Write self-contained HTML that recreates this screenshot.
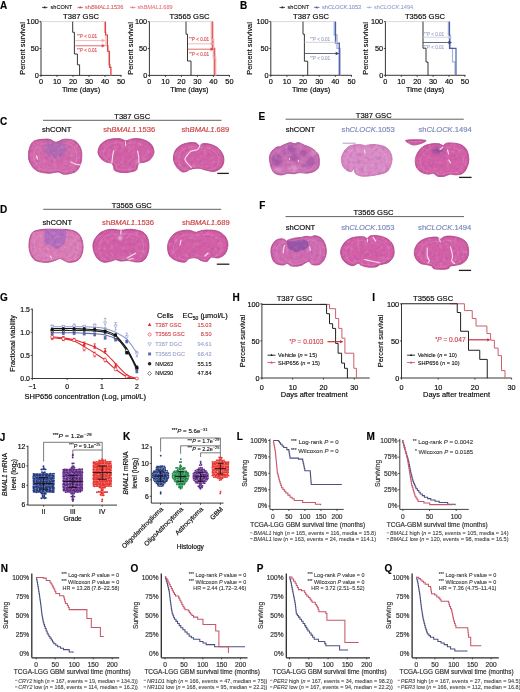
<!DOCTYPE html>
<html><head><meta charset="utf-8"><style>
html,body{margin:0;padding:0;background:#fff;}
svg{display:block;}
text{font-family:'Liberation Sans', Arial, sans-serif;}
</style></head><body>
<svg width="520" height="692" viewBox="0 0 520 692" font-family="'Liberation Sans', Arial, sans-serif"><text x="0.00" y="9.30" font-size="10" font-weight="bold" stroke="#231f20" stroke-width="0.18">A</text>
<line x1="42.00" y1="7.40" x2="47.50" y2="7.40" stroke="#231f20" stroke-width="0.8"/>
<path d="M44.75,6.10 L46.10,8.30 L43.40,8.30 Z" fill="#231f20"/>
<text x="50.50" y="9.30" font-size="5.6" stroke="#231f20" stroke-width="0.1">shCONT</text>
<line x1="77.50" y1="7.40" x2="83.00" y2="7.40" stroke="#dc4446" stroke-width="0.8"/>
<path d="M80.25,6.10 L81.60,8.30 L78.90,8.30 Z" fill="#dc4446"/>
<text x="85" y="9.3" font-size="5.6" fill="#d9605f" stroke="#d9605f" stroke-width="0.1">sh<tspan font-style="italic">BMAL1</tspan>.1536</text>
<line x1="130.00" y1="7.40" x2="135.50" y2="7.40" stroke="#e8787a" stroke-width="0.8"/>
<path d="M132.75,6.10 L134.10,8.30 L131.40,8.30 Z" fill="#e8787a"/>
<text x="137.5" y="9.3" font-size="5.6" fill="#e8787a" stroke="#e8787a" stroke-width="0.1">sh<tspan font-style="italic">BMAL1</tspan>.689</text>
<line x1="41.00" y1="21.10" x2="41.00" y2="75.80" stroke="#231f20" stroke-width="0.9"/>
<line x1="41.00" y1="75.40" x2="121.50" y2="75.40" stroke="#231f20" stroke-width="0.9"/>
<line x1="39.40" y1="21.60" x2="41.00" y2="21.60" stroke="#231f20" stroke-width="0.8"/>
<text x="38.80" y="24.20" font-size="7.3" text-anchor="end" stroke="#231f20" stroke-width="0.18">100</text>
<line x1="39.40" y1="48.50" x2="41.00" y2="48.50" stroke="#231f20" stroke-width="0.8"/>
<text x="38.80" y="51.10" font-size="7.3" text-anchor="end" stroke="#231f20" stroke-width="0.18">50</text>
<line x1="39.40" y1="75.40" x2="41.00" y2="75.40" stroke="#231f20" stroke-width="0.8"/>
<text x="38.80" y="78.00" font-size="7.3" text-anchor="end" stroke="#231f20" stroke-width="0.18">0</text>
<line x1="41.00" y1="75.40" x2="41.00" y2="77.00" stroke="#231f20" stroke-width="0.8"/>
<text x="41.00" y="84.30" font-size="7.3" text-anchor="middle" stroke="#231f20" stroke-width="0.18">0</text>
<line x1="57.00" y1="75.40" x2="57.00" y2="77.00" stroke="#231f20" stroke-width="0.8"/>
<text x="57.00" y="84.30" font-size="7.3" text-anchor="middle" stroke="#231f20" stroke-width="0.18">10</text>
<line x1="73.00" y1="75.40" x2="73.00" y2="77.00" stroke="#231f20" stroke-width="0.8"/>
<text x="73.00" y="84.30" font-size="7.3" text-anchor="middle" stroke="#231f20" stroke-width="0.18">20</text>
<line x1="89.00" y1="75.40" x2="89.00" y2="77.00" stroke="#231f20" stroke-width="0.8"/>
<text x="89.00" y="84.30" font-size="7.3" text-anchor="middle" stroke="#231f20" stroke-width="0.18">30</text>
<line x1="105.00" y1="75.40" x2="105.00" y2="77.00" stroke="#231f20" stroke-width="0.8"/>
<text x="105.00" y="84.30" font-size="7.3" text-anchor="middle" stroke="#231f20" stroke-width="0.18">40</text>
<line x1="121.00" y1="75.40" x2="121.00" y2="77.00" stroke="#231f20" stroke-width="0.8"/>
<text x="121.00" y="84.30" font-size="7.3" text-anchor="middle" stroke="#231f20" stroke-width="0.18">50</text>
<text x="81.00" y="18.90" font-size="7.6" text-anchor="middle" stroke="#231f20" stroke-width="0.18">T387 GSC</text>
<text x="24.50" y="48.50" font-size="7.4" text-anchor="middle" transform="rotate(-90 24.50 48.50)" stroke="#231f20" stroke-width="0.18">Percent survival</text>
<text x="81.00" y="92.00" font-size="7.3" text-anchor="middle" stroke="#231f20" stroke-width="0.18">Time (days)</text>
<path d="M104.50,21.60 L104.50,21.60 L104.50,32.36 L106.00,32.36 L106.00,32.36 L106.00,32.36 L106.00,45.81 L108.50,45.81 L108.50,45.81 L108.50,45.81 L108.50,64.64 L110.50,64.64 L110.50,64.64 L110.50,64.64 L110.50,75.40" stroke="#f0a8ab" stroke-width="1.1" fill="none"/>
<path d="M105.50,21.60 L105.50,21.60 L105.50,35.05 L107.50,35.05 L107.50,35.05 L107.50,35.05 L107.50,51.19 L109.50,51.19 L109.50,51.19 L109.50,51.19 L109.50,67.33 L111.00,67.33 L111.00,67.33 L111.00,67.33 L111.00,75.40" stroke="#dc4446" stroke-width="1.1" fill="none"/>
<line x1="41.00" y1="21.60" x2="104.50" y2="21.60" stroke="#d9d4d4" stroke-width="0.9"/>
<path d="M72.70,21.60 L72.70,32.30 L74.40,32.30 L74.40,54.00 L77.40,54.00 L77.40,64.80 L79.60,64.80 L79.60,75.40" stroke="#231f20" stroke-width="0.9" fill="none"/>
<line x1="75.50" y1="40.60" x2="103.10" y2="40.60" stroke="#f0a8ab" stroke-width="0.8"/>
<path d="M105.30,40.60 L101.78,38.84 L101.78,42.36 Z" fill="#f0a8ab"/>
<line x1="75.50" y1="45.80" x2="103.10" y2="45.80" stroke="#dc4446" stroke-width="0.8"/>
<path d="M105.30,45.80 L101.78,44.04 L101.78,47.56 Z" fill="#dc4446"/>
<text x="77.00" y="38.20" font-size="4.6" fill="#dc4446" stroke="#dc4446" stroke-width="0.1"><tspan font-size="3.6799999999999997" dy="-1">**</tspan><tspan dy="1" font-style="italic">P</tspan> &lt; 0.01</text>
<text x="77.00" y="52.20" font-size="4.6" fill="#dc4446" stroke="#dc4446" stroke-width="0.1"><tspan font-size="3.6799999999999997" dy="-1">**</tspan><tspan dy="1" font-style="italic">P</tspan> &lt; 0.01</text>
<line x1="149.40" y1="21.10" x2="149.40" y2="75.80" stroke="#231f20" stroke-width="0.9"/>
<line x1="149.40" y1="75.40" x2="229.90" y2="75.40" stroke="#231f20" stroke-width="0.9"/>
<line x1="147.80" y1="21.60" x2="149.40" y2="21.60" stroke="#231f20" stroke-width="0.8"/>
<text x="147.20" y="24.20" font-size="7.3" text-anchor="end" stroke="#231f20" stroke-width="0.18">100</text>
<line x1="147.80" y1="48.50" x2="149.40" y2="48.50" stroke="#231f20" stroke-width="0.8"/>
<text x="147.20" y="51.10" font-size="7.3" text-anchor="end" stroke="#231f20" stroke-width="0.18">50</text>
<line x1="147.80" y1="75.40" x2="149.40" y2="75.40" stroke="#231f20" stroke-width="0.8"/>
<text x="147.20" y="78.00" font-size="7.3" text-anchor="end" stroke="#231f20" stroke-width="0.18">0</text>
<line x1="149.40" y1="75.40" x2="149.40" y2="77.00" stroke="#231f20" stroke-width="0.8"/>
<text x="149.40" y="84.30" font-size="7.3" text-anchor="middle" stroke="#231f20" stroke-width="0.18">0</text>
<line x1="165.40" y1="75.40" x2="165.40" y2="77.00" stroke="#231f20" stroke-width="0.8"/>
<text x="165.40" y="84.30" font-size="7.3" text-anchor="middle" stroke="#231f20" stroke-width="0.18">10</text>
<line x1="181.40" y1="75.40" x2="181.40" y2="77.00" stroke="#231f20" stroke-width="0.8"/>
<text x="181.40" y="84.30" font-size="7.3" text-anchor="middle" stroke="#231f20" stroke-width="0.18">20</text>
<line x1="197.40" y1="75.40" x2="197.40" y2="77.00" stroke="#231f20" stroke-width="0.8"/>
<text x="197.40" y="84.30" font-size="7.3" text-anchor="middle" stroke="#231f20" stroke-width="0.18">30</text>
<line x1="213.40" y1="75.40" x2="213.40" y2="77.00" stroke="#231f20" stroke-width="0.8"/>
<text x="213.40" y="84.30" font-size="7.3" text-anchor="middle" stroke="#231f20" stroke-width="0.18">40</text>
<line x1="229.40" y1="75.40" x2="229.40" y2="77.00" stroke="#231f20" stroke-width="0.8"/>
<text x="229.40" y="84.30" font-size="7.3" text-anchor="middle" stroke="#231f20" stroke-width="0.18">50</text>
<text x="189.50" y="18.90" font-size="7.6" text-anchor="middle" stroke="#231f20" stroke-width="0.18">T3565 GSC</text>
<text x="133.00" y="48.50" font-size="7.4" text-anchor="middle" transform="rotate(-90 133.00 48.50)" stroke="#231f20" stroke-width="0.18">Percent survival</text>
<text x="189.40" y="92.00" font-size="7.3" text-anchor="middle" stroke="#231f20" stroke-width="0.18">Time (days)</text>
<line x1="149.40" y1="21.60" x2="212.00" y2="21.60" stroke="#d9d4d4" stroke-width="0.9"/>
<path d="M212.50,21.60 L212.50,48.50 L214.50,48.50 L214.50,75.40" stroke="#dc4446" stroke-width="1.6" fill="none"/>
<path d="M211.50,21.60 L211.50,39.89 L213.50,39.89 L213.50,57.65 L215.50,57.65 L215.50,75.40" stroke="#f0a8ab" stroke-width="1.6" fill="none"/>
<path d="M186.00,21.60 L186.00,34.20 L187.50,34.20 L187.50,61.00 L191.00,61.00 L191.00,75.40" stroke="#231f20" stroke-width="0.9" fill="none"/>
<line x1="188.00" y1="43.80" x2="211.80" y2="43.80" stroke="#f0a8ab" stroke-width="0.8"/>
<path d="M214.00,43.80 L210.48,42.04 L210.48,45.56 Z" fill="#f0a8ab"/>
<line x1="188.00" y1="49.20" x2="211.80" y2="49.20" stroke="#dc4446" stroke-width="0.8"/>
<path d="M214.00,49.20 L210.48,47.44 L210.48,50.96 Z" fill="#dc4446"/>
<text x="189.00" y="40.60" font-size="4.6" fill="#dc4446" stroke="#dc4446" stroke-width="0.1"><tspan font-size="3.6799999999999997" dy="-1">**</tspan><tspan dy="1" font-style="italic">P</tspan> &lt; 0.01</text>
<text x="189.00" y="55.80" font-size="4.6" fill="#dc4446" stroke="#dc4446" stroke-width="0.1"><tspan font-size="3.6799999999999997" dy="-1">**</tspan><tspan dy="1" font-style="italic">P</tspan> &lt; 0.01</text>
<text x="240.00" y="9.30" font-size="10" font-weight="bold" stroke="#231f20" stroke-width="0.18">B</text>
<line x1="279.50" y1="7.40" x2="285.00" y2="7.40" stroke="#231f20" stroke-width="0.8"/>
<path d="M282.25,6.10 L283.60,8.30 L280.90,8.30 Z" fill="#231f20"/>
<text x="287.50" y="9.30" font-size="5.6" stroke="#231f20" stroke-width="0.1">shCONT</text>
<line x1="314.00" y1="7.40" x2="319.50" y2="7.40" stroke="#4a5ea8" stroke-width="0.8"/>
<path d="M316.75,6.10 L318.10,8.30 L315.40,8.30 Z" fill="#4a5ea8"/>
<text x="322" y="9.3" font-size="5.6" fill="#8a95c8" stroke="#8a95c8" stroke-width="0.1">sh<tspan font-style="italic">CLOCK</tspan>.1053</text>
<line x1="366.50" y1="7.40" x2="372.00" y2="7.40" stroke="#a9b2da" stroke-width="0.8"/>
<path d="M369.25,6.10 L370.60,8.30 L367.90,8.30 Z" fill="#a9b2da"/>
<text x="374" y="9.3" font-size="5.6" fill="#9aa3d0" stroke="#9aa3d0" stroke-width="0.1">sh<tspan font-style="italic">CLOCK</tspan>.1494</text>
<line x1="270.80" y1="21.10" x2="270.80" y2="75.70" stroke="#231f20" stroke-width="0.9"/>
<line x1="270.80" y1="75.30" x2="351.95" y2="75.30" stroke="#231f20" stroke-width="0.9"/>
<line x1="269.20" y1="21.60" x2="270.80" y2="21.60" stroke="#231f20" stroke-width="0.8"/>
<text x="268.60" y="24.20" font-size="7.3" text-anchor="end" stroke="#231f20" stroke-width="0.18">100</text>
<line x1="269.20" y1="48.45" x2="270.80" y2="48.45" stroke="#231f20" stroke-width="0.8"/>
<text x="268.60" y="51.05" font-size="7.3" text-anchor="end" stroke="#231f20" stroke-width="0.18">50</text>
<line x1="269.20" y1="75.30" x2="270.80" y2="75.30" stroke="#231f20" stroke-width="0.8"/>
<text x="268.60" y="77.90" font-size="7.3" text-anchor="end" stroke="#231f20" stroke-width="0.18">0</text>
<line x1="270.80" y1="75.30" x2="270.80" y2="76.90" stroke="#231f20" stroke-width="0.8"/>
<text x="270.80" y="84.20" font-size="7.3" text-anchor="middle" stroke="#231f20" stroke-width="0.18">0</text>
<line x1="286.93" y1="75.30" x2="286.93" y2="76.90" stroke="#231f20" stroke-width="0.8"/>
<text x="286.93" y="84.20" font-size="7.3" text-anchor="middle" stroke="#231f20" stroke-width="0.18">10</text>
<line x1="303.06" y1="75.30" x2="303.06" y2="76.90" stroke="#231f20" stroke-width="0.8"/>
<text x="303.06" y="84.20" font-size="7.3" text-anchor="middle" stroke="#231f20" stroke-width="0.18">20</text>
<line x1="319.19" y1="75.30" x2="319.19" y2="76.90" stroke="#231f20" stroke-width="0.8"/>
<text x="319.19" y="84.20" font-size="7.3" text-anchor="middle" stroke="#231f20" stroke-width="0.18">30</text>
<line x1="335.32" y1="75.30" x2="335.32" y2="76.90" stroke="#231f20" stroke-width="0.8"/>
<text x="335.32" y="84.20" font-size="7.3" text-anchor="middle" stroke="#231f20" stroke-width="0.18">40</text>
<line x1="351.45" y1="75.30" x2="351.45" y2="76.90" stroke="#231f20" stroke-width="0.8"/>
<text x="351.45" y="84.20" font-size="7.3" text-anchor="middle" stroke="#231f20" stroke-width="0.18">50</text>
<text x="311.00" y="18.90" font-size="7.6" text-anchor="middle" stroke="#231f20" stroke-width="0.18">T387 GSC</text>
<text x="252.50" y="48.45" font-size="7.4" text-anchor="middle" transform="rotate(-90 252.50 48.45)" stroke="#231f20" stroke-width="0.18">Percent survival</text>
<text x="311.12" y="91.90" font-size="7.3" text-anchor="middle" stroke="#231f20" stroke-width="0.18">Time (days)</text>
<line x1="270.80" y1="21.60" x2="335.00" y2="21.60" stroke="#d4d5dc" stroke-width="0.9"/>
<path d="M334.20,21.60 L334.20,35.02 L337.00,35.02 L337.00,48.45 L340.20,48.45 L340.20,75.30" stroke="#a9b2da" stroke-width="1.3" fill="none"/>
<path d="M335.50,21.60 L335.50,43.08 L339.30,43.08 L339.30,75.30" stroke="#4a5ea8" stroke-width="1.3" fill="none"/>
<path d="M303.00,21.60 L303.00,34.20 L304.40,34.20 L304.40,61.20 L307.70,61.20 L307.70,75.30" stroke="#231f20" stroke-width="0.9" fill="none"/>
<line x1="304.40" y1="42.30" x2="337.00" y2="42.30" stroke="#c3c6d8" stroke-width="0.8"/>
<path d="M339.20,42.30 L335.68,40.54 L335.68,44.06 Z" fill="#c3c6d8"/>
<line x1="304.40" y1="53.50" x2="337.00" y2="53.50" stroke="#3b416e" stroke-width="0.8"/>
<path d="M339.20,53.50 L335.68,51.74 L335.68,55.26 Z" fill="#3b416e"/>
<text x="310.00" y="40.60" font-size="4.6" fill="#9aa0c4" stroke="#9aa0c4" stroke-width="0.1"><tspan font-size="3.6799999999999997" dy="-1">**</tspan><tspan dy="1" font-style="italic">P</tspan> &lt; 0.01</text>
<text x="310.00" y="60.40" font-size="4.6" fill="#9aa0c4" stroke="#9aa0c4" stroke-width="0.1"><tspan font-size="3.6799999999999997" dy="-1">**</tspan><tspan dy="1" font-style="italic">P</tspan> &lt; 0.01</text>
<line x1="385.40" y1="21.10" x2="385.40" y2="75.70" stroke="#231f20" stroke-width="0.9"/>
<line x1="385.40" y1="75.30" x2="465.40" y2="75.30" stroke="#231f20" stroke-width="0.9"/>
<line x1="383.80" y1="21.60" x2="385.40" y2="21.60" stroke="#231f20" stroke-width="0.8"/>
<text x="383.20" y="24.20" font-size="7.3" text-anchor="end" stroke="#231f20" stroke-width="0.18">100</text>
<line x1="383.80" y1="48.45" x2="385.40" y2="48.45" stroke="#231f20" stroke-width="0.8"/>
<text x="383.20" y="51.05" font-size="7.3" text-anchor="end" stroke="#231f20" stroke-width="0.18">50</text>
<line x1="383.80" y1="75.30" x2="385.40" y2="75.30" stroke="#231f20" stroke-width="0.8"/>
<text x="383.20" y="77.90" font-size="7.3" text-anchor="end" stroke="#231f20" stroke-width="0.18">0</text>
<line x1="385.40" y1="75.30" x2="385.40" y2="76.90" stroke="#231f20" stroke-width="0.8"/>
<text x="385.40" y="84.20" font-size="7.3" text-anchor="middle" stroke="#231f20" stroke-width="0.18">0</text>
<line x1="401.30" y1="75.30" x2="401.30" y2="76.90" stroke="#231f20" stroke-width="0.8"/>
<text x="401.30" y="84.20" font-size="7.3" text-anchor="middle" stroke="#231f20" stroke-width="0.18">10</text>
<line x1="417.20" y1="75.30" x2="417.20" y2="76.90" stroke="#231f20" stroke-width="0.8"/>
<text x="417.20" y="84.20" font-size="7.3" text-anchor="middle" stroke="#231f20" stroke-width="0.18">20</text>
<line x1="433.10" y1="75.30" x2="433.10" y2="76.90" stroke="#231f20" stroke-width="0.8"/>
<text x="433.10" y="84.20" font-size="7.3" text-anchor="middle" stroke="#231f20" stroke-width="0.18">30</text>
<line x1="449.00" y1="75.30" x2="449.00" y2="76.90" stroke="#231f20" stroke-width="0.8"/>
<text x="449.00" y="84.20" font-size="7.3" text-anchor="middle" stroke="#231f20" stroke-width="0.18">40</text>
<line x1="464.90" y1="75.30" x2="464.90" y2="76.90" stroke="#231f20" stroke-width="0.8"/>
<text x="464.90" y="84.20" font-size="7.3" text-anchor="middle" stroke="#231f20" stroke-width="0.18">50</text>
<text x="425.00" y="18.90" font-size="7.6" text-anchor="middle" stroke="#231f20" stroke-width="0.18">T3565 GSC</text>
<text x="367.80" y="48.45" font-size="7.4" text-anchor="middle" transform="rotate(-90 367.80 48.45)" stroke="#231f20" stroke-width="0.18">Percent survival</text>
<text x="425.15" y="91.90" font-size="7.3" text-anchor="middle" stroke="#231f20" stroke-width="0.18">Time (days)</text>
<line x1="385.40" y1="21.60" x2="449.00" y2="21.60" stroke="#d4d5dc" stroke-width="0.9"/>
<path d="M448.40,21.60 L448.40,35.02 L450.50,35.02 L450.50,48.45 L452.50,48.45 L452.50,61.88 L455.00,61.88 L455.00,75.30" stroke="#a9b2da" stroke-width="1.2" fill="none"/>
<path d="M449.50,21.60 L449.50,48.45 L456.00,48.45 L456.00,75.30" stroke="#4a5ea8" stroke-width="1.2" fill="none"/>
<path d="M423.00,21.60 L423.00,48.20 L426.00,48.20 L426.00,62.00 L428.00,62.00 L428.00,75.30" stroke="#231f20" stroke-width="0.9" fill="none"/>
<line x1="423.00" y1="37.20" x2="449.80" y2="37.20" stroke="#c3c6d8" stroke-width="0.8"/>
<path d="M452.00,37.20 L448.48,35.44 L448.48,38.96 Z" fill="#c3c6d8"/>
<line x1="423.00" y1="42.50" x2="449.80" y2="42.50" stroke="#3b416e" stroke-width="0.8"/>
<path d="M452.00,42.50 L448.48,40.74 L448.48,44.26 Z" fill="#3b416e"/>
<text x="424.00" y="35.60" font-size="4.6" fill="#9aa0c4" stroke="#9aa0c4" stroke-width="0.1"><tspan font-size="3.6799999999999997" dy="-1">**</tspan><tspan dy="1" font-style="italic">P</tspan> &lt; 0.01</text>
<text x="424.00" y="49.40" font-size="4.6" fill="#9aa0c4" stroke="#9aa0c4" stroke-width="0.1"><tspan font-size="3.6799999999999997" dy="-1">**</tspan><tspan dy="1" font-style="italic">P</tspan> &lt; 0.01</text>
<defs><filter id="tex" x="-5%" y="-5%" width="110%" height="110%" color-interpolation-filters="sRGB"><feTurbulence type="fractalNoise" baseFrequency="0.28" numOctaves="2" seed="4" result="n"/><feColorMatrix in="n" type="matrix" values="0 0 0 0 1  0 0 0 0 0.9  0 0 0 0 0.96  0.45 0 0 0 -0.22" result="lt"/><feComposite in="lt" in2="SourceAlpha" operator="in" result="lt2"/><feColorMatrix in="n" type="matrix" values="0 0 0 0 0.6  0 0 0 0 0.3  0 0 0 0 0.6  0 0.8 0 0 -0.38" result="dk"/><feComposite in="dk" in2="SourceAlpha" operator="in" result="dk2"/><feMerge><feMergeNode in="SourceGraphic"/><feMergeNode in="lt2"/><feMergeNode in="dk2"/></feMerge></filter><filter id="bl3" x="-30%" y="-30%" width="160%" height="160%"><feGaussianBlur stdDeviation="1.8"/></filter></defs>
<defs><filter id="bl1" x="-20%" y="-20%" width="140%" height="140%"><feGaussianBlur stdDeviation="0.9"/></filter><filter id="bl2" x="-20%" y="-20%" width="140%" height="140%"><feGaussianBlur stdDeviation="0.5"/></filter></defs>
<text x="0.00" y="124.60" font-size="10" font-weight="bold" stroke="#231f20" stroke-width="0.18">C</text>
<line x1="43.00" y1="120.30" x2="221.50" y2="120.30" stroke="#3a3a3a" stroke-width="0.8"/>
<text x="132.20" y="118.60" font-size="7.6" text-anchor="middle" stroke="#231f20" stroke-width="0.18">T387 GSC</text>
<text x="56.70" y="132.20" font-size="7.6" text-anchor="middle" stroke="#231f20" stroke-width="0.18">shCONT</text>
<text x="129.20" y="132.20" font-size="7.6" text-anchor="middle" fill="#cd4646" stroke="#cd4646" stroke-width="0.18">sh<tspan font-style="italic">BMAL1</tspan>.1536</text>
<text x="205.40" y="132.20" font-size="7.6" text-anchor="middle" fill="#cd4646" stroke="#cd4646" stroke-width="0.18">sh<tspan font-style="italic">BMAL1</tspan>.689</text>
<clipPath id="bc160"><path d="M35.70,140.40 C38.67,139.52 45.42,138.90 48.80,139.20 C52.18,139.50 53.42,142.20 56.00,142.20 C58.58,142.20 61.12,139.40 64.30,139.20 C67.48,139.00 72.32,139.32 75.10,141.00 C77.88,142.68 79.92,146.33 81.00,149.30 C82.08,152.27 81.80,156.02 81.60,158.80 C81.40,161.58 80.88,163.80 79.80,166.00 C78.72,168.20 77.68,170.62 75.10,172.00 C72.52,173.38 67.08,174.30 64.30,174.30 C61.52,174.30 60.98,172.18 58.40,172.00 C55.82,171.82 52.38,173.40 48.80,173.20 C45.22,173.00 40.07,172.60 36.90,170.80 C33.73,169.00 31.18,165.38 29.80,162.40 C28.42,159.42 28.40,155.88 28.60,152.90 C28.80,149.92 29.82,146.58 31.00,144.50 C32.18,142.42 32.73,141.28 35.70,140.40Z"/></clipPath>
<g filter="url(#tex)"><path d="M35.70,140.40 C38.67,139.52 45.42,138.90 48.80,139.20 C52.18,139.50 53.42,142.20 56.00,142.20 C58.58,142.20 61.12,139.40 64.30,139.20 C67.48,139.00 72.32,139.32 75.10,141.00 C77.88,142.68 79.92,146.33 81.00,149.30 C82.08,152.27 81.80,156.02 81.60,158.80 C81.40,161.58 80.88,163.80 79.80,166.00 C78.72,168.20 77.68,170.62 75.10,172.00 C72.52,173.38 67.08,174.30 64.30,174.30 C61.52,174.30 60.98,172.18 58.40,172.00 C55.82,171.82 52.38,173.40 48.80,173.20 C45.22,173.00 40.07,172.60 36.90,170.80 C33.73,169.00 31.18,165.38 29.80,162.40 C28.42,159.42 28.40,155.88 28.60,152.90 C28.80,149.92 29.82,146.58 31.00,144.50 C32.18,142.42 32.73,141.28 35.70,140.40Z" fill="#d468ab" stroke="#b84c8e" stroke-width="0.9"/>
<g clip-path="url(#bc160)">
<path d="M35.70,140.40 C38.67,139.52 45.42,138.90 48.80,139.20 C52.18,139.50 53.42,142.20 56.00,142.20 C58.58,142.20 61.12,139.40 64.30,139.20 C67.48,139.00 72.32,139.32 75.10,141.00 C77.88,142.68 79.92,146.33 81.00,149.30 C82.08,152.27 81.80,156.02 81.60,158.80 C81.40,161.58 80.88,163.80 79.80,166.00 C78.72,168.20 77.68,170.62 75.10,172.00 C72.52,173.38 67.08,174.30 64.30,174.30 C61.52,174.30 60.98,172.18 58.40,172.00 C55.82,171.82 52.38,173.40 48.80,173.20 C45.22,173.00 40.07,172.60 36.90,170.80 C33.73,169.00 31.18,165.38 29.80,162.40 C28.42,159.42 28.40,155.88 28.60,152.90 C28.80,149.92 29.82,146.58 31.00,144.50 C32.18,142.42 32.73,141.28 35.70,140.40Z" fill="none" stroke="#b84c8e" stroke-width="2.4" opacity="0.45" filter="url(#bl2)"/>
<path d="M35.70,140.40 C38.67,139.52 45.42,138.90 48.80,139.20 C52.18,139.50 53.42,142.20 56.00,142.20 C58.58,142.20 61.12,139.40 64.30,139.20 C67.48,139.00 72.32,139.32 75.10,141.00 C77.88,142.68 79.92,146.33 81.00,149.30 C82.08,152.27 81.80,156.02 81.60,158.80 C81.40,161.58 80.88,163.80 79.80,166.00 C78.72,168.20 77.68,170.62 75.10,172.00 C72.52,173.38 67.08,174.30 64.30,174.30 C61.52,174.30 60.98,172.18 58.40,172.00 C55.82,171.82 52.38,173.40 48.80,173.20 C45.22,173.00 40.07,172.60 36.90,170.80 C33.73,169.00 31.18,165.38 29.80,162.40 C28.42,159.42 28.40,155.88 28.60,152.90 C28.80,149.92 29.82,146.58 31.00,144.50 C32.18,142.42 32.73,141.28 35.70,140.40Z" fill="none" stroke="#f0b5d8" stroke-width="1.12" opacity="0.28" filter="url(#bl2)" transform="translate(11.19 32.23) scale(0.8)"/>
<path d="M35.70,140.40 C38.67,139.52 45.42,138.90 48.80,139.20 C52.18,139.50 53.42,142.20 56.00,142.20 C58.58,142.20 61.12,139.40 64.30,139.20 C67.48,139.00 72.32,139.32 75.10,141.00 C77.88,142.68 79.92,146.33 81.00,149.30 C82.08,152.27 81.80,156.02 81.60,158.80 C81.40,161.58 80.88,163.80 79.80,166.00 C78.72,168.20 77.68,170.62 75.10,172.00 C72.52,173.38 67.08,174.30 64.30,174.30 C61.52,174.30 60.98,172.18 58.40,172.00 C55.82,171.82 52.38,173.40 48.80,173.20 C45.22,173.00 40.07,172.60 36.90,170.80 C33.73,169.00 31.18,165.38 29.80,162.40 C28.42,159.42 28.40,155.88 28.60,152.90 C28.80,149.92 29.82,146.58 31.00,144.50 C32.18,142.42 32.73,141.28 35.70,140.40Z" fill="none" stroke="#f0b5d8" stroke-width="1.50" opacity="0.14" filter="url(#bl2)" transform="translate(22.38 63.45) scale(0.6)"/>
<path d="M45.00,144.00 C46.50,142.08 51.83,141.67 55.00,141.50 C58.17,141.33 62.17,141.58 64.00,143.00 C65.83,144.42 66.33,147.67 66.00,150.00 C65.67,152.33 64.17,155.67 62.00,157.00 C59.83,158.33 55.67,158.67 53.00,158.00 C50.33,157.33 47.33,155.33 46.00,153.00 C44.67,150.67 43.50,145.92 45.00,144.00Z" fill="#a667b5" opacity="0.75" filter="url(#bl3)"/>
</g></g>
<path d="M71.00,162.00 C71.83,162.38 74.33,163.80 76.00,164.30 C77.67,164.80 80.17,164.88 81.00,165.00" fill="none" stroke="#f6dcea" stroke-width="1.15" stroke-linecap="round" filter="url(#bl2)"/>
<path d="M36.50,156.00 C36.67,156.50 37.33,158.50 37.50,159.00" fill="none" stroke="#f6dcea" stroke-width="1.15" stroke-linecap="round" filter="url(#bl2)"/>
<clipPath id="bc170"><path d="M126.00,140.80 C124.42,140.75 122.67,139.37 121.00,139.00 C119.33,138.63 118.00,138.52 116.00,138.60 C114.00,138.68 110.93,139.02 109.00,139.50 C107.07,139.98 105.90,140.50 104.40,141.50 C102.90,142.50 101.07,143.82 100.00,145.50 C98.93,147.18 98.08,149.77 98.00,151.60 C97.92,153.43 98.67,155.05 99.50,156.50 C100.33,157.95 101.67,159.30 103.00,160.30 C104.33,161.30 106.07,162.03 107.50,162.50 C108.93,162.97 110.60,162.43 111.60,163.10 C112.60,163.77 113.02,165.30 113.50,166.50 C113.98,167.70 113.58,169.38 114.50,170.30 C115.42,171.22 117.32,171.62 119.00,172.00 C120.68,172.38 122.77,172.60 124.60,172.60 C126.43,172.60 128.08,172.38 130.00,172.00 C131.92,171.62 134.85,171.22 136.10,170.30 C137.35,169.38 137.02,167.70 137.50,166.50 C137.98,165.30 137.92,163.80 139.00,163.10 C140.08,162.40 142.32,162.77 144.00,162.30 C145.68,161.83 147.68,161.27 149.10,160.30 C150.52,159.33 151.68,157.95 152.50,156.50 C153.32,155.05 154.08,153.43 154.00,151.60 C153.92,149.77 153.07,147.18 152.00,145.50 C150.93,143.82 149.27,142.53 147.60,141.50 C145.93,140.47 143.92,139.78 142.00,139.30 C140.08,138.82 138.02,138.60 136.10,138.60 C134.18,138.60 132.18,138.93 130.50,139.30 C128.82,139.67 127.58,140.85 126.00,140.80Z"/></clipPath>
<g filter="url(#tex)"><path d="M126.00,140.80 C124.42,140.75 122.67,139.37 121.00,139.00 C119.33,138.63 118.00,138.52 116.00,138.60 C114.00,138.68 110.93,139.02 109.00,139.50 C107.07,139.98 105.90,140.50 104.40,141.50 C102.90,142.50 101.07,143.82 100.00,145.50 C98.93,147.18 98.08,149.77 98.00,151.60 C97.92,153.43 98.67,155.05 99.50,156.50 C100.33,157.95 101.67,159.30 103.00,160.30 C104.33,161.30 106.07,162.03 107.50,162.50 C108.93,162.97 110.60,162.43 111.60,163.10 C112.60,163.77 113.02,165.30 113.50,166.50 C113.98,167.70 113.58,169.38 114.50,170.30 C115.42,171.22 117.32,171.62 119.00,172.00 C120.68,172.38 122.77,172.60 124.60,172.60 C126.43,172.60 128.08,172.38 130.00,172.00 C131.92,171.62 134.85,171.22 136.10,170.30 C137.35,169.38 137.02,167.70 137.50,166.50 C137.98,165.30 137.92,163.80 139.00,163.10 C140.08,162.40 142.32,162.77 144.00,162.30 C145.68,161.83 147.68,161.27 149.10,160.30 C150.52,159.33 151.68,157.95 152.50,156.50 C153.32,155.05 154.08,153.43 154.00,151.60 C153.92,149.77 153.07,147.18 152.00,145.50 C150.93,143.82 149.27,142.53 147.60,141.50 C145.93,140.47 143.92,139.78 142.00,139.30 C140.08,138.82 138.02,138.60 136.10,138.60 C134.18,138.60 132.18,138.93 130.50,139.30 C128.82,139.67 127.58,140.85 126.00,140.80Z" fill="#d25fa5" stroke="#b84c8e" stroke-width="0.9"/>
<g clip-path="url(#bc170)">
<path d="M126.00,140.80 C124.42,140.75 122.67,139.37 121.00,139.00 C119.33,138.63 118.00,138.52 116.00,138.60 C114.00,138.68 110.93,139.02 109.00,139.50 C107.07,139.98 105.90,140.50 104.40,141.50 C102.90,142.50 101.07,143.82 100.00,145.50 C98.93,147.18 98.08,149.77 98.00,151.60 C97.92,153.43 98.67,155.05 99.50,156.50 C100.33,157.95 101.67,159.30 103.00,160.30 C104.33,161.30 106.07,162.03 107.50,162.50 C108.93,162.97 110.60,162.43 111.60,163.10 C112.60,163.77 113.02,165.30 113.50,166.50 C113.98,167.70 113.58,169.38 114.50,170.30 C115.42,171.22 117.32,171.62 119.00,172.00 C120.68,172.38 122.77,172.60 124.60,172.60 C126.43,172.60 128.08,172.38 130.00,172.00 C131.92,171.62 134.85,171.22 136.10,170.30 C137.35,169.38 137.02,167.70 137.50,166.50 C137.98,165.30 137.92,163.80 139.00,163.10 C140.08,162.40 142.32,162.77 144.00,162.30 C145.68,161.83 147.68,161.27 149.10,160.30 C150.52,159.33 151.68,157.95 152.50,156.50 C153.32,155.05 154.08,153.43 154.00,151.60 C153.92,149.77 153.07,147.18 152.00,145.50 C150.93,143.82 149.27,142.53 147.60,141.50 C145.93,140.47 143.92,139.78 142.00,139.30 C140.08,138.82 138.02,138.60 136.10,138.60 C134.18,138.60 132.18,138.93 130.50,139.30 C128.82,139.67 127.58,140.85 126.00,140.80Z" fill="none" stroke="#b84c8e" stroke-width="2.4" opacity="0.45" filter="url(#bl2)"/>
<path d="M126.00,140.80 C124.42,140.75 122.67,139.37 121.00,139.00 C119.33,138.63 118.00,138.52 116.00,138.60 C114.00,138.68 110.93,139.02 109.00,139.50 C107.07,139.98 105.90,140.50 104.40,141.50 C102.90,142.50 101.07,143.82 100.00,145.50 C98.93,147.18 98.08,149.77 98.00,151.60 C97.92,153.43 98.67,155.05 99.50,156.50 C100.33,157.95 101.67,159.30 103.00,160.30 C104.33,161.30 106.07,162.03 107.50,162.50 C108.93,162.97 110.60,162.43 111.60,163.10 C112.60,163.77 113.02,165.30 113.50,166.50 C113.98,167.70 113.58,169.38 114.50,170.30 C115.42,171.22 117.32,171.62 119.00,172.00 C120.68,172.38 122.77,172.60 124.60,172.60 C126.43,172.60 128.08,172.38 130.00,172.00 C131.92,171.62 134.85,171.22 136.10,170.30 C137.35,169.38 137.02,167.70 137.50,166.50 C137.98,165.30 137.92,163.80 139.00,163.10 C140.08,162.40 142.32,162.77 144.00,162.30 C145.68,161.83 147.68,161.27 149.10,160.30 C150.52,159.33 151.68,157.95 152.50,156.50 C153.32,155.05 154.08,153.43 154.00,151.60 C153.92,149.77 153.07,147.18 152.00,145.50 C150.93,143.82 149.27,142.53 147.60,141.50 C145.93,140.47 143.92,139.78 142.00,139.30 C140.08,138.82 138.02,138.60 136.10,138.60 C134.18,138.60 132.18,138.93 130.50,139.30 C128.82,139.67 127.58,140.85 126.00,140.80Z" fill="none" stroke="#f0b5d8" stroke-width="1.12" opacity="0.28" filter="url(#bl2)" transform="translate(25.13 31.91) scale(0.8)"/>
<path d="M126.00,140.80 C124.42,140.75 122.67,139.37 121.00,139.00 C119.33,138.63 118.00,138.52 116.00,138.60 C114.00,138.68 110.93,139.02 109.00,139.50 C107.07,139.98 105.90,140.50 104.40,141.50 C102.90,142.50 101.07,143.82 100.00,145.50 C98.93,147.18 98.08,149.77 98.00,151.60 C97.92,153.43 98.67,155.05 99.50,156.50 C100.33,157.95 101.67,159.30 103.00,160.30 C104.33,161.30 106.07,162.03 107.50,162.50 C108.93,162.97 110.60,162.43 111.60,163.10 C112.60,163.77 113.02,165.30 113.50,166.50 C113.98,167.70 113.58,169.38 114.50,170.30 C115.42,171.22 117.32,171.62 119.00,172.00 C120.68,172.38 122.77,172.60 124.60,172.60 C126.43,172.60 128.08,172.38 130.00,172.00 C131.92,171.62 134.85,171.22 136.10,170.30 C137.35,169.38 137.02,167.70 137.50,166.50 C137.98,165.30 137.92,163.80 139.00,163.10 C140.08,162.40 142.32,162.77 144.00,162.30 C145.68,161.83 147.68,161.27 149.10,160.30 C150.52,159.33 151.68,157.95 152.50,156.50 C153.32,155.05 154.08,153.43 154.00,151.60 C153.92,149.77 153.07,147.18 152.00,145.50 C150.93,143.82 149.27,142.53 147.60,141.50 C145.93,140.47 143.92,139.78 142.00,139.30 C140.08,138.82 138.02,138.60 136.10,138.60 C134.18,138.60 132.18,138.93 130.50,139.30 C128.82,139.67 127.58,140.85 126.00,140.80Z" fill="none" stroke="#f0b5d8" stroke-width="1.50" opacity="0.14" filter="url(#bl2)" transform="translate(50.26 62.82) scale(0.6)"/>
</g></g>
<path d="M113.80,150.50 C113.60,151.42 112.87,154.42 112.60,156.00 C112.33,157.58 112.33,158.83 112.20,160.00 C112.07,161.17 111.87,162.50 111.80,163.00" fill="none" stroke="#f6dcea" stroke-width="1.15" stroke-linecap="round" filter="url(#bl2)"/>
<path d="M137.50,151.00 C137.68,151.83 138.38,154.50 138.60,156.00 C138.82,157.50 138.73,158.83 138.80,160.00 C138.87,161.17 138.97,162.50 139.00,163.00" fill="none" stroke="#f6dcea" stroke-width="1.15" stroke-linecap="round" filter="url(#bl2)"/>
<path d="M125.80,141.00 C125.77,141.75 125.63,144.75 125.60,145.50" fill="none" stroke="#f6dcea" stroke-width="1.15" stroke-linecap="round" filter="url(#bl2)"/>
<clipPath id="bc180"><path d="M181.50,171.50 C179.77,170.53 177.13,167.82 175.80,165.70 C174.47,163.58 173.60,161.30 173.50,158.80 C173.40,156.30 173.87,153.02 175.20,150.70 C176.53,148.38 178.90,146.25 181.50,144.90 C184.10,143.55 188.30,142.88 190.80,142.60 C193.30,142.32 195.07,142.62 196.50,143.20 C197.93,143.78 198.43,146.00 199.40,146.10 C200.37,146.20 200.47,144.10 202.30,143.80 C204.13,143.50 207.70,143.53 210.40,144.30 C213.10,145.07 216.38,146.57 218.50,148.40 C220.62,150.23 222.23,153.00 223.10,155.30 C223.97,157.60 224.08,160.08 223.70,162.20 C223.32,164.32 222.45,166.45 220.80,168.00 C219.15,169.55 216.50,171.22 213.80,171.50 C211.10,171.78 207.10,170.25 204.60,169.70 C202.10,169.15 201.10,168.28 198.80,168.20 C196.50,168.12 192.90,168.65 190.80,169.20 C188.70,169.75 187.75,171.12 186.20,171.50 C184.65,171.88 183.23,172.47 181.50,171.50Z"/></clipPath>
<g filter="url(#tex)"><path d="M181.50,171.50 C179.77,170.53 177.13,167.82 175.80,165.70 C174.47,163.58 173.60,161.30 173.50,158.80 C173.40,156.30 173.87,153.02 175.20,150.70 C176.53,148.38 178.90,146.25 181.50,144.90 C184.10,143.55 188.30,142.88 190.80,142.60 C193.30,142.32 195.07,142.62 196.50,143.20 C197.93,143.78 198.43,146.00 199.40,146.10 C200.37,146.20 200.47,144.10 202.30,143.80 C204.13,143.50 207.70,143.53 210.40,144.30 C213.10,145.07 216.38,146.57 218.50,148.40 C220.62,150.23 222.23,153.00 223.10,155.30 C223.97,157.60 224.08,160.08 223.70,162.20 C223.32,164.32 222.45,166.45 220.80,168.00 C219.15,169.55 216.50,171.22 213.80,171.50 C211.10,171.78 207.10,170.25 204.60,169.70 C202.10,169.15 201.10,168.28 198.80,168.20 C196.50,168.12 192.90,168.65 190.80,169.20 C188.70,169.75 187.75,171.12 186.20,171.50 C184.65,171.88 183.23,172.47 181.50,171.50Z" fill="#d25fa5" stroke="#b84c8e" stroke-width="0.9"/>
<g clip-path="url(#bc180)">
<path d="M181.50,171.50 C179.77,170.53 177.13,167.82 175.80,165.70 C174.47,163.58 173.60,161.30 173.50,158.80 C173.40,156.30 173.87,153.02 175.20,150.70 C176.53,148.38 178.90,146.25 181.50,144.90 C184.10,143.55 188.30,142.88 190.80,142.60 C193.30,142.32 195.07,142.62 196.50,143.20 C197.93,143.78 198.43,146.00 199.40,146.10 C200.37,146.20 200.47,144.10 202.30,143.80 C204.13,143.50 207.70,143.53 210.40,144.30 C213.10,145.07 216.38,146.57 218.50,148.40 C220.62,150.23 222.23,153.00 223.10,155.30 C223.97,157.60 224.08,160.08 223.70,162.20 C223.32,164.32 222.45,166.45 220.80,168.00 C219.15,169.55 216.50,171.22 213.80,171.50 C211.10,171.78 207.10,170.25 204.60,169.70 C202.10,169.15 201.10,168.28 198.80,168.20 C196.50,168.12 192.90,168.65 190.80,169.20 C188.70,169.75 187.75,171.12 186.20,171.50 C184.65,171.88 183.23,172.47 181.50,171.50Z" fill="none" stroke="#b84c8e" stroke-width="2.4" opacity="0.45" filter="url(#bl2)"/>
<path d="M181.50,171.50 C179.77,170.53 177.13,167.82 175.80,165.70 C174.47,163.58 173.60,161.30 173.50,158.80 C173.40,156.30 173.87,153.02 175.20,150.70 C176.53,148.38 178.90,146.25 181.50,144.90 C184.10,143.55 188.30,142.88 190.80,142.60 C193.30,142.32 195.07,142.62 196.50,143.20 C197.93,143.78 198.43,146.00 199.40,146.10 C200.37,146.20 200.47,144.10 202.30,143.80 C204.13,143.50 207.70,143.53 210.40,144.30 C213.10,145.07 216.38,146.57 218.50,148.40 C220.62,150.23 222.23,153.00 223.10,155.30 C223.97,157.60 224.08,160.08 223.70,162.20 C223.32,164.32 222.45,166.45 220.80,168.00 C219.15,169.55 216.50,171.22 213.80,171.50 C211.10,171.78 207.10,170.25 204.60,169.70 C202.10,169.15 201.10,168.28 198.80,168.20 C196.50,168.12 192.90,168.65 190.80,169.20 C188.70,169.75 187.75,171.12 186.20,171.50 C184.65,171.88 183.23,172.47 181.50,171.50Z" fill="none" stroke="#f0b5d8" stroke-width="1.12" opacity="0.28" filter="url(#bl2)" transform="translate(39.65 32.53) scale(0.8)"/>
<path d="M181.50,171.50 C179.77,170.53 177.13,167.82 175.80,165.70 C174.47,163.58 173.60,161.30 173.50,158.80 C173.40,156.30 173.87,153.02 175.20,150.70 C176.53,148.38 178.90,146.25 181.50,144.90 C184.10,143.55 188.30,142.88 190.80,142.60 C193.30,142.32 195.07,142.62 196.50,143.20 C197.93,143.78 198.43,146.00 199.40,146.10 C200.37,146.20 200.47,144.10 202.30,143.80 C204.13,143.50 207.70,143.53 210.40,144.30 C213.10,145.07 216.38,146.57 218.50,148.40 C220.62,150.23 222.23,153.00 223.10,155.30 C223.97,157.60 224.08,160.08 223.70,162.20 C223.32,164.32 222.45,166.45 220.80,168.00 C219.15,169.55 216.50,171.22 213.80,171.50 C211.10,171.78 207.10,170.25 204.60,169.70 C202.10,169.15 201.10,168.28 198.80,168.20 C196.50,168.12 192.90,168.65 190.80,169.20 C188.70,169.75 187.75,171.12 186.20,171.50 C184.65,171.88 183.23,172.47 181.50,171.50Z" fill="none" stroke="#f0b5d8" stroke-width="1.50" opacity="0.14" filter="url(#bl2)" transform="translate(79.31 64.07) scale(0.6)"/>
</g></g>
<path d="M200.00,145.00 C199.62,145.75 199.23,148.45 197.70,149.50 C196.17,150.55 192.72,150.13 190.80,151.30 C188.88,152.47 187.17,155.07 186.20,156.50 C185.23,157.93 184.62,158.57 185.00,159.90 C185.38,161.23 187.45,163.25 188.50,164.50 C189.55,165.75 190.83,166.92 191.30,167.40" fill="none" stroke="#f6dcea" stroke-width="1.15" stroke-linecap="round" filter="url(#bl2)"/>
<line x1="217.30" y1="173.40" x2="228.80" y2="173.40" stroke="#231f20" stroke-width="1.3"/>
<text x="0.00" y="213.40" font-size="10" font-weight="bold" stroke="#231f20" stroke-width="0.18">D</text>
<line x1="43.30" y1="209.30" x2="221.20" y2="209.30" stroke="#3a3a3a" stroke-width="0.8"/>
<text x="131.80" y="207.80" font-size="7.6" text-anchor="middle" stroke="#231f20" stroke-width="0.18">T3565 GSC</text>
<text x="57.30" y="224.60" font-size="7.6" text-anchor="middle" stroke="#231f20" stroke-width="0.18">shCONT</text>
<text x="128.10" y="224.60" font-size="7.6" text-anchor="middle" fill="#cd4646" stroke="#cd4646" stroke-width="0.18">sh<tspan font-style="italic">BMAL1</tspan>.1536</text>
<text x="205.80" y="224.60" font-size="7.6" text-anchor="middle" fill="#cd4646" stroke="#cd4646" stroke-width="0.18">sh<tspan font-style="italic">BMAL1</tspan>.689</text>
<clipPath id="bc195"><path d="M31.50,233.80 C32.53,232.02 33.08,231.57 35.40,230.80 C37.72,230.03 41.97,229.45 45.40,229.20 C48.83,228.95 52.53,229.25 56.00,229.30 C59.47,229.35 62.97,229.13 66.20,229.50 C69.43,229.87 72.97,230.27 75.40,231.50 C77.83,232.73 79.52,234.45 80.80,236.90 C82.08,239.35 82.98,243.12 83.10,246.20 C83.22,249.28 82.53,252.97 81.50,255.40 C80.47,257.83 78.95,259.65 76.90,260.80 C74.85,261.95 71.25,262.30 69.20,262.30 C67.15,262.30 66.13,261.43 64.60,260.80 C63.07,260.17 61.53,258.58 60.00,258.50 C58.47,258.42 57.45,259.67 55.40,260.30 C53.35,260.93 50.52,262.10 47.70,262.30 C44.88,262.50 40.93,262.13 38.50,261.50 C36.07,260.87 34.60,260.28 33.10,258.50 C31.60,256.72 30.15,253.63 29.50,250.80 C28.85,247.97 28.87,244.33 29.20,241.50 C29.53,238.67 30.47,235.58 31.50,233.80Z"/></clipPath>
<g filter="url(#tex)"><path d="M31.50,233.80 C32.53,232.02 33.08,231.57 35.40,230.80 C37.72,230.03 41.97,229.45 45.40,229.20 C48.83,228.95 52.53,229.25 56.00,229.30 C59.47,229.35 62.97,229.13 66.20,229.50 C69.43,229.87 72.97,230.27 75.40,231.50 C77.83,232.73 79.52,234.45 80.80,236.90 C82.08,239.35 82.98,243.12 83.10,246.20 C83.22,249.28 82.53,252.97 81.50,255.40 C80.47,257.83 78.95,259.65 76.90,260.80 C74.85,261.95 71.25,262.30 69.20,262.30 C67.15,262.30 66.13,261.43 64.60,260.80 C63.07,260.17 61.53,258.58 60.00,258.50 C58.47,258.42 57.45,259.67 55.40,260.30 C53.35,260.93 50.52,262.10 47.70,262.30 C44.88,262.50 40.93,262.13 38.50,261.50 C36.07,260.87 34.60,260.28 33.10,258.50 C31.60,256.72 30.15,253.63 29.50,250.80 C28.85,247.97 28.87,244.33 29.20,241.50 C29.53,238.67 30.47,235.58 31.50,233.80Z" fill="#da7cb6" stroke="#b84c8e" stroke-width="0.9"/>
<g clip-path="url(#bc195)">
<path d="M31.50,233.80 C32.53,232.02 33.08,231.57 35.40,230.80 C37.72,230.03 41.97,229.45 45.40,229.20 C48.83,228.95 52.53,229.25 56.00,229.30 C59.47,229.35 62.97,229.13 66.20,229.50 C69.43,229.87 72.97,230.27 75.40,231.50 C77.83,232.73 79.52,234.45 80.80,236.90 C82.08,239.35 82.98,243.12 83.10,246.20 C83.22,249.28 82.53,252.97 81.50,255.40 C80.47,257.83 78.95,259.65 76.90,260.80 C74.85,261.95 71.25,262.30 69.20,262.30 C67.15,262.30 66.13,261.43 64.60,260.80 C63.07,260.17 61.53,258.58 60.00,258.50 C58.47,258.42 57.45,259.67 55.40,260.30 C53.35,260.93 50.52,262.10 47.70,262.30 C44.88,262.50 40.93,262.13 38.50,261.50 C36.07,260.87 34.60,260.28 33.10,258.50 C31.60,256.72 30.15,253.63 29.50,250.80 C28.85,247.97 28.87,244.33 29.20,241.50 C29.53,238.67 30.47,235.58 31.50,233.80Z" fill="none" stroke="#b84c8e" stroke-width="2.4" opacity="0.45" filter="url(#bl2)"/>
<path d="M31.50,233.80 C32.53,232.02 33.08,231.57 35.40,230.80 C37.72,230.03 41.97,229.45 45.40,229.20 C48.83,228.95 52.53,229.25 56.00,229.30 C59.47,229.35 62.97,229.13 66.20,229.50 C69.43,229.87 72.97,230.27 75.40,231.50 C77.83,232.73 79.52,234.45 80.80,236.90 C82.08,239.35 82.98,243.12 83.10,246.20 C83.22,249.28 82.53,252.97 81.50,255.40 C80.47,257.83 78.95,259.65 76.90,260.80 C74.85,261.95 71.25,262.30 69.20,262.30 C67.15,262.30 66.13,261.43 64.60,260.80 C63.07,260.17 61.53,258.58 60.00,258.50 C58.47,258.42 57.45,259.67 55.40,260.30 C53.35,260.93 50.52,262.10 47.70,262.30 C44.88,262.50 40.93,262.13 38.50,261.50 C36.07,260.87 34.60,260.28 33.10,258.50 C31.60,256.72 30.15,253.63 29.50,250.80 C28.85,247.97 28.87,244.33 29.20,241.50 C29.53,238.67 30.47,235.58 31.50,233.80Z" fill="none" stroke="#f0b5d8" stroke-width="1.12" opacity="0.28" filter="url(#bl2)" transform="translate(11.15 50.47) scale(0.8)"/>
<path d="M31.50,233.80 C32.53,232.02 33.08,231.57 35.40,230.80 C37.72,230.03 41.97,229.45 45.40,229.20 C48.83,228.95 52.53,229.25 56.00,229.30 C59.47,229.35 62.97,229.13 66.20,229.50 C69.43,229.87 72.97,230.27 75.40,231.50 C77.83,232.73 79.52,234.45 80.80,236.90 C82.08,239.35 82.98,243.12 83.10,246.20 C83.22,249.28 82.53,252.97 81.50,255.40 C80.47,257.83 78.95,259.65 76.90,260.80 C74.85,261.95 71.25,262.30 69.20,262.30 C67.15,262.30 66.13,261.43 64.60,260.80 C63.07,260.17 61.53,258.58 60.00,258.50 C58.47,258.42 57.45,259.67 55.40,260.30 C53.35,260.93 50.52,262.10 47.70,262.30 C44.88,262.50 40.93,262.13 38.50,261.50 C36.07,260.87 34.60,260.28 33.10,258.50 C31.60,256.72 30.15,253.63 29.50,250.80 C28.85,247.97 28.87,244.33 29.20,241.50 C29.53,238.67 30.47,235.58 31.50,233.80Z" fill="none" stroke="#f0b5d8" stroke-width="1.50" opacity="0.14" filter="url(#bl2)" transform="translate(22.30 99.95) scale(0.6)"/>
<path d="M45.40,229.40 C47.13,228.37 51.80,229.18 55.00,229.20 C58.20,229.22 62.73,228.47 64.60,229.50 C66.47,230.53 66.20,233.13 66.20,235.40 C66.20,237.67 66.15,240.92 64.60,243.10 C63.05,245.28 59.20,248.12 56.90,248.50 C54.60,248.88 52.85,246.30 50.80,245.40 C48.75,244.50 45.63,244.77 44.60,243.10 C43.57,241.43 44.47,237.68 44.60,235.40 C44.73,233.12 43.67,230.43 45.40,229.40Z" fill="#ad6cc0" opacity="0.9" filter="url(#bl2)"/>
</g></g>
<path d="M50.00,256.00 C50.25,256.33 51.25,257.67 51.50,258.00" fill="none" stroke="#f6dcea" stroke-width="1.15" stroke-linecap="round" filter="url(#bl2)"/>
<clipPath id="bc204"><path d="M119.90,230.20 C117.72,230.08 112.27,228.92 108.80,229.50 C105.33,230.08 101.65,231.62 99.10,233.70 C96.55,235.78 94.43,239.23 93.50,242.00 C92.57,244.77 92.92,247.65 93.50,250.30 C94.08,252.95 95.38,255.93 97.00,257.90 C98.62,259.87 101.00,261.52 103.20,262.10 C105.40,262.68 108.12,261.80 110.20,261.40 C112.28,261.00 113.87,259.75 115.70,259.70 C117.53,259.65 119.12,261.00 121.20,261.10 C123.28,261.20 126.12,260.20 128.20,260.30 C130.28,260.40 131.40,261.52 133.70,261.70 C136.00,261.88 139.80,262.37 142.00,261.40 C144.20,260.43 145.75,258.22 146.90,255.90 C148.05,253.58 148.78,250.50 148.90,247.50 C149.02,244.50 148.75,240.55 147.60,237.90 C146.45,235.25 144.78,233.03 142.00,231.60 C139.22,230.17 134.25,229.53 130.90,229.30 C127.55,229.07 123.73,230.05 121.90,230.20 C120.07,230.35 122.08,230.32 119.90,230.20Z"/></clipPath>
<g filter="url(#tex)"><path d="M119.90,230.20 C117.72,230.08 112.27,228.92 108.80,229.50 C105.33,230.08 101.65,231.62 99.10,233.70 C96.55,235.78 94.43,239.23 93.50,242.00 C92.57,244.77 92.92,247.65 93.50,250.30 C94.08,252.95 95.38,255.93 97.00,257.90 C98.62,259.87 101.00,261.52 103.20,262.10 C105.40,262.68 108.12,261.80 110.20,261.40 C112.28,261.00 113.87,259.75 115.70,259.70 C117.53,259.65 119.12,261.00 121.20,261.10 C123.28,261.20 126.12,260.20 128.20,260.30 C130.28,260.40 131.40,261.52 133.70,261.70 C136.00,261.88 139.80,262.37 142.00,261.40 C144.20,260.43 145.75,258.22 146.90,255.90 C148.05,253.58 148.78,250.50 148.90,247.50 C149.02,244.50 148.75,240.55 147.60,237.90 C146.45,235.25 144.78,233.03 142.00,231.60 C139.22,230.17 134.25,229.53 130.90,229.30 C127.55,229.07 123.73,230.05 121.90,230.20 C120.07,230.35 122.08,230.32 119.90,230.20Z" fill="#d25fa6" stroke="#b84c8e" stroke-width="0.9"/>
<g clip-path="url(#bc204)">
<path d="M119.90,230.20 C117.72,230.08 112.27,228.92 108.80,229.50 C105.33,230.08 101.65,231.62 99.10,233.70 C96.55,235.78 94.43,239.23 93.50,242.00 C92.57,244.77 92.92,247.65 93.50,250.30 C94.08,252.95 95.38,255.93 97.00,257.90 C98.62,259.87 101.00,261.52 103.20,262.10 C105.40,262.68 108.12,261.80 110.20,261.40 C112.28,261.00 113.87,259.75 115.70,259.70 C117.53,259.65 119.12,261.00 121.20,261.10 C123.28,261.20 126.12,260.20 128.20,260.30 C130.28,260.40 131.40,261.52 133.70,261.70 C136.00,261.88 139.80,262.37 142.00,261.40 C144.20,260.43 145.75,258.22 146.90,255.90 C148.05,253.58 148.78,250.50 148.90,247.50 C149.02,244.50 148.75,240.55 147.60,237.90 C146.45,235.25 144.78,233.03 142.00,231.60 C139.22,230.17 134.25,229.53 130.90,229.30 C127.55,229.07 123.73,230.05 121.90,230.20 C120.07,230.35 122.08,230.32 119.90,230.20Z" fill="none" stroke="#b84c8e" stroke-width="2.4" opacity="0.45" filter="url(#bl2)"/>
<path d="M119.90,230.20 C117.72,230.08 112.27,228.92 108.80,229.50 C105.33,230.08 101.65,231.62 99.10,233.70 C96.55,235.78 94.43,239.23 93.50,242.00 C92.57,244.77 92.92,247.65 93.50,250.30 C94.08,252.95 95.38,255.93 97.00,257.90 C98.62,259.87 101.00,261.52 103.20,262.10 C105.40,262.68 108.12,261.80 110.20,261.40 C112.28,261.00 113.87,259.75 115.70,259.70 C117.53,259.65 119.12,261.00 121.20,261.10 C123.28,261.20 126.12,260.20 128.20,260.30 C130.28,260.40 131.40,261.52 133.70,261.70 C136.00,261.88 139.80,262.37 142.00,261.40 C144.20,260.43 145.75,258.22 146.90,255.90 C148.05,253.58 148.78,250.50 148.90,247.50 C149.02,244.50 148.75,240.55 147.60,237.90 C146.45,235.25 144.78,233.03 142.00,231.60 C139.22,230.17 134.25,229.53 130.90,229.30 C127.55,229.07 123.73,230.05 121.90,230.20 C120.07,230.35 122.08,230.32 119.90,230.20Z" fill="none" stroke="#f0b5d8" stroke-width="1.12" opacity="0.28" filter="url(#bl2)" transform="translate(24.25 50.51) scale(0.8)"/>
<path d="M119.90,230.20 C117.72,230.08 112.27,228.92 108.80,229.50 C105.33,230.08 101.65,231.62 99.10,233.70 C96.55,235.78 94.43,239.23 93.50,242.00 C92.57,244.77 92.92,247.65 93.50,250.30 C94.08,252.95 95.38,255.93 97.00,257.90 C98.62,259.87 101.00,261.52 103.20,262.10 C105.40,262.68 108.12,261.80 110.20,261.40 C112.28,261.00 113.87,259.75 115.70,259.70 C117.53,259.65 119.12,261.00 121.20,261.10 C123.28,261.20 126.12,260.20 128.20,260.30 C130.28,260.40 131.40,261.52 133.70,261.70 C136.00,261.88 139.80,262.37 142.00,261.40 C144.20,260.43 145.75,258.22 146.90,255.90 C148.05,253.58 148.78,250.50 148.90,247.50 C149.02,244.50 148.75,240.55 147.60,237.90 C146.45,235.25 144.78,233.03 142.00,231.60 C139.22,230.17 134.25,229.53 130.90,229.30 C127.55,229.07 123.73,230.05 121.90,230.20 C120.07,230.35 122.08,230.32 119.90,230.20Z" fill="none" stroke="#f0b5d8" stroke-width="1.50" opacity="0.14" filter="url(#bl2)" transform="translate(48.51 100.03) scale(0.6)"/>
<ellipse cx="120.2" cy="237.8" rx="1.6" ry="2.0" fill="#fff4fa" opacity="0.95" filter="url(#bl1)"/>
</g></g>
<path d="M127.50,258.00 C128.17,257.58 130.17,256.30 131.50,255.50 C132.83,254.70 134.83,253.58 135.50,253.20" fill="none" stroke="#f6dcea" stroke-width="1.15" stroke-linecap="round" filter="url(#bl2)"/>
<path d="M129.00,259.50 C129.67,259.33 132.33,258.67 133.00,258.50" fill="none" stroke="#f6dcea" stroke-width="1.15" stroke-linecap="round" filter="url(#bl2)"/>
<path d="M121.00,230.50 C120.97,231.08 120.83,233.42 120.80,234.00" fill="none" stroke="#f6dcea" stroke-width="1.15" stroke-linecap="round" filter="url(#bl2)"/>
<clipPath id="bc215"><path d="M196.00,232.30 C194.27,232.07 190.93,230.20 187.70,230.20 C184.47,230.20 179.60,230.80 176.60,232.30 C173.60,233.80 171.20,236.67 169.70,239.20 C168.20,241.73 167.60,244.72 167.60,247.50 C167.60,250.28 168.20,253.70 169.70,255.90 C171.20,258.10 174.07,259.67 176.60,260.70 C179.13,261.73 182.82,262.45 184.90,262.10 C186.98,261.75 187.25,259.30 189.10,258.60 C190.95,257.90 193.92,257.55 196.00,257.90 C198.08,258.25 199.75,260.12 201.60,260.70 C203.45,261.28 205.50,261.98 207.10,261.40 C208.70,260.82 209.35,257.78 211.20,257.20 C213.05,256.62 215.88,258.47 218.20,257.90 C220.52,257.33 223.48,255.98 225.10,253.80 C226.72,251.62 227.90,247.68 227.90,244.80 C227.90,241.92 226.95,238.82 225.10,236.50 C223.25,234.18 220.27,231.95 216.80,230.90 C213.33,229.85 207.42,230.08 204.30,230.20 C201.18,230.32 199.48,231.25 198.10,231.60 C196.72,231.95 197.73,232.53 196.00,232.30Z"/></clipPath>
<g filter="url(#tex)"><path d="M196.00,232.30 C194.27,232.07 190.93,230.20 187.70,230.20 C184.47,230.20 179.60,230.80 176.60,232.30 C173.60,233.80 171.20,236.67 169.70,239.20 C168.20,241.73 167.60,244.72 167.60,247.50 C167.60,250.28 168.20,253.70 169.70,255.90 C171.20,258.10 174.07,259.67 176.60,260.70 C179.13,261.73 182.82,262.45 184.90,262.10 C186.98,261.75 187.25,259.30 189.10,258.60 C190.95,257.90 193.92,257.55 196.00,257.90 C198.08,258.25 199.75,260.12 201.60,260.70 C203.45,261.28 205.50,261.98 207.10,261.40 C208.70,260.82 209.35,257.78 211.20,257.20 C213.05,256.62 215.88,258.47 218.20,257.90 C220.52,257.33 223.48,255.98 225.10,253.80 C226.72,251.62 227.90,247.68 227.90,244.80 C227.90,241.92 226.95,238.82 225.10,236.50 C223.25,234.18 220.27,231.95 216.80,230.90 C213.33,229.85 207.42,230.08 204.30,230.20 C201.18,230.32 199.48,231.25 198.10,231.60 C196.72,231.95 197.73,232.53 196.00,232.30Z" fill="#d35ea6" stroke="#b84c8e" stroke-width="0.9"/>
<g clip-path="url(#bc215)">
<path d="M196.00,232.30 C194.27,232.07 190.93,230.20 187.70,230.20 C184.47,230.20 179.60,230.80 176.60,232.30 C173.60,233.80 171.20,236.67 169.70,239.20 C168.20,241.73 167.60,244.72 167.60,247.50 C167.60,250.28 168.20,253.70 169.70,255.90 C171.20,258.10 174.07,259.67 176.60,260.70 C179.13,261.73 182.82,262.45 184.90,262.10 C186.98,261.75 187.25,259.30 189.10,258.60 C190.95,257.90 193.92,257.55 196.00,257.90 C198.08,258.25 199.75,260.12 201.60,260.70 C203.45,261.28 205.50,261.98 207.10,261.40 C208.70,260.82 209.35,257.78 211.20,257.20 C213.05,256.62 215.88,258.47 218.20,257.90 C220.52,257.33 223.48,255.98 225.10,253.80 C226.72,251.62 227.90,247.68 227.90,244.80 C227.90,241.92 226.95,238.82 225.10,236.50 C223.25,234.18 220.27,231.95 216.80,230.90 C213.33,229.85 207.42,230.08 204.30,230.20 C201.18,230.32 199.48,231.25 198.10,231.60 C196.72,231.95 197.73,232.53 196.00,232.30Z" fill="none" stroke="#b84c8e" stroke-width="2.4" opacity="0.45" filter="url(#bl2)"/>
<path d="M196.00,232.30 C194.27,232.07 190.93,230.20 187.70,230.20 C184.47,230.20 179.60,230.80 176.60,232.30 C173.60,233.80 171.20,236.67 169.70,239.20 C168.20,241.73 167.60,244.72 167.60,247.50 C167.60,250.28 168.20,253.70 169.70,255.90 C171.20,258.10 174.07,259.67 176.60,260.70 C179.13,261.73 182.82,262.45 184.90,262.10 C186.98,261.75 187.25,259.30 189.10,258.60 C190.95,257.90 193.92,257.55 196.00,257.90 C198.08,258.25 199.75,260.12 201.60,260.70 C203.45,261.28 205.50,261.98 207.10,261.40 C208.70,260.82 209.35,257.78 211.20,257.20 C213.05,256.62 215.88,258.47 218.20,257.90 C220.52,257.33 223.48,255.98 225.10,253.80 C226.72,251.62 227.90,247.68 227.90,244.80 C227.90,241.92 226.95,238.82 225.10,236.50 C223.25,234.18 220.27,231.95 216.80,230.90 C213.33,229.85 207.42,230.08 204.30,230.20 C201.18,230.32 199.48,231.25 198.10,231.60 C196.72,231.95 197.73,232.53 196.00,232.30Z" fill="none" stroke="#f0b5d8" stroke-width="1.12" opacity="0.28" filter="url(#bl2)" transform="translate(39.49 50.42) scale(0.8)"/>
<path d="M196.00,232.30 C194.27,232.07 190.93,230.20 187.70,230.20 C184.47,230.20 179.60,230.80 176.60,232.30 C173.60,233.80 171.20,236.67 169.70,239.20 C168.20,241.73 167.60,244.72 167.60,247.50 C167.60,250.28 168.20,253.70 169.70,255.90 C171.20,258.10 174.07,259.67 176.60,260.70 C179.13,261.73 182.82,262.45 184.90,262.10 C186.98,261.75 187.25,259.30 189.10,258.60 C190.95,257.90 193.92,257.55 196.00,257.90 C198.08,258.25 199.75,260.12 201.60,260.70 C203.45,261.28 205.50,261.98 207.10,261.40 C208.70,260.82 209.35,257.78 211.20,257.20 C213.05,256.62 215.88,258.47 218.20,257.90 C220.52,257.33 223.48,255.98 225.10,253.80 C226.72,251.62 227.90,247.68 227.90,244.80 C227.90,241.92 226.95,238.82 225.10,236.50 C223.25,234.18 220.27,231.95 216.80,230.90 C213.33,229.85 207.42,230.08 204.30,230.20 C201.18,230.32 199.48,231.25 198.10,231.60 C196.72,231.95 197.73,232.53 196.00,232.30Z" fill="none" stroke="#f0b5d8" stroke-width="1.50" opacity="0.14" filter="url(#bl2)" transform="translate(78.99 99.83) scale(0.6)"/>
</g></g>
<path d="M205.00,256.00 C205.50,255.50 207.50,253.50 208.00,253.00" fill="none" stroke="#f6dcea" stroke-width="1.15" stroke-linecap="round" filter="url(#bl2)"/>
<path d="M181.00,240.00 C180.83,240.83 180.17,244.17 180.00,245.00" fill="none" stroke="#f6dcea" stroke-width="1.15" stroke-linecap="round" filter="url(#bl2)"/>
<line x1="216.80" y1="264.20" x2="229.30" y2="264.20" stroke="#231f20" stroke-width="1.3"/>
<text x="258.50" y="120.20" font-size="10" font-weight="bold" stroke="#231f20" stroke-width="0.18">E</text>
<line x1="285.60" y1="119.20" x2="463.80" y2="119.20" stroke="#3a3a3a" stroke-width="0.8"/>
<text x="373.70" y="117.90" font-size="7.6" text-anchor="middle" stroke="#231f20" stroke-width="0.18">T387 GSC</text>
<text x="300.40" y="132.20" font-size="7.6" text-anchor="middle" stroke="#231f20" stroke-width="0.18">shCONT</text>
<text x="368.20" y="132.20" font-size="7.6" text-anchor="middle" fill="#7d89bd" stroke="#7d89bd" stroke-width="0.18">sh<tspan font-style="italic">CLOCK</tspan>.1053</text>
<text x="445.10" y="132.20" font-size="7.6" text-anchor="middle" fill="#7d89bd" stroke="#7d89bd" stroke-width="0.18">sh<tspan font-style="italic">CLOCK</tspan>.1494</text>
<clipPath id="bc231"><path d="M271.20,152.30 C272.28,150.70 274.35,148.47 275.90,147.50 C277.45,146.53 279.10,146.98 280.50,146.50 C281.90,146.02 282.68,145.25 284.30,144.60 C285.92,143.95 288.50,142.77 290.20,142.60 C291.90,142.43 293.10,143.60 294.50,143.60 C295.90,143.60 296.93,142.33 298.60,142.60 C300.27,142.87 302.72,144.47 304.50,145.20 C306.28,145.93 307.70,146.22 309.30,147.00 C310.90,147.78 312.60,148.62 314.10,149.90 C315.60,151.18 317.42,152.72 318.30,154.70 C319.18,156.68 319.40,159.62 319.40,161.80 C319.40,163.98 319.18,166.20 318.30,167.80 C317.42,169.40 316.00,170.50 314.10,171.40 C312.20,172.30 309.28,173.00 306.90,173.20 C304.52,173.40 301.98,172.50 299.80,172.60 C297.62,172.70 295.80,173.70 293.80,173.80 C291.80,173.90 289.78,173.00 287.80,173.20 C285.82,173.40 283.88,174.90 281.90,175.00 C279.92,175.10 277.50,174.60 275.90,173.80 C274.30,173.00 273.28,172.00 272.30,170.20 C271.32,168.40 270.48,165.18 270.00,163.00 C269.52,160.82 269.20,158.88 269.40,157.10 C269.60,155.32 270.12,153.90 271.20,152.30Z"/></clipPath>
<g filter="url(#tex)"><path d="M271.20,152.30 C272.28,150.70 274.35,148.47 275.90,147.50 C277.45,146.53 279.10,146.98 280.50,146.50 C281.90,146.02 282.68,145.25 284.30,144.60 C285.92,143.95 288.50,142.77 290.20,142.60 C291.90,142.43 293.10,143.60 294.50,143.60 C295.90,143.60 296.93,142.33 298.60,142.60 C300.27,142.87 302.72,144.47 304.50,145.20 C306.28,145.93 307.70,146.22 309.30,147.00 C310.90,147.78 312.60,148.62 314.10,149.90 C315.60,151.18 317.42,152.72 318.30,154.70 C319.18,156.68 319.40,159.62 319.40,161.80 C319.40,163.98 319.18,166.20 318.30,167.80 C317.42,169.40 316.00,170.50 314.10,171.40 C312.20,172.30 309.28,173.00 306.90,173.20 C304.52,173.40 301.98,172.50 299.80,172.60 C297.62,172.70 295.80,173.70 293.80,173.80 C291.80,173.90 289.78,173.00 287.80,173.20 C285.82,173.40 283.88,174.90 281.90,175.00 C279.92,175.10 277.50,174.60 275.90,173.80 C274.30,173.00 273.28,172.00 272.30,170.20 C271.32,168.40 270.48,165.18 270.00,163.00 C269.52,160.82 269.20,158.88 269.40,157.10 C269.60,155.32 270.12,153.90 271.20,152.30Z" fill="#cc70b4" stroke="#b25a9e" stroke-width="0.9"/>
<g clip-path="url(#bc231)">
<path d="M271.20,152.30 C272.28,150.70 274.35,148.47 275.90,147.50 C277.45,146.53 279.10,146.98 280.50,146.50 C281.90,146.02 282.68,145.25 284.30,144.60 C285.92,143.95 288.50,142.77 290.20,142.60 C291.90,142.43 293.10,143.60 294.50,143.60 C295.90,143.60 296.93,142.33 298.60,142.60 C300.27,142.87 302.72,144.47 304.50,145.20 C306.28,145.93 307.70,146.22 309.30,147.00 C310.90,147.78 312.60,148.62 314.10,149.90 C315.60,151.18 317.42,152.72 318.30,154.70 C319.18,156.68 319.40,159.62 319.40,161.80 C319.40,163.98 319.18,166.20 318.30,167.80 C317.42,169.40 316.00,170.50 314.10,171.40 C312.20,172.30 309.28,173.00 306.90,173.20 C304.52,173.40 301.98,172.50 299.80,172.60 C297.62,172.70 295.80,173.70 293.80,173.80 C291.80,173.90 289.78,173.00 287.80,173.20 C285.82,173.40 283.88,174.90 281.90,175.00 C279.92,175.10 277.50,174.60 275.90,173.80 C274.30,173.00 273.28,172.00 272.30,170.20 C271.32,168.40 270.48,165.18 270.00,163.00 C269.52,160.82 269.20,158.88 269.40,157.10 C269.60,155.32 270.12,153.90 271.20,152.30Z" fill="none" stroke="#b25a9e" stroke-width="2.4" opacity="0.45" filter="url(#bl2)"/>
<path d="M271.20,152.30 C272.28,150.70 274.35,148.47 275.90,147.50 C277.45,146.53 279.10,146.98 280.50,146.50 C281.90,146.02 282.68,145.25 284.30,144.60 C285.92,143.95 288.50,142.77 290.20,142.60 C291.90,142.43 293.10,143.60 294.50,143.60 C295.90,143.60 296.93,142.33 298.60,142.60 C300.27,142.87 302.72,144.47 304.50,145.20 C306.28,145.93 307.70,146.22 309.30,147.00 C310.90,147.78 312.60,148.62 314.10,149.90 C315.60,151.18 317.42,152.72 318.30,154.70 C319.18,156.68 319.40,159.62 319.40,161.80 C319.40,163.98 319.18,166.20 318.30,167.80 C317.42,169.40 316.00,170.50 314.10,171.40 C312.20,172.30 309.28,173.00 306.90,173.20 C304.52,173.40 301.98,172.50 299.80,172.60 C297.62,172.70 295.80,173.70 293.80,173.80 C291.80,173.90 289.78,173.00 287.80,173.20 C285.82,173.40 283.88,174.90 281.90,175.00 C279.92,175.10 277.50,174.60 275.90,173.80 C274.30,173.00 273.28,172.00 272.30,170.20 C271.32,168.40 270.48,165.18 270.00,163.00 C269.52,160.82 269.20,158.88 269.40,157.10 C269.60,155.32 270.12,153.90 271.20,152.30Z" fill="none" stroke="#f0b5d8" stroke-width="1.12" opacity="0.28" filter="url(#bl2)" transform="translate(58.70 32.73) scale(0.8)"/>
<path d="M271.20,152.30 C272.28,150.70 274.35,148.47 275.90,147.50 C277.45,146.53 279.10,146.98 280.50,146.50 C281.90,146.02 282.68,145.25 284.30,144.60 C285.92,143.95 288.50,142.77 290.20,142.60 C291.90,142.43 293.10,143.60 294.50,143.60 C295.90,143.60 296.93,142.33 298.60,142.60 C300.27,142.87 302.72,144.47 304.50,145.20 C306.28,145.93 307.70,146.22 309.30,147.00 C310.90,147.78 312.60,148.62 314.10,149.90 C315.60,151.18 317.42,152.72 318.30,154.70 C319.18,156.68 319.40,159.62 319.40,161.80 C319.40,163.98 319.18,166.20 318.30,167.80 C317.42,169.40 316.00,170.50 314.10,171.40 C312.20,172.30 309.28,173.00 306.90,173.20 C304.52,173.40 301.98,172.50 299.80,172.60 C297.62,172.70 295.80,173.70 293.80,173.80 C291.80,173.90 289.78,173.00 287.80,173.20 C285.82,173.40 283.88,174.90 281.90,175.00 C279.92,175.10 277.50,174.60 275.90,173.80 C274.30,173.00 273.28,172.00 272.30,170.20 C271.32,168.40 270.48,165.18 270.00,163.00 C269.52,160.82 269.20,158.88 269.40,157.10 C269.60,155.32 270.12,153.90 271.20,152.30Z" fill="none" stroke="#f0b5d8" stroke-width="1.50" opacity="0.14" filter="url(#bl2)" transform="translate(117.41 64.47) scale(0.6)"/>
<ellipse cx="277.1" cy="160.2" rx="5.2" ry="6.2" fill="#9b4fa2" opacity="0.75" filter="url(#bl1)"/>
<ellipse cx="291.4" cy="148.9" rx="5" ry="4" fill="#9b4fa2" opacity="0.7" filter="url(#bl1)"/>
<ellipse cx="294" cy="157.5" rx="4.6" ry="4.4" fill="#a053a5" opacity="0.7" filter="url(#bl1)"/>
<ellipse cx="303.3" cy="152.8" rx="4" ry="3.6" fill="#9b4fa2" opacity="0.65" filter="url(#bl1)"/>
<ellipse cx="311.5" cy="161.5" rx="4" ry="5" fill="#a055a6" opacity="0.7" filter="url(#bl1)"/>
<ellipse cx="305.5" cy="165.2" rx="3.2" ry="2.6" fill="#a65aa8" opacity="0.6" filter="url(#bl1)"/>
<ellipse cx="284.5" cy="152" rx="3" ry="3" fill="#a35aa8" opacity="0.6" filter="url(#bl1)"/>
<ellipse cx="293.8" cy="168.2" rx="6" ry="3" fill="#e7a0cc" opacity="0.6" filter="url(#bl1)"/>
<ellipse cx="278.3" cy="169.5" rx="4" ry="2.5" fill="#e49ccb" opacity="0.5" filter="url(#bl1)"/>
<ellipse cx="314" cy="152" rx="3" ry="2.5" fill="#e49ccb" opacity="0.5" filter="url(#bl1)"/>
</g></g>
<path d="M289.40,158.60 C289.47,158.73 289.73,159.27 289.80,159.40" fill="none" stroke="#f6dcea" stroke-width="1.15" stroke-linecap="round" filter="url(#bl2)"/>
<path d="M298.40,160.40 C298.47,160.53 298.73,161.07 298.80,161.20" fill="none" stroke="#f6dcea" stroke-width="1.15" stroke-linecap="round" filter="url(#bl2)"/>
<path d="M342.6,143.2 L355.7,143.2" stroke="#9d86a8" stroke-width="0.8"/>
<clipPath id="bc251"><path d="M365.20,145.80 C364.00,145.70 362.28,144.60 359.80,144.60 C357.32,144.60 352.88,144.72 350.30,145.80 C347.72,146.88 345.78,149.02 344.30,151.10 C342.82,153.18 341.68,155.92 341.40,158.30 C341.12,160.68 341.72,163.42 342.60,165.40 C343.48,167.38 345.22,169.17 346.70,170.20 C348.18,171.23 350.30,171.83 351.50,171.60 C352.70,171.37 353.20,168.43 353.90,168.80 C354.60,169.17 354.32,172.57 355.70,173.80 C357.08,175.03 359.52,175.90 362.20,176.20 C364.88,176.50 368.62,176.00 371.80,175.60 C374.98,175.20 378.72,174.50 381.30,173.80 C383.88,173.10 385.72,172.80 387.30,171.40 C388.88,170.00 390.02,167.58 390.80,165.40 C391.58,163.22 392.18,160.68 392.00,158.30 C391.82,155.92 391.08,153.10 389.70,151.10 C388.32,149.10 386.28,147.38 383.70,146.30 C381.12,145.22 376.98,144.78 374.20,144.60 C371.42,144.42 368.50,145.00 367.00,145.20 C365.50,145.40 366.40,145.90 365.20,145.80Z"/></clipPath>
<g filter="url(#tex)"><path d="M365.20,145.80 C364.00,145.70 362.28,144.60 359.80,144.60 C357.32,144.60 352.88,144.72 350.30,145.80 C347.72,146.88 345.78,149.02 344.30,151.10 C342.82,153.18 341.68,155.92 341.40,158.30 C341.12,160.68 341.72,163.42 342.60,165.40 C343.48,167.38 345.22,169.17 346.70,170.20 C348.18,171.23 350.30,171.83 351.50,171.60 C352.70,171.37 353.20,168.43 353.90,168.80 C354.60,169.17 354.32,172.57 355.70,173.80 C357.08,175.03 359.52,175.90 362.20,176.20 C364.88,176.50 368.62,176.00 371.80,175.60 C374.98,175.20 378.72,174.50 381.30,173.80 C383.88,173.10 385.72,172.80 387.30,171.40 C388.88,170.00 390.02,167.58 390.80,165.40 C391.58,163.22 392.18,160.68 392.00,158.30 C391.82,155.92 391.08,153.10 389.70,151.10 C388.32,149.10 386.28,147.38 383.70,146.30 C381.12,145.22 376.98,144.78 374.20,144.60 C371.42,144.42 368.50,145.00 367.00,145.20 C365.50,145.40 366.40,145.90 365.20,145.80Z" fill="#d98bc6" stroke="#cc79b4" stroke-width="0.9"/>
<g clip-path="url(#bc251)">
<path d="M365.20,145.80 C364.00,145.70 362.28,144.60 359.80,144.60 C357.32,144.60 352.88,144.72 350.30,145.80 C347.72,146.88 345.78,149.02 344.30,151.10 C342.82,153.18 341.68,155.92 341.40,158.30 C341.12,160.68 341.72,163.42 342.60,165.40 C343.48,167.38 345.22,169.17 346.70,170.20 C348.18,171.23 350.30,171.83 351.50,171.60 C352.70,171.37 353.20,168.43 353.90,168.80 C354.60,169.17 354.32,172.57 355.70,173.80 C357.08,175.03 359.52,175.90 362.20,176.20 C364.88,176.50 368.62,176.00 371.80,175.60 C374.98,175.20 378.72,174.50 381.30,173.80 C383.88,173.10 385.72,172.80 387.30,171.40 C388.88,170.00 390.02,167.58 390.80,165.40 C391.58,163.22 392.18,160.68 392.00,158.30 C391.82,155.92 391.08,153.10 389.70,151.10 C388.32,149.10 386.28,147.38 383.70,146.30 C381.12,145.22 376.98,144.78 374.20,144.60 C371.42,144.42 368.50,145.00 367.00,145.20 C365.50,145.40 366.40,145.90 365.20,145.80Z" fill="none" stroke="#cc79b4" stroke-width="2.4" opacity="0.45" filter="url(#bl2)"/>
<path d="M365.20,145.80 C364.00,145.70 362.28,144.60 359.80,144.60 C357.32,144.60 352.88,144.72 350.30,145.80 C347.72,146.88 345.78,149.02 344.30,151.10 C342.82,153.18 341.68,155.92 341.40,158.30 C341.12,160.68 341.72,163.42 342.60,165.40 C343.48,167.38 345.22,169.17 346.70,170.20 C348.18,171.23 350.30,171.83 351.50,171.60 C352.70,171.37 353.20,168.43 353.90,168.80 C354.60,169.17 354.32,172.57 355.70,173.80 C357.08,175.03 359.52,175.90 362.20,176.20 C364.88,176.50 368.62,176.00 371.80,175.60 C374.98,175.20 378.72,174.50 381.30,173.80 C383.88,173.10 385.72,172.80 387.30,171.40 C388.88,170.00 390.02,167.58 390.80,165.40 C391.58,163.22 392.18,160.68 392.00,158.30 C391.82,155.92 391.08,153.10 389.70,151.10 C388.32,149.10 386.28,147.38 383.70,146.30 C381.12,145.22 376.98,144.78 374.20,144.60 C371.42,144.42 368.50,145.00 367.00,145.20 C365.50,145.40 366.40,145.90 365.20,145.80Z" fill="none" stroke="#f0b5d8" stroke-width="1.12" opacity="0.28" filter="url(#bl2)" transform="translate(73.11 33.03) scale(0.8)"/>
<path d="M365.20,145.80 C364.00,145.70 362.28,144.60 359.80,144.60 C357.32,144.60 352.88,144.72 350.30,145.80 C347.72,146.88 345.78,149.02 344.30,151.10 C342.82,153.18 341.68,155.92 341.40,158.30 C341.12,160.68 341.72,163.42 342.60,165.40 C343.48,167.38 345.22,169.17 346.70,170.20 C348.18,171.23 350.30,171.83 351.50,171.60 C352.70,171.37 353.20,168.43 353.90,168.80 C354.60,169.17 354.32,172.57 355.70,173.80 C357.08,175.03 359.52,175.90 362.20,176.20 C364.88,176.50 368.62,176.00 371.80,175.60 C374.98,175.20 378.72,174.50 381.30,173.80 C383.88,173.10 385.72,172.80 387.30,171.40 C388.88,170.00 390.02,167.58 390.80,165.40 C391.58,163.22 392.18,160.68 392.00,158.30 C391.82,155.92 391.08,153.10 389.70,151.10 C388.32,149.10 386.28,147.38 383.70,146.30 C381.12,145.22 376.98,144.78 374.20,144.60 C371.42,144.42 368.50,145.00 367.00,145.20 C365.50,145.40 366.40,145.90 365.20,145.80Z" fill="none" stroke="#f0b5d8" stroke-width="1.50" opacity="0.14" filter="url(#bl2)" transform="translate(146.23 65.07) scale(0.6)"/>
</g></g>
<path d="M364.50,150.00 C364.58,150.50 364.92,152.50 365.00,153.00" fill="none" stroke="#f6dcea" stroke-width="1.15" stroke-linecap="round" filter="url(#bl2)"/>
<clipPath id="bc259"><path d="M406.50,140.20 C409.28,139.75 422.55,139.75 425.20,140.20 C427.85,140.65 424.25,142.10 422.40,142.90 C420.55,143.70 416.42,145.00 414.10,145.00 C411.78,145.00 409.77,143.70 408.50,142.90 C407.23,142.10 403.72,140.65 406.50,140.20Z"/></clipPath>
<g filter="url(#tex)"><path d="M406.50,140.20 C409.28,139.75 422.55,139.75 425.20,140.20 C427.85,140.65 424.25,142.10 422.40,142.90 C420.55,143.70 416.42,145.00 414.10,145.00 C411.78,145.00 409.77,143.70 408.50,142.90 C407.23,142.10 403.72,140.65 406.50,140.20Z" fill="#d35ea6" stroke="#b84c8e" stroke-width="0.9"/>
<g clip-path="url(#bc259)">
<path d="M406.50,140.20 C409.28,139.75 422.55,139.75 425.20,140.20 C427.85,140.65 424.25,142.10 422.40,142.90 C420.55,143.70 416.42,145.00 414.10,145.00 C411.78,145.00 409.77,143.70 408.50,142.90 C407.23,142.10 403.72,140.65 406.50,140.20Z" fill="none" stroke="#b84c8e" stroke-width="2.4" opacity="0.45" filter="url(#bl2)"/>
<path d="M406.50,140.20 C409.28,139.75 422.55,139.75 425.20,140.20 C427.85,140.65 424.25,142.10 422.40,142.90 C420.55,143.70 416.42,145.00 414.10,145.00 C411.78,145.00 409.77,143.70 408.50,142.90 C407.23,142.10 403.72,140.65 406.50,140.20Z" fill="none" stroke="#f0b5d8" stroke-width="1.12" opacity="0.28" filter="url(#bl2)" transform="translate(83.07 29.45) scale(0.8)"/>
<path d="M406.50,140.20 C409.28,139.75 422.55,139.75 425.20,140.20 C427.85,140.65 424.25,142.10 422.40,142.90 C420.55,143.70 416.42,145.00 414.10,145.00 C411.78,145.00 409.77,143.70 408.50,142.90 C407.23,142.10 403.72,140.65 406.50,140.20Z" fill="none" stroke="#f0b5d8" stroke-width="1.50" opacity="0.14" filter="url(#bl2)" transform="translate(166.14 57.90) scale(0.6)"/>
</g></g>
<clipPath id="bc266"><path d="M443.20,145.70 C442.03,145.58 440.38,143.72 437.60,143.60 C434.82,143.48 429.50,143.95 426.50,145.00 C423.50,146.05 421.43,147.70 419.60,149.90 C417.77,152.10 416.07,155.43 415.50,158.20 C414.93,160.97 415.28,164.20 416.20,166.50 C417.12,168.80 419.05,170.73 421.00,172.00 C422.95,173.27 425.82,173.87 427.90,174.10 C429.98,174.33 431.88,173.05 433.50,173.40 C435.12,173.75 435.75,175.73 437.60,176.20 C439.45,176.67 442.52,176.55 444.60,176.20 C446.68,175.85 448.27,174.33 450.10,174.10 C451.93,173.87 453.52,174.92 455.60,174.80 C457.68,174.68 460.75,174.55 462.60,173.40 C464.45,172.25 465.67,170.22 466.70,167.90 C467.73,165.58 468.80,162.50 468.80,159.50 C468.80,156.50 468.20,152.43 466.70,149.90 C465.20,147.37 462.80,145.47 459.80,144.30 C456.80,143.13 451.23,142.90 448.70,142.90 C446.17,142.90 445.52,143.83 444.60,144.30 C443.68,144.77 444.37,145.82 443.20,145.70Z"/></clipPath>
<g filter="url(#tex)"><path d="M443.20,145.70 C442.03,145.58 440.38,143.72 437.60,143.60 C434.82,143.48 429.50,143.95 426.50,145.00 C423.50,146.05 421.43,147.70 419.60,149.90 C417.77,152.10 416.07,155.43 415.50,158.20 C414.93,160.97 415.28,164.20 416.20,166.50 C417.12,168.80 419.05,170.73 421.00,172.00 C422.95,173.27 425.82,173.87 427.90,174.10 C429.98,174.33 431.88,173.05 433.50,173.40 C435.12,173.75 435.75,175.73 437.60,176.20 C439.45,176.67 442.52,176.55 444.60,176.20 C446.68,175.85 448.27,174.33 450.10,174.10 C451.93,173.87 453.52,174.92 455.60,174.80 C457.68,174.68 460.75,174.55 462.60,173.40 C464.45,172.25 465.67,170.22 466.70,167.90 C467.73,165.58 468.80,162.50 468.80,159.50 C468.80,156.50 468.20,152.43 466.70,149.90 C465.20,147.37 462.80,145.47 459.80,144.30 C456.80,143.13 451.23,142.90 448.70,142.90 C446.17,142.90 445.52,143.83 444.60,144.30 C443.68,144.77 444.37,145.82 443.20,145.70Z" fill="#d35ea6" stroke="#b84c8e" stroke-width="0.9"/>
<g clip-path="url(#bc266)">
<path d="M443.20,145.70 C442.03,145.58 440.38,143.72 437.60,143.60 C434.82,143.48 429.50,143.95 426.50,145.00 C423.50,146.05 421.43,147.70 419.60,149.90 C417.77,152.10 416.07,155.43 415.50,158.20 C414.93,160.97 415.28,164.20 416.20,166.50 C417.12,168.80 419.05,170.73 421.00,172.00 C422.95,173.27 425.82,173.87 427.90,174.10 C429.98,174.33 431.88,173.05 433.50,173.40 C435.12,173.75 435.75,175.73 437.60,176.20 C439.45,176.67 442.52,176.55 444.60,176.20 C446.68,175.85 448.27,174.33 450.10,174.10 C451.93,173.87 453.52,174.92 455.60,174.80 C457.68,174.68 460.75,174.55 462.60,173.40 C464.45,172.25 465.67,170.22 466.70,167.90 C467.73,165.58 468.80,162.50 468.80,159.50 C468.80,156.50 468.20,152.43 466.70,149.90 C465.20,147.37 462.80,145.47 459.80,144.30 C456.80,143.13 451.23,142.90 448.70,142.90 C446.17,142.90 445.52,143.83 444.60,144.30 C443.68,144.77 444.37,145.82 443.20,145.70Z" fill="none" stroke="#b84c8e" stroke-width="2.4" opacity="0.45" filter="url(#bl2)"/>
<path d="M443.20,145.70 C442.03,145.58 440.38,143.72 437.60,143.60 C434.82,143.48 429.50,143.95 426.50,145.00 C423.50,146.05 421.43,147.70 419.60,149.90 C417.77,152.10 416.07,155.43 415.50,158.20 C414.93,160.97 415.28,164.20 416.20,166.50 C417.12,168.80 419.05,170.73 421.00,172.00 C422.95,173.27 425.82,173.87 427.90,174.10 C429.98,174.33 431.88,173.05 433.50,173.40 C435.12,173.75 435.75,175.73 437.60,176.20 C439.45,176.67 442.52,176.55 444.60,176.20 C446.68,175.85 448.27,174.33 450.10,174.10 C451.93,173.87 453.52,174.92 455.60,174.80 C457.68,174.68 460.75,174.55 462.60,173.40 C464.45,172.25 465.67,170.22 466.70,167.90 C467.73,165.58 468.80,162.50 468.80,159.50 C468.80,156.50 468.20,152.43 466.70,149.90 C465.20,147.37 462.80,145.47 459.80,144.30 C456.80,143.13 451.23,142.90 448.70,142.90 C446.17,142.90 445.52,143.83 444.60,144.30 C443.68,144.77 444.37,145.82 443.20,145.70Z" fill="none" stroke="#f0b5d8" stroke-width="1.12" opacity="0.28" filter="url(#bl2)" transform="translate(88.47 33.12) scale(0.8)"/>
<path d="M443.20,145.70 C442.03,145.58 440.38,143.72 437.60,143.60 C434.82,143.48 429.50,143.95 426.50,145.00 C423.50,146.05 421.43,147.70 419.60,149.90 C417.77,152.10 416.07,155.43 415.50,158.20 C414.93,160.97 415.28,164.20 416.20,166.50 C417.12,168.80 419.05,170.73 421.00,172.00 C422.95,173.27 425.82,173.87 427.90,174.10 C429.98,174.33 431.88,173.05 433.50,173.40 C435.12,173.75 435.75,175.73 437.60,176.20 C439.45,176.67 442.52,176.55 444.60,176.20 C446.68,175.85 448.27,174.33 450.10,174.10 C451.93,173.87 453.52,174.92 455.60,174.80 C457.68,174.68 460.75,174.55 462.60,173.40 C464.45,172.25 465.67,170.22 466.70,167.90 C467.73,165.58 468.80,162.50 468.80,159.50 C468.80,156.50 468.20,152.43 466.70,149.90 C465.20,147.37 462.80,145.47 459.80,144.30 C456.80,143.13 451.23,142.90 448.70,142.90 C446.17,142.90 445.52,143.83 444.60,144.30 C443.68,144.77 444.37,145.82 443.20,145.70Z" fill="none" stroke="#f0b5d8" stroke-width="1.50" opacity="0.14" filter="url(#bl2)" transform="translate(176.94 65.24) scale(0.6)"/>
<path d="M432.00,149.00 C433.00,147.75 437.83,146.33 440.00,146.50 C442.17,146.67 444.83,148.75 445.00,150.00 C445.17,151.25 442.83,153.33 441.00,154.00 C439.17,154.67 435.50,154.83 434.00,154.00 C432.50,153.17 431.00,150.25 432.00,149.00Z" fill="#9d4f9e" opacity="0.75" filter="url(#bl3)"/>
<ellipse cx="436" cy="151" rx="5" ry="1.2" fill="#8a3f92" opacity="0.6" filter="url(#bl1)"/>
</g></g>
<path d="M443.00,147.00 C442.50,147.42 440.50,149.08 440.00,149.50" fill="none" stroke="#f6dcea" stroke-width="1.15" stroke-linecap="round" filter="url(#bl2)"/>
<path d="M447.50,150.00 C447.68,150.67 448.42,153.33 448.60,154.00" fill="none" stroke="#f6dcea" stroke-width="1.15" stroke-linecap="round" filter="url(#bl2)"/>
<path d="M449.00,160.00 C449.25,160.50 450.25,162.50 450.50,163.00" fill="none" stroke="#f6dcea" stroke-width="1.15" stroke-linecap="round" filter="url(#bl2)"/>
<line x1="459.10" y1="177.40" x2="471.60" y2="177.40" stroke="#231f20" stroke-width="1.3"/>
<text x="259.30" y="208.80" font-size="10" font-weight="bold" stroke="#231f20" stroke-width="0.18">F</text>
<line x1="285.50" y1="216.60" x2="464.00" y2="216.60" stroke="#3a3a3a" stroke-width="0.8"/>
<text x="373.50" y="215.00" font-size="7.6" text-anchor="middle" stroke="#231f20" stroke-width="0.18">T3565 GSC</text>
<text x="300.50" y="230.40" font-size="7.6" text-anchor="middle" stroke="#231f20" stroke-width="0.18">shCONT</text>
<text x="367.80" y="230.40" font-size="7.6" text-anchor="middle" fill="#7d89bd" stroke="#7d89bd" stroke-width="0.18">sh<tspan font-style="italic">CLOCK</tspan>.1053</text>
<text x="444.70" y="230.40" font-size="7.6" text-anchor="middle" fill="#7d89bd" stroke="#7d89bd" stroke-width="0.18">sh<tspan font-style="italic">CLOCK</tspan>.1494</text>
<clipPath id="bc285"><path d="M273.40,243.10 C274.28,241.77 275.27,240.72 276.50,240.00 C277.73,239.28 279.47,238.90 280.80,238.80 C282.13,238.70 283.58,239.03 284.50,239.40 C285.42,239.77 285.68,240.90 286.30,241.00 C286.92,241.10 286.87,240.47 288.20,240.00 C289.53,239.53 292.25,238.62 294.30,238.20 C296.35,237.78 298.45,237.82 300.50,237.50 C302.55,237.18 304.97,236.40 306.60,236.30 C308.23,236.20 308.87,237.00 310.30,236.90 C311.73,236.80 313.35,235.48 315.20,235.70 C317.05,235.92 319.75,236.77 321.40,238.20 C323.05,239.63 324.28,242.05 325.10,244.30 C325.92,246.55 326.40,249.23 326.30,251.70 C326.20,254.17 325.52,257.05 324.50,259.10 C323.48,261.15 321.75,263.02 320.20,264.00 C318.65,264.98 316.65,264.97 315.20,265.00 C313.75,265.03 312.52,264.78 311.50,264.20 C310.48,263.62 310.12,261.73 309.10,261.50 C308.08,261.27 306.63,262.18 305.40,262.80 C304.17,263.42 303.35,264.63 301.70,265.20 C300.05,265.77 297.35,266.10 295.50,266.20 C293.65,266.30 291.93,266.27 290.60,265.80 C289.27,265.33 288.73,263.53 287.50,263.40 C286.27,263.27 284.83,264.87 283.20,265.00 C281.57,265.13 279.33,264.88 277.70,264.20 C276.07,263.52 274.48,262.57 273.40,260.90 C272.32,259.23 271.57,256.35 271.20,254.20 C270.83,252.05 270.83,249.85 271.20,248.00 C271.57,246.15 272.52,244.43 273.40,243.10Z"/></clipPath>
<g filter="url(#tex)"><path d="M273.40,243.10 C274.28,241.77 275.27,240.72 276.50,240.00 C277.73,239.28 279.47,238.90 280.80,238.80 C282.13,238.70 283.58,239.03 284.50,239.40 C285.42,239.77 285.68,240.90 286.30,241.00 C286.92,241.10 286.87,240.47 288.20,240.00 C289.53,239.53 292.25,238.62 294.30,238.20 C296.35,237.78 298.45,237.82 300.50,237.50 C302.55,237.18 304.97,236.40 306.60,236.30 C308.23,236.20 308.87,237.00 310.30,236.90 C311.73,236.80 313.35,235.48 315.20,235.70 C317.05,235.92 319.75,236.77 321.40,238.20 C323.05,239.63 324.28,242.05 325.10,244.30 C325.92,246.55 326.40,249.23 326.30,251.70 C326.20,254.17 325.52,257.05 324.50,259.10 C323.48,261.15 321.75,263.02 320.20,264.00 C318.65,264.98 316.65,264.97 315.20,265.00 C313.75,265.03 312.52,264.78 311.50,264.20 C310.48,263.62 310.12,261.73 309.10,261.50 C308.08,261.27 306.63,262.18 305.40,262.80 C304.17,263.42 303.35,264.63 301.70,265.20 C300.05,265.77 297.35,266.10 295.50,266.20 C293.65,266.30 291.93,266.27 290.60,265.80 C289.27,265.33 288.73,263.53 287.50,263.40 C286.27,263.27 284.83,264.87 283.20,265.00 C281.57,265.13 279.33,264.88 277.70,264.20 C276.07,263.52 274.48,262.57 273.40,260.90 C272.32,259.23 271.57,256.35 271.20,254.20 C270.83,252.05 270.83,249.85 271.20,248.00 C271.57,246.15 272.52,244.43 273.40,243.10Z" fill="#d06ab0" stroke="#b84c8e" stroke-width="0.9"/>
<g clip-path="url(#bc285)">
<path d="M273.40,243.10 C274.28,241.77 275.27,240.72 276.50,240.00 C277.73,239.28 279.47,238.90 280.80,238.80 C282.13,238.70 283.58,239.03 284.50,239.40 C285.42,239.77 285.68,240.90 286.30,241.00 C286.92,241.10 286.87,240.47 288.20,240.00 C289.53,239.53 292.25,238.62 294.30,238.20 C296.35,237.78 298.45,237.82 300.50,237.50 C302.55,237.18 304.97,236.40 306.60,236.30 C308.23,236.20 308.87,237.00 310.30,236.90 C311.73,236.80 313.35,235.48 315.20,235.70 C317.05,235.92 319.75,236.77 321.40,238.20 C323.05,239.63 324.28,242.05 325.10,244.30 C325.92,246.55 326.40,249.23 326.30,251.70 C326.20,254.17 325.52,257.05 324.50,259.10 C323.48,261.15 321.75,263.02 320.20,264.00 C318.65,264.98 316.65,264.97 315.20,265.00 C313.75,265.03 312.52,264.78 311.50,264.20 C310.48,263.62 310.12,261.73 309.10,261.50 C308.08,261.27 306.63,262.18 305.40,262.80 C304.17,263.42 303.35,264.63 301.70,265.20 C300.05,265.77 297.35,266.10 295.50,266.20 C293.65,266.30 291.93,266.27 290.60,265.80 C289.27,265.33 288.73,263.53 287.50,263.40 C286.27,263.27 284.83,264.87 283.20,265.00 C281.57,265.13 279.33,264.88 277.70,264.20 C276.07,263.52 274.48,262.57 273.40,260.90 C272.32,259.23 271.57,256.35 271.20,254.20 C270.83,252.05 270.83,249.85 271.20,248.00 C271.57,246.15 272.52,244.43 273.40,243.10Z" fill="none" stroke="#b84c8e" stroke-width="2.4" opacity="0.45" filter="url(#bl2)"/>
<path d="M273.40,243.10 C274.28,241.77 275.27,240.72 276.50,240.00 C277.73,239.28 279.47,238.90 280.80,238.80 C282.13,238.70 283.58,239.03 284.50,239.40 C285.42,239.77 285.68,240.90 286.30,241.00 C286.92,241.10 286.87,240.47 288.20,240.00 C289.53,239.53 292.25,238.62 294.30,238.20 C296.35,237.78 298.45,237.82 300.50,237.50 C302.55,237.18 304.97,236.40 306.60,236.30 C308.23,236.20 308.87,237.00 310.30,236.90 C311.73,236.80 313.35,235.48 315.20,235.70 C317.05,235.92 319.75,236.77 321.40,238.20 C323.05,239.63 324.28,242.05 325.10,244.30 C325.92,246.55 326.40,249.23 326.30,251.70 C326.20,254.17 325.52,257.05 324.50,259.10 C323.48,261.15 321.75,263.02 320.20,264.00 C318.65,264.98 316.65,264.97 315.20,265.00 C313.75,265.03 312.52,264.78 311.50,264.20 C310.48,263.62 310.12,261.73 309.10,261.50 C308.08,261.27 306.63,262.18 305.40,262.80 C304.17,263.42 303.35,264.63 301.70,265.20 C300.05,265.77 297.35,266.10 295.50,266.20 C293.65,266.30 291.93,266.27 290.60,265.80 C289.27,265.33 288.73,263.53 287.50,263.40 C286.27,263.27 284.83,264.87 283.20,265.00 C281.57,265.13 279.33,264.88 277.70,264.20 C276.07,263.52 274.48,262.57 273.40,260.90 C272.32,259.23 271.57,256.35 271.20,254.20 C270.83,252.05 270.83,249.85 271.20,248.00 C271.57,246.15 272.52,244.43 273.40,243.10Z" fill="none" stroke="#f0b5d8" stroke-width="1.12" opacity="0.28" filter="url(#bl2)" transform="translate(59.50 51.28) scale(0.8)"/>
<path d="M273.40,243.10 C274.28,241.77 275.27,240.72 276.50,240.00 C277.73,239.28 279.47,238.90 280.80,238.80 C282.13,238.70 283.58,239.03 284.50,239.40 C285.42,239.77 285.68,240.90 286.30,241.00 C286.92,241.10 286.87,240.47 288.20,240.00 C289.53,239.53 292.25,238.62 294.30,238.20 C296.35,237.78 298.45,237.82 300.50,237.50 C302.55,237.18 304.97,236.40 306.60,236.30 C308.23,236.20 308.87,237.00 310.30,236.90 C311.73,236.80 313.35,235.48 315.20,235.70 C317.05,235.92 319.75,236.77 321.40,238.20 C323.05,239.63 324.28,242.05 325.10,244.30 C325.92,246.55 326.40,249.23 326.30,251.70 C326.20,254.17 325.52,257.05 324.50,259.10 C323.48,261.15 321.75,263.02 320.20,264.00 C318.65,264.98 316.65,264.97 315.20,265.00 C313.75,265.03 312.52,264.78 311.50,264.20 C310.48,263.62 310.12,261.73 309.10,261.50 C308.08,261.27 306.63,262.18 305.40,262.80 C304.17,263.42 303.35,264.63 301.70,265.20 C300.05,265.77 297.35,266.10 295.50,266.20 C293.65,266.30 291.93,266.27 290.60,265.80 C289.27,265.33 288.73,263.53 287.50,263.40 C286.27,263.27 284.83,264.87 283.20,265.00 C281.57,265.13 279.33,264.88 277.70,264.20 C276.07,263.52 274.48,262.57 273.40,260.90 C272.32,259.23 271.57,256.35 271.20,254.20 C270.83,252.05 270.83,249.85 271.20,248.00 C271.57,246.15 272.52,244.43 273.40,243.10Z" fill="none" stroke="#f0b5d8" stroke-width="1.50" opacity="0.14" filter="url(#bl2)" transform="translate(119.00 101.56) scale(0.6)"/>
<path d="M286.90,241.80 C287.72,240.67 290.83,241.60 293.10,241.20 C295.37,240.80 298.25,239.50 300.50,239.40 C302.75,239.30 305.27,239.58 306.60,240.60 C307.93,241.62 308.70,244.07 308.50,245.50 C308.30,246.93 306.73,248.37 305.40,249.20 C304.07,250.03 301.93,249.98 300.50,250.50 C299.07,251.02 298.25,252.30 296.80,252.30 C295.35,252.30 293.23,251.22 291.80,250.50 C290.37,249.78 289.02,249.45 288.20,248.00 C287.38,246.55 286.08,242.93 286.90,241.80Z" fill="#9252a6" opacity="0.9" filter="url(#bl2)"/>
</g></g>
<path d="M284.50,245.50 C284.35,246.08 283.82,247.77 283.60,249.00 C283.38,250.23 283.27,252.25 283.20,252.90" fill="none" stroke="#f6dcea" stroke-width="1.15" stroke-linecap="round" filter="url(#bl2)"/>
<path d="M309.70,246.80 C309.80,247.42 310.20,249.88 310.30,250.50" fill="none" stroke="#f6dcea" stroke-width="1.15" stroke-linecap="round" filter="url(#bl2)"/>
<clipPath id="bc295"><path d="M367.00,238.60 C366.18,238.50 365.55,237.00 363.30,236.80 C361.05,236.60 356.37,236.68 353.50,237.40 C350.63,238.12 348.15,239.25 346.10,241.10 C344.05,242.95 342.02,246.05 341.20,248.50 C340.38,250.95 340.60,253.55 341.20,255.80 C341.80,258.05 342.97,260.35 344.80,262.00 C346.63,263.65 349.93,265.50 352.20,265.70 C354.47,265.90 356.97,263.30 358.40,263.20 C359.83,263.10 359.37,264.48 360.80,265.10 C362.23,265.72 364.53,266.60 367.00,266.90 C369.47,267.20 373.35,267.30 375.60,266.90 C377.85,266.50 378.65,265.12 380.50,264.50 C382.35,263.88 384.85,264.03 386.70,263.20 C388.55,262.37 390.37,261.13 391.60,259.50 C392.83,257.87 393.90,255.85 394.10,253.40 C394.30,250.95 393.83,247.17 392.80,244.80 C391.77,242.43 389.95,240.63 387.90,239.20 C385.85,237.77 383.17,236.82 380.50,236.20 C377.83,235.58 373.95,235.30 371.90,235.50 C369.85,235.70 369.02,236.88 368.20,237.40 C367.38,237.92 367.82,238.70 367.00,238.60Z"/></clipPath>
<g filter="url(#tex)"><path d="M367.00,238.60 C366.18,238.50 365.55,237.00 363.30,236.80 C361.05,236.60 356.37,236.68 353.50,237.40 C350.63,238.12 348.15,239.25 346.10,241.10 C344.05,242.95 342.02,246.05 341.20,248.50 C340.38,250.95 340.60,253.55 341.20,255.80 C341.80,258.05 342.97,260.35 344.80,262.00 C346.63,263.65 349.93,265.50 352.20,265.70 C354.47,265.90 356.97,263.30 358.40,263.20 C359.83,263.10 359.37,264.48 360.80,265.10 C362.23,265.72 364.53,266.60 367.00,266.90 C369.47,267.20 373.35,267.30 375.60,266.90 C377.85,266.50 378.65,265.12 380.50,264.50 C382.35,263.88 384.85,264.03 386.70,263.20 C388.55,262.37 390.37,261.13 391.60,259.50 C392.83,257.87 393.90,255.85 394.10,253.40 C394.30,250.95 393.83,247.17 392.80,244.80 C391.77,242.43 389.95,240.63 387.90,239.20 C385.85,237.77 383.17,236.82 380.50,236.20 C377.83,235.58 373.95,235.30 371.90,235.50 C369.85,235.70 369.02,236.88 368.20,237.40 C367.38,237.92 367.82,238.70 367.00,238.60Z" fill="#d35ea6" stroke="#b84c8e" stroke-width="0.9"/>
<g clip-path="url(#bc295)">
<path d="M367.00,238.60 C366.18,238.50 365.55,237.00 363.30,236.80 C361.05,236.60 356.37,236.68 353.50,237.40 C350.63,238.12 348.15,239.25 346.10,241.10 C344.05,242.95 342.02,246.05 341.20,248.50 C340.38,250.95 340.60,253.55 341.20,255.80 C341.80,258.05 342.97,260.35 344.80,262.00 C346.63,263.65 349.93,265.50 352.20,265.70 C354.47,265.90 356.97,263.30 358.40,263.20 C359.83,263.10 359.37,264.48 360.80,265.10 C362.23,265.72 364.53,266.60 367.00,266.90 C369.47,267.20 373.35,267.30 375.60,266.90 C377.85,266.50 378.65,265.12 380.50,264.50 C382.35,263.88 384.85,264.03 386.70,263.20 C388.55,262.37 390.37,261.13 391.60,259.50 C392.83,257.87 393.90,255.85 394.10,253.40 C394.30,250.95 393.83,247.17 392.80,244.80 C391.77,242.43 389.95,240.63 387.90,239.20 C385.85,237.77 383.17,236.82 380.50,236.20 C377.83,235.58 373.95,235.30 371.90,235.50 C369.85,235.70 369.02,236.88 368.20,237.40 C367.38,237.92 367.82,238.70 367.00,238.60Z" fill="none" stroke="#b84c8e" stroke-width="2.4" opacity="0.45" filter="url(#bl2)"/>
<path d="M367.00,238.60 C366.18,238.50 365.55,237.00 363.30,236.80 C361.05,236.60 356.37,236.68 353.50,237.40 C350.63,238.12 348.15,239.25 346.10,241.10 C344.05,242.95 342.02,246.05 341.20,248.50 C340.38,250.95 340.60,253.55 341.20,255.80 C341.80,258.05 342.97,260.35 344.80,262.00 C346.63,263.65 349.93,265.50 352.20,265.70 C354.47,265.90 356.97,263.30 358.40,263.20 C359.83,263.10 359.37,264.48 360.80,265.10 C362.23,265.72 364.53,266.60 367.00,266.90 C369.47,267.20 373.35,267.30 375.60,266.90 C377.85,266.50 378.65,265.12 380.50,264.50 C382.35,263.88 384.85,264.03 386.70,263.20 C388.55,262.37 390.37,261.13 391.60,259.50 C392.83,257.87 393.90,255.85 394.10,253.40 C394.30,250.95 393.83,247.17 392.80,244.80 C391.77,242.43 389.95,240.63 387.90,239.20 C385.85,237.77 383.17,236.82 380.50,236.20 C377.83,235.58 373.95,235.30 371.90,235.50 C369.85,235.70 369.02,236.88 368.20,237.40 C367.38,237.92 367.82,238.70 367.00,238.60Z" fill="none" stroke="#f0b5d8" stroke-width="1.12" opacity="0.28" filter="url(#bl2)" transform="translate(73.57 51.30) scale(0.8)"/>
<path d="M367.00,238.60 C366.18,238.50 365.55,237.00 363.30,236.80 C361.05,236.60 356.37,236.68 353.50,237.40 C350.63,238.12 348.15,239.25 346.10,241.10 C344.05,242.95 342.02,246.05 341.20,248.50 C340.38,250.95 340.60,253.55 341.20,255.80 C341.80,258.05 342.97,260.35 344.80,262.00 C346.63,263.65 349.93,265.50 352.20,265.70 C354.47,265.90 356.97,263.30 358.40,263.20 C359.83,263.10 359.37,264.48 360.80,265.10 C362.23,265.72 364.53,266.60 367.00,266.90 C369.47,267.20 373.35,267.30 375.60,266.90 C377.85,266.50 378.65,265.12 380.50,264.50 C382.35,263.88 384.85,264.03 386.70,263.20 C388.55,262.37 390.37,261.13 391.60,259.50 C392.83,257.87 393.90,255.85 394.10,253.40 C394.30,250.95 393.83,247.17 392.80,244.80 C391.77,242.43 389.95,240.63 387.90,239.20 C385.85,237.77 383.17,236.82 380.50,236.20 C377.83,235.58 373.95,235.30 371.90,235.50 C369.85,235.70 369.02,236.88 368.20,237.40 C367.38,237.92 367.82,238.70 367.00,238.60Z" fill="none" stroke="#f0b5d8" stroke-width="1.50" opacity="0.14" filter="url(#bl2)" transform="translate(147.15 101.60) scale(0.6)"/>
</g></g>
<path d="M364.50,259.50 C365.75,259.78 369.53,260.68 372.00,261.20 C374.47,261.72 378.08,262.37 379.30,262.60" fill="none" stroke="#f6dcea" stroke-width="1.15" stroke-linecap="round" filter="url(#bl2)"/>
<path d="M373.20,237.40 C373.60,238.02 375.20,240.48 375.60,241.10" fill="none" stroke="#f6dcea" stroke-width="1.15" stroke-linecap="round" filter="url(#bl2)"/>
<path d="M367.30,239.00 C367.38,239.50 367.72,241.50 367.80,242.00" fill="none" stroke="#f6dcea" stroke-width="1.15" stroke-linecap="round" filter="url(#bl2)"/>
<clipPath id="bc305"><path d="M440.20,239.00 C439.35,238.78 438.77,237.20 436.40,237.10 C434.03,237.00 429.02,237.43 426.00,238.40 C422.98,239.37 420.23,240.87 418.30,242.90 C416.37,244.93 414.83,248.02 414.40,250.60 C413.97,253.18 414.62,256.25 415.70,258.40 C416.78,260.55 418.97,262.43 420.90,263.50 C422.83,264.57 425.48,264.37 427.30,264.80 C429.12,265.23 430.72,265.45 431.80,266.10 C432.88,266.75 432.18,268.17 433.80,268.70 C435.42,269.23 439.13,269.30 441.50,269.30 C443.87,269.30 446.50,269.23 448.00,268.70 C449.50,268.17 449.43,266.65 450.50,266.10 C451.57,265.55 452.68,265.73 454.40,265.40 C456.12,265.07 458.87,264.95 460.80,264.10 C462.73,263.25 464.70,262.12 466.00,260.30 C467.30,258.48 468.38,255.88 468.60,253.20 C468.82,250.52 468.38,246.57 467.30,244.20 C466.22,241.83 464.47,240.30 462.10,239.00 C459.73,237.70 455.88,236.83 453.10,236.40 C450.32,235.97 447.33,236.07 445.40,236.40 C443.47,236.73 442.37,237.97 441.50,238.40 C440.63,238.83 441.05,239.22 440.20,239.00Z"/></clipPath>
<g filter="url(#tex)"><path d="M440.20,239.00 C439.35,238.78 438.77,237.20 436.40,237.10 C434.03,237.00 429.02,237.43 426.00,238.40 C422.98,239.37 420.23,240.87 418.30,242.90 C416.37,244.93 414.83,248.02 414.40,250.60 C413.97,253.18 414.62,256.25 415.70,258.40 C416.78,260.55 418.97,262.43 420.90,263.50 C422.83,264.57 425.48,264.37 427.30,264.80 C429.12,265.23 430.72,265.45 431.80,266.10 C432.88,266.75 432.18,268.17 433.80,268.70 C435.42,269.23 439.13,269.30 441.50,269.30 C443.87,269.30 446.50,269.23 448.00,268.70 C449.50,268.17 449.43,266.65 450.50,266.10 C451.57,265.55 452.68,265.73 454.40,265.40 C456.12,265.07 458.87,264.95 460.80,264.10 C462.73,263.25 464.70,262.12 466.00,260.30 C467.30,258.48 468.38,255.88 468.60,253.20 C468.82,250.52 468.38,246.57 467.30,244.20 C466.22,241.83 464.47,240.30 462.10,239.00 C459.73,237.70 455.88,236.83 453.10,236.40 C450.32,235.97 447.33,236.07 445.40,236.40 C443.47,236.73 442.37,237.97 441.50,238.40 C440.63,238.83 441.05,239.22 440.20,239.00Z" fill="#d35ea6" stroke="#b84c8e" stroke-width="0.9"/>
<g clip-path="url(#bc305)">
<path d="M440.20,239.00 C439.35,238.78 438.77,237.20 436.40,237.10 C434.03,237.00 429.02,237.43 426.00,238.40 C422.98,239.37 420.23,240.87 418.30,242.90 C416.37,244.93 414.83,248.02 414.40,250.60 C413.97,253.18 414.62,256.25 415.70,258.40 C416.78,260.55 418.97,262.43 420.90,263.50 C422.83,264.57 425.48,264.37 427.30,264.80 C429.12,265.23 430.72,265.45 431.80,266.10 C432.88,266.75 432.18,268.17 433.80,268.70 C435.42,269.23 439.13,269.30 441.50,269.30 C443.87,269.30 446.50,269.23 448.00,268.70 C449.50,268.17 449.43,266.65 450.50,266.10 C451.57,265.55 452.68,265.73 454.40,265.40 C456.12,265.07 458.87,264.95 460.80,264.10 C462.73,263.25 464.70,262.12 466.00,260.30 C467.30,258.48 468.38,255.88 468.60,253.20 C468.82,250.52 468.38,246.57 467.30,244.20 C466.22,241.83 464.47,240.30 462.10,239.00 C459.73,237.70 455.88,236.83 453.10,236.40 C450.32,235.97 447.33,236.07 445.40,236.40 C443.47,236.73 442.37,237.97 441.50,238.40 C440.63,238.83 441.05,239.22 440.20,239.00Z" fill="none" stroke="#b84c8e" stroke-width="2.4" opacity="0.45" filter="url(#bl2)"/>
<path d="M440.20,239.00 C439.35,238.78 438.77,237.20 436.40,237.10 C434.03,237.00 429.02,237.43 426.00,238.40 C422.98,239.37 420.23,240.87 418.30,242.90 C416.37,244.93 414.83,248.02 414.40,250.60 C413.97,253.18 414.62,256.25 415.70,258.40 C416.78,260.55 418.97,262.43 420.90,263.50 C422.83,264.57 425.48,264.37 427.30,264.80 C429.12,265.23 430.72,265.45 431.80,266.10 C432.88,266.75 432.18,268.17 433.80,268.70 C435.42,269.23 439.13,269.30 441.50,269.30 C443.87,269.30 446.50,269.23 448.00,268.70 C449.50,268.17 449.43,266.65 450.50,266.10 C451.57,265.55 452.68,265.73 454.40,265.40 C456.12,265.07 458.87,264.95 460.80,264.10 C462.73,263.25 464.70,262.12 466.00,260.30 C467.30,258.48 468.38,255.88 468.60,253.20 C468.82,250.52 468.38,246.57 467.30,244.20 C466.22,241.83 464.47,240.30 462.10,239.00 C459.73,237.70 455.88,236.83 453.10,236.40 C450.32,235.97 447.33,236.07 445.40,236.40 C443.47,236.73 442.37,237.97 441.50,238.40 C440.63,238.83 441.05,239.22 440.20,239.00Z" fill="none" stroke="#f0b5d8" stroke-width="1.12" opacity="0.28" filter="url(#bl2)" transform="translate(88.40 51.65) scale(0.8)"/>
<path d="M440.20,239.00 C439.35,238.78 438.77,237.20 436.40,237.10 C434.03,237.00 429.02,237.43 426.00,238.40 C422.98,239.37 420.23,240.87 418.30,242.90 C416.37,244.93 414.83,248.02 414.40,250.60 C413.97,253.18 414.62,256.25 415.70,258.40 C416.78,260.55 418.97,262.43 420.90,263.50 C422.83,264.57 425.48,264.37 427.30,264.80 C429.12,265.23 430.72,265.45 431.80,266.10 C432.88,266.75 432.18,268.17 433.80,268.70 C435.42,269.23 439.13,269.30 441.50,269.30 C443.87,269.30 446.50,269.23 448.00,268.70 C449.50,268.17 449.43,266.65 450.50,266.10 C451.57,265.55 452.68,265.73 454.40,265.40 C456.12,265.07 458.87,264.95 460.80,264.10 C462.73,263.25 464.70,262.12 466.00,260.30 C467.30,258.48 468.38,255.88 468.60,253.20 C468.82,250.52 468.38,246.57 467.30,244.20 C466.22,241.83 464.47,240.30 462.10,239.00 C459.73,237.70 455.88,236.83 453.10,236.40 C450.32,235.97 447.33,236.07 445.40,236.40 C443.47,236.73 442.37,237.97 441.50,238.40 C440.63,238.83 441.05,239.22 440.20,239.00Z" fill="none" stroke="#f0b5d8" stroke-width="1.50" opacity="0.14" filter="url(#bl2)" transform="translate(176.80 102.29) scale(0.6)"/>
</g></g>
<path d="M427.30,248.00 C427.30,249.30 426.97,253.65 427.30,255.80 C427.63,257.95 429.18,259.72 429.30,260.90 C429.42,262.08 428.22,262.57 428.00,262.90" fill="none" stroke="#f6dcea" stroke-width="1.15" stroke-linecap="round" filter="url(#bl2)"/>
<path d="M450.50,246.80 C450.83,248.30 452.28,253.45 452.50,255.80 C452.72,258.15 451.48,259.62 451.80,260.90 C452.12,262.18 453.97,263.07 454.40,263.50" fill="none" stroke="#f6dcea" stroke-width="1.15" stroke-linecap="round" filter="url(#bl2)"/>
<path d="M438.90,237.70 C439.12,238.35 439.98,240.95 440.20,241.60" fill="none" stroke="#f6dcea" stroke-width="1.15" stroke-linecap="round" filter="url(#bl2)"/>
<line x1="458.90" y1="270.40" x2="471.10" y2="270.40" stroke="#231f20" stroke-width="1.3"/>
<text x="0.00" y="301.20" font-size="10" font-weight="bold" stroke="#231f20" stroke-width="0.18">G</text>
<line x1="32.30" y1="308.70" x2="32.30" y2="378.50" stroke="#231f20" stroke-width="0.9"/>
<line x1="32.30" y1="378.50" x2="137.35" y2="378.50" stroke="#231f20" stroke-width="0.9"/>
<line x1="30.70" y1="309.20" x2="32.30" y2="309.20" stroke="#231f20" stroke-width="0.8"/>
<text x="29.90" y="311.60" font-size="6.9" text-anchor="end" stroke="#231f20" stroke-width="0.18">1.5</text>
<line x1="30.70" y1="332.30" x2="32.30" y2="332.30" stroke="#231f20" stroke-width="0.8"/>
<text x="29.90" y="334.70" font-size="6.9" text-anchor="end" stroke="#231f20" stroke-width="0.18">1.0</text>
<line x1="30.70" y1="355.40" x2="32.30" y2="355.40" stroke="#231f20" stroke-width="0.8"/>
<text x="29.90" y="357.80" font-size="6.9" text-anchor="end" stroke="#231f20" stroke-width="0.18">0.5</text>
<line x1="30.70" y1="378.50" x2="32.30" y2="378.50" stroke="#231f20" stroke-width="0.8"/>
<text x="29.90" y="380.90" font-size="6.9" text-anchor="end" stroke="#231f20" stroke-width="0.18">0.0</text>
<line x1="32.30" y1="378.50" x2="32.30" y2="380.10" stroke="#231f20" stroke-width="0.8"/>
<text x="32.30" y="389.30" font-size="6.9" text-anchor="middle" stroke="#231f20" stroke-width="0.18">−1</text>
<line x1="67.15" y1="378.50" x2="67.15" y2="380.10" stroke="#231f20" stroke-width="0.8"/>
<text x="67.15" y="389.30" font-size="6.9" text-anchor="middle" stroke="#231f20" stroke-width="0.18">0</text>
<line x1="102.00" y1="378.50" x2="102.00" y2="380.10" stroke="#231f20" stroke-width="0.8"/>
<text x="102.00" y="389.30" font-size="6.9" text-anchor="middle" stroke="#231f20" stroke-width="0.18">1</text>
<line x1="136.85" y1="378.50" x2="136.85" y2="380.10" stroke="#231f20" stroke-width="0.8"/>
<text x="136.85" y="389.30" font-size="6.9" text-anchor="middle" stroke="#231f20" stroke-width="0.18">2</text>
<text x="85.30" y="398.70" font-size="7.5" text-anchor="middle" stroke="#231f20" stroke-width="0.18">SHP656 concentration (Log, µmol/L)</text>
<text x="14.60" y="343.50" font-size="7.1" text-anchor="middle" transform="rotate(-90 14.60 343.50)" stroke="#231f20" stroke-width="0.18">Fractional viability</text>
<path d="M52.16,326.76 C54.02,326.76 59.66,326.76 63.32,326.76 C66.98,326.76 70.64,326.76 74.12,326.76 C77.61,326.76 80.80,326.68 84.23,326.76 C87.65,326.83 91.20,326.91 94.68,327.22 C98.17,327.53 101.65,327.76 105.14,328.60 C108.62,329.45 111.99,330.53 115.59,332.30 C119.19,334.07 123.20,335.77 126.74,339.23 C130.29,342.69 135.17,350.78 136.85,353.09" stroke="#8e99cf" stroke-width="1.1" fill="none"/>
<path d="M52.16,332.76 C54.02,332.76 59.66,332.76 63.32,332.76 C66.98,332.76 70.64,332.69 74.12,332.76 C77.61,332.84 80.80,333.07 84.23,333.22 C87.65,333.38 91.20,333.38 94.68,333.69 C98.17,333.99 101.65,334.23 105.14,335.07 C108.62,335.92 111.99,336.61 115.59,338.77 C119.19,340.92 123.20,342.62 126.74,348.01 C130.29,353.40 135.17,367.26 136.85,371.11" stroke="#5868b0" stroke-width="1.1" fill="none"/>
<path d="M52.16,330.45 C54.02,330.45 59.66,330.45 63.32,330.45 C66.98,330.45 70.64,330.45 74.12,330.45 C77.61,330.45 80.80,330.38 84.23,330.45 C87.65,330.53 91.20,330.61 94.68,330.91 C98.17,331.22 101.65,331.30 105.14,332.30 C108.62,333.30 111.99,333.84 115.59,336.92 C119.19,340.00 123.20,345.54 126.74,350.78 C130.29,356.02 135.17,365.41 136.85,368.34" stroke="#222" stroke-width="1.1" fill="none"/>
<path d="M52.16,328.60 C54.02,328.60 59.66,328.60 63.32,328.60 C66.98,328.60 70.64,328.53 74.12,328.60 C77.61,328.68 80.80,328.91 84.23,329.07 C87.65,329.22 91.20,329.22 94.68,329.53 C98.17,329.84 101.65,329.91 105.14,330.91 C108.62,331.91 111.99,332.53 115.59,335.53 C119.19,338.54 123.20,343.62 126.74,348.93 C130.29,354.25 135.17,364.33 136.85,367.41" stroke="#111" stroke-width="1.1" fill="none"/>
<path d="M52.16,336.92 C54.02,337.07 59.66,337.38 63.32,337.84 C66.98,338.31 70.64,338.85 74.12,339.69 C77.61,340.54 80.80,341.69 84.23,342.93 C87.65,344.16 91.20,345.39 94.68,347.08 C98.17,348.78 101.65,350.32 105.14,353.09 C108.62,355.86 111.99,360.10 115.59,363.72 C119.19,367.34 123.20,372.34 126.74,374.80 C130.29,377.27 135.17,377.88 136.85,378.50" stroke="#e0282e" stroke-width="1.1" fill="none"/>
<path d="M52.16,337.84 C54.02,338.00 59.66,338.23 63.32,338.77 C66.98,339.31 70.64,339.77 74.12,341.08 C77.61,342.39 80.80,344.62 84.23,346.62 C87.65,348.62 91.20,350.86 94.68,353.09 C98.17,355.32 101.65,357.32 105.14,360.02 C108.62,362.71 111.99,366.49 115.59,369.26 C119.19,372.03 123.20,375.11 126.74,376.65 C130.29,378.19 135.17,378.19 136.85,378.50" stroke="#e0282e" stroke-width="1.1" fill="none"/>
<line x1="52.16" y1="324.91" x2="52.16" y2="328.60" stroke="#8e99cf" stroke-width="0.7"/>
<line x1="50.86" y1="324.91" x2="53.46" y2="324.91" stroke="#8e99cf" stroke-width="0.7"/>
<line x1="50.86" y1="328.60" x2="53.46" y2="328.60" stroke="#8e99cf" stroke-width="0.7"/>
<path d="M52.16,328.52 L53.76,325.48 L50.56,325.48Z" fill="#fff" stroke="#8e99cf" stroke-width="0.6"/>
<line x1="63.32" y1="325.37" x2="63.32" y2="328.14" stroke="#8e99cf" stroke-width="0.7"/>
<line x1="62.02" y1="325.37" x2="64.62" y2="325.37" stroke="#8e99cf" stroke-width="0.7"/>
<line x1="62.02" y1="328.14" x2="64.62" y2="328.14" stroke="#8e99cf" stroke-width="0.7"/>
<path d="M63.32,328.52 L64.92,325.48 L61.72,325.48Z" fill="#fff" stroke="#8e99cf" stroke-width="0.6"/>
<line x1="74.12" y1="323.98" x2="74.12" y2="328.60" stroke="#8e99cf" stroke-width="0.7"/>
<line x1="72.82" y1="323.98" x2="75.42" y2="323.98" stroke="#8e99cf" stroke-width="0.7"/>
<line x1="72.82" y1="328.60" x2="75.42" y2="328.60" stroke="#8e99cf" stroke-width="0.7"/>
<path d="M74.12,328.05 L75.72,325.01 L72.52,325.01Z" fill="#fff" stroke="#8e99cf" stroke-width="0.6"/>
<line x1="84.23" y1="325.37" x2="84.23" y2="328.14" stroke="#8e99cf" stroke-width="0.7"/>
<line x1="82.93" y1="325.37" x2="85.53" y2="325.37" stroke="#8e99cf" stroke-width="0.7"/>
<line x1="82.93" y1="328.14" x2="85.53" y2="328.14" stroke="#8e99cf" stroke-width="0.7"/>
<path d="M84.23,328.52 L85.83,325.48 L82.63,325.48Z" fill="#fff" stroke="#8e99cf" stroke-width="0.6"/>
<line x1="94.68" y1="323.98" x2="94.68" y2="327.68" stroke="#8e99cf" stroke-width="0.7"/>
<line x1="93.38" y1="323.98" x2="95.98" y2="323.98" stroke="#8e99cf" stroke-width="0.7"/>
<line x1="93.38" y1="327.68" x2="95.98" y2="327.68" stroke="#8e99cf" stroke-width="0.7"/>
<path d="M94.68,327.59 L96.28,324.55 L93.08,324.55Z" fill="#fff" stroke="#8e99cf" stroke-width="0.6"/>
<line x1="105.14" y1="318.44" x2="105.14" y2="327.68" stroke="#8e99cf" stroke-width="0.7"/>
<line x1="103.84" y1="318.44" x2="106.44" y2="318.44" stroke="#8e99cf" stroke-width="0.7"/>
<line x1="103.84" y1="327.68" x2="106.44" y2="327.68" stroke="#8e99cf" stroke-width="0.7"/>
<path d="M105.14,324.82 L106.74,321.78 L103.54,321.78Z" fill="#fff" stroke="#8e99cf" stroke-width="0.6"/>
<line x1="115.59" y1="322.60" x2="115.59" y2="329.99" stroke="#8e99cf" stroke-width="0.7"/>
<line x1="114.29" y1="322.60" x2="116.89" y2="322.60" stroke="#8e99cf" stroke-width="0.7"/>
<line x1="114.29" y1="329.99" x2="116.89" y2="329.99" stroke="#8e99cf" stroke-width="0.7"/>
<path d="M115.59,328.05 L117.19,325.01 L113.99,325.01Z" fill="#fff" stroke="#8e99cf" stroke-width="0.6"/>
<line x1="126.74" y1="333.22" x2="126.74" y2="340.62" stroke="#8e99cf" stroke-width="0.7"/>
<line x1="125.44" y1="333.22" x2="128.04" y2="333.22" stroke="#8e99cf" stroke-width="0.7"/>
<line x1="125.44" y1="340.62" x2="128.04" y2="340.62" stroke="#8e99cf" stroke-width="0.7"/>
<path d="M126.74,338.68 L128.34,335.64 L125.14,335.64Z" fill="#fff" stroke="#8e99cf" stroke-width="0.6"/>
<line x1="136.85" y1="351.24" x2="136.85" y2="356.79" stroke="#8e99cf" stroke-width="0.7"/>
<line x1="135.55" y1="351.24" x2="138.15" y2="351.24" stroke="#8e99cf" stroke-width="0.7"/>
<line x1="135.55" y1="356.79" x2="138.15" y2="356.79" stroke="#8e99cf" stroke-width="0.7"/>
<path d="M136.85,355.77 L138.45,352.73 L135.25,352.73Z" fill="#fff" stroke="#8e99cf" stroke-width="0.6"/>
<line x1="52.16" y1="332.30" x2="52.16" y2="335.07" stroke="#5868b0" stroke-width="0.7"/>
<line x1="50.86" y1="332.30" x2="53.46" y2="332.30" stroke="#5868b0" stroke-width="0.7"/>
<line x1="50.86" y1="335.07" x2="53.46" y2="335.07" stroke="#5868b0" stroke-width="0.7"/>
<rect x="50.80" y="332.33" width="2.72" height="2.72" fill="#5868b0"/>
<line x1="63.32" y1="331.84" x2="63.32" y2="334.61" stroke="#5868b0" stroke-width="0.7"/>
<line x1="62.02" y1="331.84" x2="64.62" y2="331.84" stroke="#5868b0" stroke-width="0.7"/>
<line x1="62.02" y1="334.61" x2="64.62" y2="334.61" stroke="#5868b0" stroke-width="0.7"/>
<rect x="61.96" y="331.86" width="2.72" height="2.72" fill="#5868b0"/>
<line x1="74.12" y1="331.84" x2="74.12" y2="334.61" stroke="#5868b0" stroke-width="0.7"/>
<line x1="72.82" y1="331.84" x2="75.42" y2="331.84" stroke="#5868b0" stroke-width="0.7"/>
<line x1="72.82" y1="334.61" x2="75.42" y2="334.61" stroke="#5868b0" stroke-width="0.7"/>
<rect x="72.76" y="331.86" width="2.72" height="2.72" fill="#5868b0"/>
<line x1="84.23" y1="332.30" x2="84.23" y2="335.07" stroke="#5868b0" stroke-width="0.7"/>
<line x1="82.93" y1="332.30" x2="85.53" y2="332.30" stroke="#5868b0" stroke-width="0.7"/>
<line x1="82.93" y1="335.07" x2="85.53" y2="335.07" stroke="#5868b0" stroke-width="0.7"/>
<rect x="82.87" y="332.33" width="2.72" height="2.72" fill="#5868b0"/>
<line x1="94.68" y1="333.22" x2="94.68" y2="336.00" stroke="#5868b0" stroke-width="0.7"/>
<line x1="93.38" y1="333.22" x2="95.98" y2="333.22" stroke="#5868b0" stroke-width="0.7"/>
<line x1="93.38" y1="336.00" x2="95.98" y2="336.00" stroke="#5868b0" stroke-width="0.7"/>
<rect x="93.32" y="333.25" width="2.72" height="2.72" fill="#5868b0"/>
<line x1="105.14" y1="336.46" x2="105.14" y2="339.23" stroke="#5868b0" stroke-width="0.7"/>
<line x1="103.84" y1="336.46" x2="106.44" y2="336.46" stroke="#5868b0" stroke-width="0.7"/>
<line x1="103.84" y1="339.23" x2="106.44" y2="339.23" stroke="#5868b0" stroke-width="0.7"/>
<rect x="103.78" y="336.48" width="2.72" height="2.72" fill="#5868b0"/>
<line x1="115.59" y1="338.31" x2="115.59" y2="341.08" stroke="#5868b0" stroke-width="0.7"/>
<line x1="114.29" y1="338.31" x2="116.89" y2="338.31" stroke="#5868b0" stroke-width="0.7"/>
<line x1="114.29" y1="341.08" x2="116.89" y2="341.08" stroke="#5868b0" stroke-width="0.7"/>
<rect x="114.23" y="338.33" width="2.72" height="2.72" fill="#5868b0"/>
<line x1="126.74" y1="340.15" x2="126.74" y2="342.93" stroke="#5868b0" stroke-width="0.7"/>
<line x1="125.44" y1="340.15" x2="128.04" y2="340.15" stroke="#5868b0" stroke-width="0.7"/>
<line x1="125.44" y1="342.93" x2="128.04" y2="342.93" stroke="#5868b0" stroke-width="0.7"/>
<rect x="125.38" y="340.18" width="2.72" height="2.72" fill="#5868b0"/>
<line x1="136.85" y1="370.18" x2="136.85" y2="372.96" stroke="#5868b0" stroke-width="0.7"/>
<line x1="135.55" y1="370.18" x2="138.15" y2="370.18" stroke="#5868b0" stroke-width="0.7"/>
<line x1="135.55" y1="372.96" x2="138.15" y2="372.96" stroke="#5868b0" stroke-width="0.7"/>
<rect x="135.49" y="370.21" width="2.72" height="2.72" fill="#5868b0"/>
<line x1="52.16" y1="329.53" x2="52.16" y2="332.30" stroke="#222" stroke-width="0.7"/>
<line x1="50.86" y1="329.53" x2="53.46" y2="329.53" stroke="#222" stroke-width="0.7"/>
<line x1="50.86" y1="332.30" x2="53.46" y2="332.30" stroke="#222" stroke-width="0.7"/>
<path d="M52.16,329.15 L53.92,330.91 L52.16,332.67 L50.40,330.91Z" fill="#fff" stroke="#222" stroke-width="0.6"/>
<line x1="63.32" y1="329.07" x2="63.32" y2="331.84" stroke="#222" stroke-width="0.7"/>
<line x1="62.02" y1="329.07" x2="64.62" y2="329.07" stroke="#222" stroke-width="0.7"/>
<line x1="62.02" y1="331.84" x2="64.62" y2="331.84" stroke="#222" stroke-width="0.7"/>
<path d="M63.32,328.69 L65.08,330.45 L63.32,332.21 L61.56,330.45Z" fill="#fff" stroke="#222" stroke-width="0.6"/>
<line x1="74.12" y1="329.07" x2="74.12" y2="331.84" stroke="#222" stroke-width="0.7"/>
<line x1="72.82" y1="329.07" x2="75.42" y2="329.07" stroke="#222" stroke-width="0.7"/>
<line x1="72.82" y1="331.84" x2="75.42" y2="331.84" stroke="#222" stroke-width="0.7"/>
<path d="M74.12,328.69 L75.88,330.45 L74.12,332.21 L72.36,330.45Z" fill="#fff" stroke="#222" stroke-width="0.6"/>
<line x1="84.23" y1="328.60" x2="84.23" y2="331.38" stroke="#222" stroke-width="0.7"/>
<line x1="82.93" y1="328.60" x2="85.53" y2="328.60" stroke="#222" stroke-width="0.7"/>
<line x1="82.93" y1="331.38" x2="85.53" y2="331.38" stroke="#222" stroke-width="0.7"/>
<path d="M84.23,328.23 L85.99,329.99 L84.23,331.75 L82.47,329.99Z" fill="#fff" stroke="#222" stroke-width="0.6"/>
<line x1="94.68" y1="329.07" x2="94.68" y2="331.84" stroke="#222" stroke-width="0.7"/>
<line x1="93.38" y1="329.07" x2="95.98" y2="329.07" stroke="#222" stroke-width="0.7"/>
<line x1="93.38" y1="331.84" x2="95.98" y2="331.84" stroke="#222" stroke-width="0.7"/>
<path d="M94.68,328.69 L96.44,330.45 L94.68,332.21 L92.92,330.45Z" fill="#fff" stroke="#222" stroke-width="0.6"/>
<line x1="105.14" y1="330.91" x2="105.14" y2="333.69" stroke="#222" stroke-width="0.7"/>
<line x1="103.84" y1="330.91" x2="106.44" y2="330.91" stroke="#222" stroke-width="0.7"/>
<line x1="103.84" y1="333.69" x2="106.44" y2="333.69" stroke="#222" stroke-width="0.7"/>
<path d="M105.14,330.54 L106.90,332.30 L105.14,334.06 L103.38,332.30Z" fill="#fff" stroke="#222" stroke-width="0.6"/>
<line x1="115.59" y1="335.53" x2="115.59" y2="338.31" stroke="#222" stroke-width="0.7"/>
<line x1="114.29" y1="335.53" x2="116.89" y2="335.53" stroke="#222" stroke-width="0.7"/>
<line x1="114.29" y1="338.31" x2="116.89" y2="338.31" stroke="#222" stroke-width="0.7"/>
<path d="M115.59,335.16 L117.35,336.92 L115.59,338.68 L113.83,336.92Z" fill="#fff" stroke="#222" stroke-width="0.6"/>
<line x1="126.74" y1="349.39" x2="126.74" y2="352.17" stroke="#222" stroke-width="0.7"/>
<line x1="125.44" y1="349.39" x2="128.04" y2="349.39" stroke="#222" stroke-width="0.7"/>
<line x1="125.44" y1="352.17" x2="128.04" y2="352.17" stroke="#222" stroke-width="0.7"/>
<path d="M126.74,349.02 L128.50,350.78 L126.74,352.54 L124.98,350.78Z" fill="#fff" stroke="#222" stroke-width="0.6"/>
<line x1="136.85" y1="366.95" x2="136.85" y2="369.72" stroke="#222" stroke-width="0.7"/>
<line x1="135.55" y1="366.95" x2="138.15" y2="366.95" stroke="#222" stroke-width="0.7"/>
<line x1="135.55" y1="369.72" x2="138.15" y2="369.72" stroke="#222" stroke-width="0.7"/>
<path d="M136.85,366.58 L138.61,368.34 L136.85,370.10 L135.09,368.34Z" fill="#fff" stroke="#222" stroke-width="0.6"/>
<line x1="52.16" y1="328.14" x2="52.16" y2="330.91" stroke="#111" stroke-width="0.7"/>
<line x1="50.86" y1="328.14" x2="53.46" y2="328.14" stroke="#111" stroke-width="0.7"/>
<line x1="50.86" y1="330.91" x2="53.46" y2="330.91" stroke="#111" stroke-width="0.7"/>
<circle cx="52.16" cy="329.53" r="1.60" fill="#111"/>
<line x1="63.32" y1="327.68" x2="63.32" y2="330.45" stroke="#111" stroke-width="0.7"/>
<line x1="62.02" y1="327.68" x2="64.62" y2="327.68" stroke="#111" stroke-width="0.7"/>
<line x1="62.02" y1="330.45" x2="64.62" y2="330.45" stroke="#111" stroke-width="0.7"/>
<circle cx="63.32" cy="329.07" r="1.60" fill="#111"/>
<line x1="74.12" y1="327.68" x2="74.12" y2="330.45" stroke="#111" stroke-width="0.7"/>
<line x1="72.82" y1="327.68" x2="75.42" y2="327.68" stroke="#111" stroke-width="0.7"/>
<line x1="72.82" y1="330.45" x2="75.42" y2="330.45" stroke="#111" stroke-width="0.7"/>
<circle cx="74.12" cy="329.07" r="1.60" fill="#111"/>
<line x1="84.23" y1="327.68" x2="84.23" y2="330.45" stroke="#111" stroke-width="0.7"/>
<line x1="82.93" y1="327.68" x2="85.53" y2="327.68" stroke="#111" stroke-width="0.7"/>
<line x1="82.93" y1="330.45" x2="85.53" y2="330.45" stroke="#111" stroke-width="0.7"/>
<circle cx="84.23" cy="329.07" r="1.60" fill="#111"/>
<line x1="94.68" y1="328.14" x2="94.68" y2="330.91" stroke="#111" stroke-width="0.7"/>
<line x1="93.38" y1="328.14" x2="95.98" y2="328.14" stroke="#111" stroke-width="0.7"/>
<line x1="93.38" y1="330.91" x2="95.98" y2="330.91" stroke="#111" stroke-width="0.7"/>
<circle cx="94.68" cy="329.53" r="1.60" fill="#111"/>
<line x1="105.14" y1="329.99" x2="105.14" y2="332.76" stroke="#111" stroke-width="0.7"/>
<line x1="103.84" y1="329.99" x2="106.44" y2="329.99" stroke="#111" stroke-width="0.7"/>
<line x1="103.84" y1="332.76" x2="106.44" y2="332.76" stroke="#111" stroke-width="0.7"/>
<circle cx="105.14" cy="331.38" r="1.60" fill="#111"/>
<line x1="115.59" y1="333.69" x2="115.59" y2="336.46" stroke="#111" stroke-width="0.7"/>
<line x1="114.29" y1="333.69" x2="116.89" y2="333.69" stroke="#111" stroke-width="0.7"/>
<line x1="114.29" y1="336.46" x2="116.89" y2="336.46" stroke="#111" stroke-width="0.7"/>
<circle cx="115.59" cy="335.07" r="1.60" fill="#111"/>
<line x1="126.74" y1="351.24" x2="126.74" y2="354.01" stroke="#111" stroke-width="0.7"/>
<line x1="125.44" y1="351.24" x2="128.04" y2="351.24" stroke="#111" stroke-width="0.7"/>
<line x1="125.44" y1="354.01" x2="128.04" y2="354.01" stroke="#111" stroke-width="0.7"/>
<circle cx="126.74" cy="352.63" r="1.60" fill="#111"/>
<line x1="136.85" y1="366.03" x2="136.85" y2="368.80" stroke="#111" stroke-width="0.7"/>
<line x1="135.55" y1="366.03" x2="138.15" y2="366.03" stroke="#111" stroke-width="0.7"/>
<line x1="135.55" y1="368.80" x2="138.15" y2="368.80" stroke="#111" stroke-width="0.7"/>
<circle cx="136.85" cy="367.41" r="1.60" fill="#111"/>
<line x1="52.16" y1="336.00" x2="52.16" y2="339.69" stroke="#e0282e" stroke-width="0.7"/>
<line x1="50.86" y1="336.00" x2="53.46" y2="336.00" stroke="#e0282e" stroke-width="0.7"/>
<line x1="50.86" y1="339.69" x2="53.46" y2="339.69" stroke="#e0282e" stroke-width="0.7"/>
<path d="M52.16,336.08 L53.76,339.12 L50.56,339.12Z" fill="#e0282e"/>
<line x1="63.32" y1="336.46" x2="63.32" y2="340.15" stroke="#e0282e" stroke-width="0.7"/>
<line x1="62.02" y1="336.46" x2="64.62" y2="336.46" stroke="#e0282e" stroke-width="0.7"/>
<line x1="62.02" y1="340.15" x2="64.62" y2="340.15" stroke="#e0282e" stroke-width="0.7"/>
<path d="M63.32,336.55 L64.92,339.59 L61.72,339.59Z" fill="#e0282e"/>
<line x1="74.12" y1="338.31" x2="74.12" y2="341.08" stroke="#e0282e" stroke-width="0.7"/>
<line x1="72.82" y1="338.31" x2="75.42" y2="338.31" stroke="#e0282e" stroke-width="0.7"/>
<line x1="72.82" y1="341.08" x2="75.42" y2="341.08" stroke="#e0282e" stroke-width="0.7"/>
<path d="M74.12,337.93 L75.72,340.97 L72.52,340.97Z" fill="#e0282e"/>
<line x1="84.23" y1="342.00" x2="84.23" y2="345.70" stroke="#e0282e" stroke-width="0.7"/>
<line x1="82.93" y1="342.00" x2="85.53" y2="342.00" stroke="#e0282e" stroke-width="0.7"/>
<line x1="82.93" y1="345.70" x2="85.53" y2="345.70" stroke="#e0282e" stroke-width="0.7"/>
<path d="M84.23,342.09 L85.83,345.13 L82.63,345.13Z" fill="#e0282e"/>
<line x1="94.68" y1="343.85" x2="94.68" y2="348.47" stroke="#e0282e" stroke-width="0.7"/>
<line x1="93.38" y1="343.85" x2="95.98" y2="343.85" stroke="#e0282e" stroke-width="0.7"/>
<line x1="93.38" y1="348.47" x2="95.98" y2="348.47" stroke="#e0282e" stroke-width="0.7"/>
<path d="M94.68,344.40 L96.28,347.44 L93.08,347.44Z" fill="#e0282e"/>
<line x1="105.14" y1="348.47" x2="105.14" y2="353.09" stroke="#e0282e" stroke-width="0.7"/>
<line x1="103.84" y1="348.47" x2="106.44" y2="348.47" stroke="#e0282e" stroke-width="0.7"/>
<line x1="103.84" y1="353.09" x2="106.44" y2="353.09" stroke="#e0282e" stroke-width="0.7"/>
<path d="M105.14,349.02 L106.74,352.06 L103.54,352.06Z" fill="#e0282e"/>
<line x1="115.59" y1="363.72" x2="115.59" y2="367.41" stroke="#e0282e" stroke-width="0.7"/>
<line x1="114.29" y1="363.72" x2="116.89" y2="363.72" stroke="#e0282e" stroke-width="0.7"/>
<line x1="114.29" y1="367.41" x2="116.89" y2="367.41" stroke="#e0282e" stroke-width="0.7"/>
<path d="M115.59,363.80 L117.19,366.84 L113.99,366.84Z" fill="#e0282e"/>
<line x1="126.74" y1="374.80" x2="126.74" y2="376.65" stroke="#e0282e" stroke-width="0.7"/>
<line x1="125.44" y1="374.80" x2="128.04" y2="374.80" stroke="#e0282e" stroke-width="0.7"/>
<line x1="125.44" y1="376.65" x2="128.04" y2="376.65" stroke="#e0282e" stroke-width="0.7"/>
<path d="M126.74,373.97 L128.34,377.01 L125.14,377.01Z" fill="#e0282e"/>
<line x1="136.85" y1="378.04" x2="136.85" y2="378.50" stroke="#e0282e" stroke-width="0.7"/>
<line x1="135.55" y1="378.04" x2="138.15" y2="378.04" stroke="#e0282e" stroke-width="0.7"/>
<line x1="135.55" y1="378.50" x2="138.15" y2="378.50" stroke="#e0282e" stroke-width="0.7"/>
<path d="M136.85,376.74 L138.45,379.78 L135.25,379.78Z" fill="#e0282e"/>
<line x1="52.16" y1="335.07" x2="52.16" y2="338.77" stroke="#e0282e" stroke-width="0.7"/>
<line x1="50.86" y1="335.07" x2="53.46" y2="335.07" stroke="#e0282e" stroke-width="0.7"/>
<line x1="50.86" y1="338.77" x2="53.46" y2="338.77" stroke="#e0282e" stroke-width="0.7"/>
<circle cx="52.16" cy="336.92" r="1.44" fill="#fff" stroke="#e0282e" stroke-width="0.6"/>
<line x1="63.32" y1="336.92" x2="63.32" y2="340.62" stroke="#e0282e" stroke-width="0.7"/>
<line x1="62.02" y1="336.92" x2="64.62" y2="336.92" stroke="#e0282e" stroke-width="0.7"/>
<line x1="62.02" y1="340.62" x2="64.62" y2="340.62" stroke="#e0282e" stroke-width="0.7"/>
<circle cx="63.32" cy="338.77" r="1.44" fill="#fff" stroke="#e0282e" stroke-width="0.6"/>
<line x1="74.12" y1="338.77" x2="74.12" y2="341.54" stroke="#e0282e" stroke-width="0.7"/>
<line x1="72.82" y1="338.77" x2="75.42" y2="338.77" stroke="#e0282e" stroke-width="0.7"/>
<line x1="72.82" y1="341.54" x2="75.42" y2="341.54" stroke="#e0282e" stroke-width="0.7"/>
<circle cx="74.12" cy="340.15" r="1.44" fill="#fff" stroke="#e0282e" stroke-width="0.6"/>
<line x1="84.23" y1="346.16" x2="84.23" y2="350.78" stroke="#e0282e" stroke-width="0.7"/>
<line x1="82.93" y1="346.16" x2="85.53" y2="346.16" stroke="#e0282e" stroke-width="0.7"/>
<line x1="82.93" y1="350.78" x2="85.53" y2="350.78" stroke="#e0282e" stroke-width="0.7"/>
<circle cx="84.23" cy="348.47" r="1.44" fill="#fff" stroke="#e0282e" stroke-width="0.6"/>
<line x1="94.68" y1="352.17" x2="94.68" y2="356.79" stroke="#e0282e" stroke-width="0.7"/>
<line x1="93.38" y1="352.17" x2="95.98" y2="352.17" stroke="#e0282e" stroke-width="0.7"/>
<line x1="93.38" y1="356.79" x2="95.98" y2="356.79" stroke="#e0282e" stroke-width="0.7"/>
<circle cx="94.68" cy="354.48" r="1.44" fill="#fff" stroke="#e0282e" stroke-width="0.6"/>
<line x1="105.14" y1="358.17" x2="105.14" y2="361.87" stroke="#e0282e" stroke-width="0.7"/>
<line x1="103.84" y1="358.17" x2="106.44" y2="358.17" stroke="#e0282e" stroke-width="0.7"/>
<line x1="103.84" y1="361.87" x2="106.44" y2="361.87" stroke="#e0282e" stroke-width="0.7"/>
<circle cx="105.14" cy="360.02" r="1.44" fill="#fff" stroke="#e0282e" stroke-width="0.6"/>
<line x1="115.59" y1="367.87" x2="115.59" y2="370.65" stroke="#e0282e" stroke-width="0.7"/>
<line x1="114.29" y1="367.87" x2="116.89" y2="367.87" stroke="#e0282e" stroke-width="0.7"/>
<line x1="114.29" y1="370.65" x2="116.89" y2="370.65" stroke="#e0282e" stroke-width="0.7"/>
<circle cx="115.59" cy="369.26" r="1.44" fill="#fff" stroke="#e0282e" stroke-width="0.6"/>
<line x1="126.74" y1="375.73" x2="126.74" y2="377.58" stroke="#e0282e" stroke-width="0.7"/>
<line x1="125.44" y1="375.73" x2="128.04" y2="375.73" stroke="#e0282e" stroke-width="0.7"/>
<line x1="125.44" y1="377.58" x2="128.04" y2="377.58" stroke="#e0282e" stroke-width="0.7"/>
<circle cx="126.74" cy="376.65" r="1.44" fill="#fff" stroke="#e0282e" stroke-width="0.6"/>
<line x1="136.85" y1="378.04" x2="136.85" y2="378.50" stroke="#e0282e" stroke-width="0.7"/>
<line x1="135.55" y1="378.04" x2="138.15" y2="378.04" stroke="#e0282e" stroke-width="0.7"/>
<line x1="135.55" y1="378.50" x2="138.15" y2="378.50" stroke="#e0282e" stroke-width="0.7"/>
<circle cx="136.85" cy="378.50" r="1.44" fill="#fff" stroke="#e0282e" stroke-width="0.6"/>
<text x="157.00" y="317.90" font-size="7.4" stroke="#231f20" stroke-width="0.18">Cells</text>
<text x="182.5" y="317.9" font-size="7.4" stroke="#231f20" stroke-width="0.18">EC<tspan font-size="5" dy="1.8">50</tspan><tspan dy="-1.8"> (µmol/L)</tspan></text>
<path d="M149.60,322.77 L151.35,326.10 L147.85,326.10Z" fill="#e0282e"/>
<text x="155.20" y="326.70" font-size="5.6" fill="#d23a44" stroke="#d23a44" stroke-width="0.1">T387 GSC</text>
<text x="211.60" y="326.70" font-size="5.6" text-anchor="end" fill="#d23a44" stroke="#d23a44" stroke-width="0.1">15.03</text>
<circle cx="149.60" cy="334.45" r="1.57" fill="#fff" stroke="#e0282e" stroke-width="0.6"/>
<text x="155.20" y="336.45" font-size="5.6" fill="#d23a44" stroke="#d23a44" stroke-width="0.1">T3565 GSC</text>
<text x="211.60" y="336.45" font-size="5.6" text-anchor="end" fill="#d23a44" stroke="#d23a44" stroke-width="0.1">8.50</text>
<path d="M149.60,346.12 L151.35,342.80 L147.85,342.80Z" fill="#fff" stroke="#8f9bd0" stroke-width="0.6"/>
<text x="155.20" y="346.20" font-size="5.6" fill="#9ba3cc" stroke="#9ba3cc" stroke-width="0.1">T387 DGC</text>
<text x="211.60" y="346.20" font-size="5.6" text-anchor="end" fill="#9ba3cc" stroke="#9ba3cc" stroke-width="0.1">94.61</text>
<rect x="148.11" y="352.46" width="2.98" height="2.98" fill="#5d6fb5"/>
<text x="155.20" y="355.95" font-size="5.6" fill="#9ba3cc" stroke="#9ba3cc" stroke-width="0.1">T3565 DGC</text>
<text x="211.60" y="355.95" font-size="5.6" text-anchor="end" fill="#9ba3cc" stroke="#9ba3cc" stroke-width="0.1">68.42</text>
<circle cx="149.60" cy="363.70" r="1.75" fill="#231f20"/>
<text x="155.20" y="365.70" font-size="5.6" stroke="#231f20" stroke-width="0.1">NM263</text>
<text x="211.60" y="365.70" font-size="5.6" text-anchor="end" stroke="#231f20" stroke-width="0.1">55.15</text>
<path d="M149.60,371.52 L151.53,373.45 L149.60,375.38 L147.67,373.45Z" fill="#fff" stroke="#231f20" stroke-width="0.6"/>
<text x="155.20" y="375.45" font-size="5.6" stroke="#231f20" stroke-width="0.1">NM290</text>
<text x="211.60" y="375.45" font-size="5.6" text-anchor="end" stroke="#231f20" stroke-width="0.1">47.84</text>
<text x="232.60" y="301.40" font-size="10" font-weight="bold" stroke="#231f20" stroke-width="0.18">H</text>
<text x="294.60" y="301.00" font-size="7.6" text-anchor="middle" stroke="#231f20" stroke-width="0.18">T387 GSC</text>
<line x1="261.90" y1="303.40" x2="261.90" y2="378.40" stroke="#231f20" stroke-width="0.9"/>
<line x1="261.90" y1="378.00" x2="369.70" y2="378.00" stroke="#231f20" stroke-width="0.9"/>
<line x1="260.30" y1="303.90" x2="261.90" y2="303.90" stroke="#231f20" stroke-width="0.8"/>
<text x="259.60" y="306.50" font-size="7.3" text-anchor="end" stroke="#231f20" stroke-width="0.18">100</text>
<line x1="260.30" y1="340.95" x2="261.90" y2="340.95" stroke="#231f20" stroke-width="0.8"/>
<text x="259.60" y="343.55" font-size="7.3" text-anchor="end" stroke="#231f20" stroke-width="0.18">50</text>
<line x1="260.30" y1="378.00" x2="261.90" y2="378.00" stroke="#231f20" stroke-width="0.8"/>
<text x="259.60" y="380.60" font-size="7.3" text-anchor="end" stroke="#231f20" stroke-width="0.18">0</text>
<line x1="261.90" y1="378.00" x2="261.90" y2="379.60" stroke="#231f20" stroke-width="0.8"/>
<text x="261.90" y="389.80" font-size="7.3" text-anchor="middle" stroke="#231f20" stroke-width="0.18">0</text>
<line x1="292.70" y1="378.00" x2="292.70" y2="379.60" stroke="#231f20" stroke-width="0.8"/>
<text x="292.70" y="389.80" font-size="7.3" text-anchor="middle" stroke="#231f20" stroke-width="0.18">10</text>
<line x1="323.50" y1="378.00" x2="323.50" y2="379.60" stroke="#231f20" stroke-width="0.8"/>
<text x="323.50" y="389.80" font-size="7.3" text-anchor="middle" stroke="#231f20" stroke-width="0.18">20</text>
<line x1="354.30" y1="378.00" x2="354.30" y2="379.60" stroke="#231f20" stroke-width="0.8"/>
<text x="354.30" y="389.80" font-size="7.3" text-anchor="middle" stroke="#231f20" stroke-width="0.18">30</text>
<text x="314.30" y="397.40" font-size="7.4" text-anchor="middle" stroke="#231f20" stroke-width="0.18">Days after treatment</text>
<text x="245.10" y="340.95" font-size="7.4" text-anchor="middle" transform="rotate(-90 245.10 340.95)" stroke="#231f20" stroke-width="0.18">Percent survival</text>
<path d="M320.00,304.40 L329.50,304.40 L329.50,308.70 L335.60,308.70 L335.60,318.50 L338.70,318.50 L338.70,328.40 L341.90,328.40 L341.90,338.20 L344.90,338.20 L344.90,353.20 L353.80,353.20 L353.80,368.30 L356.40,368.30 L356.40,378.30" stroke="#cc5f6c" stroke-width="1.0" fill="none"/>
<path d="M262.00,304.40 L326.60,304.40 L326.60,313.70 L329.50,313.70 L329.50,323.70 L332.60,323.70 L332.60,328.40 L335.60,328.40 L335.60,343.40 L338.10,343.40 L338.10,353.20 L341.60,353.20 L341.60,363.10 L344.50,363.10 L344.50,368.30 L347.40,368.30 L347.40,378.30" stroke="#231f20" stroke-width="1.0" fill="none"/>
<line x1="327.50" y1="341.70" x2="341.40" y2="341.70" stroke="#c8303a" stroke-width="1.2"/>
<path d="M343.40,341.70 L340.20,340.10 L340.20,343.30 Z" fill="#c8303a"/>
<text x="289.40" y="344.00" font-size="6.6" fill="#d04a55" stroke="#d04a55" stroke-width="0.18"><tspan font-size="5" dy="-1.2">*</tspan><tspan dy="1.2" font-style="italic">P</tspan> = 0.0103</text>
<line x1="267.50" y1="355.20" x2="275.50" y2="355.20" stroke="#231f20" stroke-width="0.9"/>
<path d="M271.50,353.80 L272.90,356.10 L270.10,356.10Z" fill="#231f20"/>
<text x="278.10" y="357.20" font-size="5.6" stroke="#231f20" stroke-width="0.1">Vehicle (<tspan font-style="italic">n</tspan> = 15)</text>
<line x1="267.50" y1="362.50" x2="275.50" y2="362.50" stroke="#cc5f6c" stroke-width="0.9"/>
<path d="M271.50,361.10 L272.90,363.40 L270.10,363.40Z" fill="#cc5f6c"/>
<text x="278.10" y="364.50" font-size="5.6" stroke="#231f20" stroke-width="0.1">SHP656 (<tspan font-style="italic">n</tspan> = 15)</text>
<text x="372.20" y="301.40" font-size="10" font-weight="bold" stroke="#231f20" stroke-width="0.18">I</text>
<text x="433.10" y="301.00" font-size="7.6" text-anchor="middle" stroke="#231f20" stroke-width="0.18">T3565 GSC</text>
<line x1="401.50" y1="303.40" x2="401.50" y2="378.40" stroke="#231f20" stroke-width="0.9"/>
<line x1="401.50" y1="378.00" x2="511.60" y2="378.00" stroke="#231f20" stroke-width="0.9"/>
<line x1="399.90" y1="303.90" x2="401.50" y2="303.90" stroke="#231f20" stroke-width="0.8"/>
<text x="399.20" y="306.50" font-size="7.3" text-anchor="end" stroke="#231f20" stroke-width="0.18">100</text>
<line x1="399.90" y1="340.95" x2="401.50" y2="340.95" stroke="#231f20" stroke-width="0.8"/>
<text x="399.20" y="343.55" font-size="7.3" text-anchor="end" stroke="#231f20" stroke-width="0.18">50</text>
<line x1="399.90" y1="378.00" x2="401.50" y2="378.00" stroke="#231f20" stroke-width="0.8"/>
<text x="399.20" y="380.60" font-size="7.3" text-anchor="end" stroke="#231f20" stroke-width="0.18">0</text>
<line x1="401.50" y1="378.00" x2="401.50" y2="379.60" stroke="#231f20" stroke-width="0.8"/>
<text x="401.50" y="389.80" font-size="7.3" text-anchor="middle" stroke="#231f20" stroke-width="0.18">0</text>
<line x1="438.20" y1="378.00" x2="438.20" y2="379.60" stroke="#231f20" stroke-width="0.8"/>
<text x="438.20" y="389.80" font-size="7.3" text-anchor="middle" stroke="#231f20" stroke-width="0.18">10</text>
<line x1="474.90" y1="378.00" x2="474.90" y2="379.60" stroke="#231f20" stroke-width="0.8"/>
<text x="474.90" y="389.80" font-size="7.3" text-anchor="middle" stroke="#231f20" stroke-width="0.18">20</text>
<line x1="511.60" y1="378.00" x2="511.60" y2="379.60" stroke="#231f20" stroke-width="0.8"/>
<text x="511.60" y="389.80" font-size="7.3" text-anchor="middle" stroke="#231f20" stroke-width="0.18">30</text>
<text x="456.55" y="397.40" font-size="7.4" text-anchor="middle" stroke="#231f20" stroke-width="0.18">Days after treatment</text>
<text x="382.80" y="340.95" font-size="7.4" text-anchor="middle" transform="rotate(-90 382.80 340.95)" stroke="#231f20" stroke-width="0.18">Percent survival</text>
<path d="M450.00,303.75 L464.40,303.75 L464.40,310.60 L472.25,310.60 L472.25,318.50 L476.00,318.50 L476.00,326.00 L486.90,326.00 L486.90,333.50 L490.60,333.50 L490.60,340.25 L494.40,340.25 L494.40,348.10 L498.10,348.10 L498.10,355.60 L501.50,355.60 L501.50,370.60 L505.00,370.60 L505.00,378.30" stroke="#cc5f6c" stroke-width="1.0" fill="none"/>
<path d="M401.50,303.75 L457.25,303.75 L457.25,312.50 L460.60,312.50 L460.60,331.25 L468.50,331.25 L468.50,350.25 L479.75,350.25 L479.75,359.40 L487.25,359.40 L487.25,378.30" stroke="#231f20" stroke-width="1.0" fill="none"/>
<line x1="468.50" y1="339.80" x2="488.50" y2="339.80" stroke="#c8303a" stroke-width="1.2"/>
<path d="M490.50,339.80 L487.30,338.20 L487.30,341.40 Z" fill="#c8303a"/>
<text x="435.20" y="342.10" font-size="6.6" fill="#d04a55" stroke="#d04a55" stroke-width="0.18"><tspan font-size="5" dy="-1.2">*</tspan><tspan dy="1.2" font-style="italic">P</tspan> = 0.047</text>
<line x1="407.10" y1="355.20" x2="415.10" y2="355.20" stroke="#231f20" stroke-width="0.9"/>
<path d="M411.10,353.80 L412.50,356.10 L409.70,356.10Z" fill="#231f20"/>
<text x="417.70" y="357.20" font-size="5.6" stroke="#231f20" stroke-width="0.1">Vehicle (<tspan font-style="italic">n</tspan> = 10)</text>
<line x1="407.10" y1="362.50" x2="415.10" y2="362.50" stroke="#cc5f6c" stroke-width="0.9"/>
<path d="M411.10,361.10 L412.50,363.40 L409.70,363.40Z" fill="#cc5f6c"/>
<text x="417.70" y="364.50" font-size="5.6" stroke="#231f20" stroke-width="0.1">SHP656 (<tspan font-style="italic">n</tspan> = 10)</text>
<text x="-0.30" y="440.50" font-size="10" font-weight="bold" stroke="#231f20" stroke-width="0.18">J</text>
<line x1="27.90" y1="445.78" x2="27.90" y2="505.10" stroke="#231f20" stroke-width="0.9"/>
<line x1="27.90" y1="505.10" x2="117.00" y2="505.10" stroke="#231f20" stroke-width="0.9"/>
<line x1="26.30" y1="446.28" x2="27.90" y2="446.28" stroke="#231f20" stroke-width="0.8"/>
<text x="25.30" y="448.68" font-size="6.8" text-anchor="end" stroke="#231f20" stroke-width="0.18">12</text>
<line x1="26.30" y1="465.82" x2="27.90" y2="465.82" stroke="#231f20" stroke-width="0.8"/>
<text x="25.30" y="468.22" font-size="6.8" text-anchor="end" stroke="#231f20" stroke-width="0.18">10</text>
<line x1="26.30" y1="485.36" x2="27.90" y2="485.36" stroke="#231f20" stroke-width="0.8"/>
<text x="25.30" y="487.76" font-size="6.8" text-anchor="end" stroke="#231f20" stroke-width="0.18">8</text>
<line x1="26.30" y1="504.90" x2="27.90" y2="504.90" stroke="#231f20" stroke-width="0.8"/>
<text x="25.30" y="507.30" font-size="6.8" text-anchor="end" stroke="#231f20" stroke-width="0.18">6</text>
<text x="7.30" y="474.50" font-size="6.6" text-anchor="middle" transform="rotate(-90 7.30 474.50)" stroke="#231f20" stroke-width="0.18"><tspan font-style="italic">BMAL1</tspan> mRNA</text>
<text x="15.90" y="474.50" font-size="6.6" text-anchor="middle" transform="rotate(-90 15.90 474.50)" stroke="#231f20" stroke-width="0.18">level (log<tspan font-size="4.6" dy="1.5">2</tspan><tspan dy="-1.5">)</tspan></text>
<line x1="43.60" y1="505.10" x2="43.60" y2="506.80" stroke="#231f20" stroke-width="0.8"/>
<text x="43.60" y="513.60" font-size="6.6" text-anchor="middle" stroke="#231f20" stroke-width="0.18">II</text>
<line x1="72.80" y1="505.10" x2="72.80" y2="506.80" stroke="#231f20" stroke-width="0.8"/>
<text x="72.80" y="513.60" font-size="6.6" text-anchor="middle" stroke="#231f20" stroke-width="0.18">III</text>
<line x1="102.20" y1="505.10" x2="102.20" y2="506.80" stroke="#231f20" stroke-width="0.8"/>
<text x="102.20" y="513.60" font-size="6.6" text-anchor="middle" stroke="#231f20" stroke-width="0.18">IV</text>
<text x="72.60" y="521.10" font-size="6.6" text-anchor="middle" stroke="#231f20" stroke-width="0.18">Grade</text>
<path d="M43.6,461.5 L43.6,442.3 L102.2,442.3 L102.2,450" stroke="#444" stroke-width="0.7" fill="none"/>
<path d="M72.8,455.8 L72.8,450 L102.2,450 L102.2,461" stroke="#444" stroke-width="0.7" fill="none"/>
<text x="52.70" y="437.90" font-size="6.0" textLength="39" lengthAdjust="spacingAndGlyphs" stroke="#231f20" stroke-width="0.1"><tspan font-size="4.50" dy="-1.2">***</tspan><tspan dy="1.2" font-style="italic">P</tspan> = 1.2e<tspan font-size="4.20" dy="-2">−29</tspan></text>
<text x="69.00" y="447.50" font-size="5.2" textLength="31.5" lengthAdjust="spacingAndGlyphs" stroke="#231f20" stroke-width="0.1"><tspan font-size="3.90" dy="-1.2">***</tspan><tspan dy="1.2" font-style="italic">P</tspan> = 9.1e<tspan font-size="3.64" dy="-2">−25</tspan></text>
<g fill="#23397f"><circle cx="41.37" cy="498.21" r="0.95"/><circle cx="43.08" cy="497.82" r="0.95"/><circle cx="44.50" cy="498.28" r="0.95"/><circle cx="45.79" cy="498.04" r="0.95"/><circle cx="42.73" cy="496.52" r="0.95"/><circle cx="44.33" cy="496.56" r="0.95"/><circle cx="42.64" cy="495.28" r="0.95"/><circle cx="44.33" cy="494.94" r="0.95"/><circle cx="41.58" cy="493.54" r="0.95"/><circle cx="42.87" cy="493.61" r="0.95"/><circle cx="44.11" cy="493.52" r="0.95"/><circle cx="45.73" cy="493.77" r="0.95"/><circle cx="33.66" cy="491.86" r="0.95"/><circle cx="34.89" cy="491.78" r="0.95"/><circle cx="36.32" cy="492.19" r="0.95"/><circle cx="38.00" cy="491.99" r="0.95"/><circle cx="39.16" cy="491.81" r="0.95"/><circle cx="40.76" cy="492.26" r="0.95"/><circle cx="41.96" cy="492.17" r="0.95"/><circle cx="43.36" cy="491.82" r="0.95"/><circle cx="44.91" cy="492.11" r="0.95"/><circle cx="46.41" cy="491.91" r="0.95"/><circle cx="48.01" cy="491.76" r="0.95"/><circle cx="49.52" cy="491.77" r="0.95"/><circle cx="50.86" cy="491.85" r="0.95"/><circle cx="52.15" cy="492.02" r="0.95"/><circle cx="53.72" cy="491.93" r="0.95"/><circle cx="33.41" cy="490.52" r="0.95"/><circle cx="34.73" cy="490.32" r="0.95"/><circle cx="36.42" cy="490.58" r="0.95"/><circle cx="37.81" cy="490.71" r="0.95"/><circle cx="39.31" cy="490.71" r="0.95"/><circle cx="40.57" cy="490.64" r="0.95"/><circle cx="42.31" cy="490.74" r="0.95"/><circle cx="43.51" cy="490.39" r="0.95"/><circle cx="45.26" cy="490.33" r="0.95"/><circle cx="46.75" cy="490.73" r="0.95"/><circle cx="47.77" cy="490.34" r="0.95"/><circle cx="49.51" cy="490.36" r="0.95"/><circle cx="50.65" cy="490.70" r="0.95"/><circle cx="52.26" cy="490.67" r="0.95"/><circle cx="53.56" cy="490.44" r="0.95"/><circle cx="33.54" cy="488.71" r="0.95"/><circle cx="34.75" cy="489.11" r="0.95"/><circle cx="36.56" cy="489.28" r="0.95"/><circle cx="37.61" cy="489.00" r="0.95"/><circle cx="39.38" cy="489.00" r="0.95"/><circle cx="40.79" cy="488.81" r="0.95"/><circle cx="41.94" cy="488.76" r="0.95"/><circle cx="43.37" cy="489.03" r="0.95"/><circle cx="45.06" cy="489.04" r="0.95"/><circle cx="46.32" cy="488.81" r="0.95"/><circle cx="47.80" cy="489.20" r="0.95"/><circle cx="49.65" cy="489.26" r="0.95"/><circle cx="50.65" cy="488.74" r="0.95"/><circle cx="52.53" cy="488.98" r="0.95"/><circle cx="53.88" cy="488.90" r="0.95"/><circle cx="33.43" cy="487.51" r="0.95"/><circle cx="34.87" cy="487.56" r="0.95"/><circle cx="36.11" cy="487.62" r="0.95"/><circle cx="37.97" cy="487.31" r="0.95"/><circle cx="39.23" cy="487.64" r="0.95"/><circle cx="40.65" cy="487.32" r="0.95"/><circle cx="41.98" cy="487.51" r="0.95"/><circle cx="43.36" cy="487.74" r="0.95"/><circle cx="45.20" cy="487.62" r="0.95"/><circle cx="46.68" cy="487.58" r="0.95"/><circle cx="47.90" cy="487.56" r="0.95"/><circle cx="49.40" cy="487.79" r="0.95"/><circle cx="51.00" cy="487.35" r="0.95"/><circle cx="52.51" cy="487.65" r="0.95"/><circle cx="53.89" cy="487.69" r="0.95"/><circle cx="33.40" cy="486.24" r="0.95"/><circle cx="35.09" cy="486.12" r="0.95"/><circle cx="36.48" cy="486.16" r="0.95"/><circle cx="37.75" cy="486.13" r="0.95"/><circle cx="39.04" cy="485.91" r="0.95"/><circle cx="40.68" cy="485.71" r="0.95"/><circle cx="42.08" cy="486.08" r="0.95"/><circle cx="43.66" cy="485.84" r="0.95"/><circle cx="45.27" cy="486.10" r="0.95"/><circle cx="46.42" cy="486.10" r="0.95"/><circle cx="47.98" cy="486.02" r="0.95"/><circle cx="49.34" cy="486.30" r="0.95"/><circle cx="50.92" cy="486.12" r="0.95"/><circle cx="52.43" cy="486.29" r="0.95"/><circle cx="53.51" cy="486.07" r="0.95"/><circle cx="33.57" cy="484.35" r="0.95"/><circle cx="34.85" cy="484.23" r="0.95"/><circle cx="36.20" cy="484.43" r="0.95"/><circle cx="37.60" cy="484.35" r="0.95"/><circle cx="39.45" cy="484.53" r="0.95"/><circle cx="40.70" cy="484.78" r="0.95"/><circle cx="42.18" cy="484.80" r="0.95"/><circle cx="43.67" cy="484.69" r="0.95"/><circle cx="44.84" cy="484.56" r="0.95"/><circle cx="46.63" cy="484.23" r="0.95"/><circle cx="48.17" cy="484.30" r="0.95"/><circle cx="49.39" cy="484.30" r="0.95"/><circle cx="50.85" cy="484.57" r="0.95"/><circle cx="52.08" cy="484.77" r="0.95"/><circle cx="53.71" cy="484.52" r="0.95"/><circle cx="33.50" cy="482.92" r="0.95"/><circle cx="34.79" cy="483.09" r="0.95"/><circle cx="36.38" cy="482.87" r="0.95"/><circle cx="37.91" cy="482.88" r="0.95"/><circle cx="39.01" cy="482.85" r="0.95"/><circle cx="40.47" cy="482.79" r="0.95"/><circle cx="42.28" cy="482.93" r="0.95"/><circle cx="43.80" cy="483.15" r="0.95"/><circle cx="44.83" cy="483.29" r="0.95"/><circle cx="46.72" cy="482.74" r="0.95"/><circle cx="48.15" cy="482.96" r="0.95"/><circle cx="49.39" cy="483.28" r="0.95"/><circle cx="50.72" cy="483.01" r="0.95"/><circle cx="52.52" cy="483.13" r="0.95"/><circle cx="53.73" cy="483.29" r="0.95"/><circle cx="33.61" cy="481.56" r="0.95"/><circle cx="34.71" cy="481.57" r="0.95"/><circle cx="36.33" cy="481.32" r="0.95"/><circle cx="37.58" cy="481.52" r="0.95"/><circle cx="39.06" cy="481.47" r="0.95"/><circle cx="40.78" cy="481.47" r="0.95"/><circle cx="42.03" cy="481.55" r="0.95"/><circle cx="43.56" cy="481.67" r="0.95"/><circle cx="45.07" cy="481.80" r="0.95"/><circle cx="46.73" cy="481.64" r="0.95"/><circle cx="47.82" cy="481.27" r="0.95"/><circle cx="49.60" cy="481.67" r="0.95"/><circle cx="50.91" cy="481.42" r="0.95"/><circle cx="52.19" cy="481.61" r="0.95"/><circle cx="53.78" cy="481.56" r="0.95"/><circle cx="33.52" cy="480.15" r="0.95"/><circle cx="34.74" cy="479.85" r="0.95"/><circle cx="36.59" cy="480.25" r="0.95"/><circle cx="37.99" cy="479.72" r="0.95"/><circle cx="39.03" cy="479.86" r="0.95"/><circle cx="40.66" cy="480.07" r="0.95"/><circle cx="41.95" cy="480.02" r="0.95"/><circle cx="43.39" cy="479.75" r="0.95"/><circle cx="45.14" cy="480.03" r="0.95"/><circle cx="46.57" cy="479.92" r="0.95"/><circle cx="47.94" cy="479.83" r="0.95"/><circle cx="49.32" cy="480.15" r="0.95"/><circle cx="51.02" cy="479.74" r="0.95"/><circle cx="52.11" cy="480.19" r="0.95"/><circle cx="53.81" cy="480.16" r="0.95"/><circle cx="33.31" cy="478.45" r="0.95"/><circle cx="34.78" cy="478.69" r="0.95"/><circle cx="36.28" cy="478.59" r="0.95"/><circle cx="38.04" cy="478.40" r="0.95"/><circle cx="39.27" cy="478.65" r="0.95"/><circle cx="40.91" cy="478.46" r="0.95"/><circle cx="42.08" cy="478.26" r="0.95"/><circle cx="43.79" cy="478.25" r="0.95"/><circle cx="44.84" cy="478.54" r="0.95"/><circle cx="46.49" cy="478.61" r="0.95"/><circle cx="47.85" cy="478.67" r="0.95"/><circle cx="49.19" cy="478.33" r="0.95"/><circle cx="50.93" cy="478.25" r="0.95"/><circle cx="52.20" cy="478.63" r="0.95"/><circle cx="53.85" cy="478.37" r="0.95"/><circle cx="33.27" cy="476.91" r="0.95"/><circle cx="35.01" cy="476.92" r="0.95"/><circle cx="36.16" cy="477.13" r="0.95"/><circle cx="37.83" cy="477.25" r="0.95"/><circle cx="39.47" cy="477.25" r="0.95"/><circle cx="40.67" cy="477.18" r="0.95"/><circle cx="42.05" cy="476.89" r="0.95"/><circle cx="43.55" cy="477.26" r="0.95"/><circle cx="45.25" cy="476.85" r="0.95"/><circle cx="46.43" cy="476.92" r="0.95"/><circle cx="47.88" cy="476.94" r="0.95"/><circle cx="49.34" cy="476.82" r="0.95"/><circle cx="50.88" cy="477.18" r="0.95"/><circle cx="52.32" cy="477.20" r="0.95"/><circle cx="53.78" cy="476.81" r="0.95"/><circle cx="33.58" cy="475.73" r="0.95"/><circle cx="34.79" cy="475.21" r="0.95"/><circle cx="36.36" cy="475.53" r="0.95"/><circle cx="37.83" cy="475.78" r="0.95"/><circle cx="39.33" cy="475.68" r="0.95"/><circle cx="40.48" cy="475.53" r="0.95"/><circle cx="42.29" cy="475.25" r="0.95"/><circle cx="43.39" cy="475.64" r="0.95"/><circle cx="45.25" cy="475.25" r="0.95"/><circle cx="46.57" cy="475.29" r="0.95"/><circle cx="48.07" cy="475.59" r="0.95"/><circle cx="49.27" cy="475.33" r="0.95"/><circle cx="50.98" cy="475.51" r="0.95"/><circle cx="52.43" cy="475.44" r="0.95"/><circle cx="53.67" cy="475.78" r="0.95"/><circle cx="33.54" cy="474.00" r="0.95"/><circle cx="34.92" cy="474.13" r="0.95"/><circle cx="36.45" cy="474.25" r="0.95"/><circle cx="37.76" cy="474.20" r="0.95"/><circle cx="39.33" cy="474.21" r="0.95"/><circle cx="40.85" cy="474.20" r="0.95"/><circle cx="42.34" cy="474.27" r="0.95"/><circle cx="43.67" cy="474.01" r="0.95"/><circle cx="45.16" cy="474.18" r="0.95"/><circle cx="46.46" cy="473.95" r="0.95"/><circle cx="47.77" cy="474.14" r="0.95"/><circle cx="49.65" cy="473.93" r="0.95"/><circle cx="50.68" cy="473.82" r="0.95"/><circle cx="52.26" cy="473.88" r="0.95"/><circle cx="53.98" cy="473.74" r="0.95"/><circle cx="42.05" cy="472.27" r="0.95"/><circle cx="43.67" cy="472.67" r="0.95"/><circle cx="44.89" cy="472.24" r="0.95"/><circle cx="41.40" cy="469.55" r="0.95"/><circle cx="43.08" cy="469.22" r="0.95"/><circle cx="44.13" cy="469.31" r="0.95"/><circle cx="45.63" cy="469.34" r="0.95"/><circle cx="43.71" cy="468.06" r="0.95"/><circle cx="43.46" cy="466.31" r="0.95"/></g>
<line x1="43.60" y1="477.54" x2="43.60" y2="489.27" stroke="#111" stroke-width="0.8"/>
<line x1="34.10" y1="483.41" x2="53.10" y2="483.41" stroke="#111" stroke-width="0.9"/>
<line x1="39.10" y1="477.54" x2="48.10" y2="477.54" stroke="#111" stroke-width="0.8"/>
<line x1="39.10" y1="489.27" x2="48.10" y2="489.27" stroke="#111" stroke-width="0.8"/>
<g fill="#5e2884"><circle cx="72.93" cy="500.93" r="0.95"/><circle cx="72.29" cy="499.50" r="0.95"/><circle cx="73.36" cy="499.53" r="0.95"/><circle cx="72.87" cy="497.92" r="0.95"/><circle cx="71.43" cy="496.67" r="0.95"/><circle cx="72.81" cy="496.50" r="0.95"/><circle cx="74.42" cy="496.61" r="0.95"/><circle cx="72.81" cy="495.27" r="0.95"/><circle cx="71.19" cy="493.67" r="0.95"/><circle cx="72.63" cy="493.56" r="0.95"/><circle cx="74.12" cy="493.46" r="0.95"/><circle cx="65.69" cy="492.17" r="0.95"/><circle cx="67.15" cy="491.84" r="0.95"/><circle cx="68.44" cy="491.83" r="0.95"/><circle cx="69.94" cy="492.00" r="0.95"/><circle cx="71.12" cy="492.06" r="0.95"/><circle cx="72.91" cy="492.04" r="0.95"/><circle cx="74.44" cy="491.81" r="0.95"/><circle cx="75.53" cy="491.71" r="0.95"/><circle cx="77.15" cy="491.96" r="0.95"/><circle cx="78.57" cy="491.86" r="0.95"/><circle cx="80.20" cy="491.74" r="0.95"/><circle cx="63.58" cy="490.54" r="0.95"/><circle cx="64.85" cy="490.67" r="0.95"/><circle cx="66.14" cy="490.29" r="0.95"/><circle cx="67.63" cy="490.23" r="0.95"/><circle cx="69.08" cy="490.57" r="0.95"/><circle cx="70.64" cy="490.36" r="0.95"/><circle cx="72.12" cy="490.25" r="0.95"/><circle cx="73.69" cy="490.30" r="0.95"/><circle cx="74.85" cy="490.30" r="0.95"/><circle cx="76.52" cy="490.70" r="0.95"/><circle cx="78.02" cy="490.24" r="0.95"/><circle cx="79.28" cy="490.42" r="0.95"/><circle cx="80.63" cy="490.78" r="0.95"/><circle cx="82.00" cy="490.49" r="0.95"/><circle cx="63.51" cy="489.29" r="0.95"/><circle cx="64.65" cy="488.97" r="0.95"/><circle cx="66.40" cy="488.72" r="0.95"/><circle cx="67.60" cy="489.23" r="0.95"/><circle cx="69.00" cy="488.94" r="0.95"/><circle cx="70.52" cy="488.95" r="0.95"/><circle cx="71.86" cy="488.72" r="0.95"/><circle cx="73.77" cy="489.16" r="0.95"/><circle cx="75.09" cy="488.84" r="0.95"/><circle cx="76.30" cy="489.03" r="0.95"/><circle cx="77.75" cy="488.98" r="0.95"/><circle cx="79.54" cy="488.92" r="0.95"/><circle cx="80.69" cy="489.29" r="0.95"/><circle cx="82.28" cy="488.72" r="0.95"/><circle cx="63.33" cy="487.59" r="0.95"/><circle cx="64.60" cy="487.41" r="0.95"/><circle cx="66.37" cy="487.72" r="0.95"/><circle cx="67.77" cy="487.73" r="0.95"/><circle cx="69.16" cy="487.44" r="0.95"/><circle cx="70.80" cy="487.43" r="0.95"/><circle cx="72.22" cy="487.33" r="0.95"/><circle cx="73.45" cy="487.31" r="0.95"/><circle cx="75.00" cy="487.30" r="0.95"/><circle cx="76.28" cy="487.33" r="0.95"/><circle cx="77.86" cy="487.39" r="0.95"/><circle cx="79.30" cy="487.80" r="0.95"/><circle cx="80.86" cy="487.72" r="0.95"/><circle cx="82.08" cy="487.43" r="0.95"/><circle cx="63.16" cy="486.11" r="0.95"/><circle cx="64.76" cy="485.86" r="0.95"/><circle cx="66.03" cy="485.81" r="0.95"/><circle cx="67.61" cy="485.94" r="0.95"/><circle cx="69.39" cy="486.13" r="0.95"/><circle cx="70.51" cy="485.92" r="0.95"/><circle cx="71.90" cy="486.26" r="0.95"/><circle cx="73.45" cy="486.16" r="0.95"/><circle cx="75.09" cy="486.24" r="0.95"/><circle cx="76.19" cy="485.89" r="0.95"/><circle cx="77.82" cy="485.75" r="0.95"/><circle cx="79.52" cy="485.90" r="0.95"/><circle cx="80.91" cy="486.01" r="0.95"/><circle cx="82.00" cy="485.94" r="0.95"/><circle cx="63.24" cy="484.22" r="0.95"/><circle cx="64.65" cy="484.56" r="0.95"/><circle cx="66.04" cy="484.39" r="0.95"/><circle cx="67.69" cy="484.53" r="0.95"/><circle cx="68.99" cy="484.62" r="0.95"/><circle cx="70.51" cy="484.64" r="0.95"/><circle cx="72.16" cy="484.29" r="0.95"/><circle cx="73.38" cy="484.37" r="0.95"/><circle cx="75.08" cy="484.44" r="0.95"/><circle cx="76.37" cy="484.72" r="0.95"/><circle cx="77.74" cy="484.38" r="0.95"/><circle cx="79.25" cy="484.33" r="0.95"/><circle cx="80.55" cy="484.21" r="0.95"/><circle cx="82.29" cy="484.54" r="0.95"/><circle cx="63.53" cy="483.29" r="0.95"/><circle cx="64.72" cy="483.10" r="0.95"/><circle cx="66.48" cy="482.83" r="0.95"/><circle cx="67.82" cy="483.10" r="0.95"/><circle cx="69.40" cy="483.22" r="0.95"/><circle cx="70.49" cy="483.08" r="0.95"/><circle cx="71.87" cy="482.96" r="0.95"/><circle cx="73.47" cy="482.74" r="0.95"/><circle cx="74.92" cy="482.90" r="0.95"/><circle cx="76.42" cy="482.87" r="0.95"/><circle cx="77.70" cy="482.94" r="0.95"/><circle cx="79.31" cy="482.80" r="0.95"/><circle cx="80.86" cy="482.84" r="0.95"/><circle cx="82.02" cy="482.91" r="0.95"/><circle cx="63.34" cy="481.29" r="0.95"/><circle cx="64.87" cy="481.62" r="0.95"/><circle cx="66.30" cy="481.62" r="0.95"/><circle cx="67.49" cy="481.43" r="0.95"/><circle cx="69.11" cy="481.24" r="0.95"/><circle cx="70.58" cy="481.23" r="0.95"/><circle cx="72.07" cy="481.55" r="0.95"/><circle cx="73.51" cy="481.40" r="0.95"/><circle cx="74.85" cy="481.21" r="0.95"/><circle cx="76.35" cy="481.74" r="0.95"/><circle cx="77.91" cy="481.36" r="0.95"/><circle cx="79.41" cy="481.31" r="0.95"/><circle cx="80.76" cy="481.57" r="0.95"/><circle cx="82.45" cy="481.42" r="0.95"/><circle cx="63.41" cy="480.27" r="0.95"/><circle cx="64.96" cy="480.08" r="0.95"/><circle cx="66.34" cy="479.95" r="0.95"/><circle cx="67.68" cy="479.87" r="0.95"/><circle cx="69.34" cy="480.23" r="0.95"/><circle cx="70.57" cy="480.25" r="0.95"/><circle cx="71.84" cy="479.78" r="0.95"/><circle cx="73.53" cy="479.89" r="0.95"/><circle cx="74.91" cy="480.29" r="0.95"/><circle cx="76.25" cy="479.82" r="0.95"/><circle cx="77.74" cy="480.11" r="0.95"/><circle cx="79.19" cy="479.70" r="0.95"/><circle cx="80.80" cy="479.94" r="0.95"/><circle cx="82.09" cy="480.00" r="0.95"/><circle cx="63.45" cy="478.53" r="0.95"/><circle cx="64.89" cy="478.54" r="0.95"/><circle cx="66.44" cy="478.78" r="0.95"/><circle cx="67.64" cy="478.41" r="0.95"/><circle cx="69.37" cy="478.39" r="0.95"/><circle cx="70.73" cy="478.62" r="0.95"/><circle cx="72.17" cy="478.78" r="0.95"/><circle cx="73.69" cy="478.30" r="0.95"/><circle cx="75.04" cy="478.49" r="0.95"/><circle cx="76.46" cy="478.42" r="0.95"/><circle cx="77.77" cy="478.65" r="0.95"/><circle cx="79.34" cy="478.34" r="0.95"/><circle cx="80.65" cy="478.39" r="0.95"/><circle cx="82.06" cy="478.51" r="0.95"/><circle cx="63.19" cy="476.74" r="0.95"/><circle cx="64.61" cy="476.76" r="0.95"/><circle cx="66.38" cy="476.77" r="0.95"/><circle cx="67.70" cy="477.16" r="0.95"/><circle cx="69.17" cy="476.80" r="0.95"/><circle cx="70.81" cy="477.22" r="0.95"/><circle cx="71.85" cy="476.85" r="0.95"/><circle cx="73.53" cy="477.18" r="0.95"/><circle cx="74.92" cy="477.13" r="0.95"/><circle cx="76.30" cy="477.13" r="0.95"/><circle cx="77.79" cy="476.90" r="0.95"/><circle cx="79.45" cy="477.21" r="0.95"/><circle cx="80.94" cy="477.04" r="0.95"/><circle cx="82.19" cy="477.12" r="0.95"/><circle cx="63.44" cy="475.70" r="0.95"/><circle cx="64.98" cy="475.28" r="0.95"/><circle cx="66.21" cy="475.60" r="0.95"/><circle cx="67.59" cy="475.31" r="0.95"/><circle cx="68.93" cy="475.55" r="0.95"/><circle cx="70.85" cy="475.78" r="0.95"/><circle cx="71.89" cy="475.61" r="0.95"/><circle cx="73.48" cy="475.58" r="0.95"/><circle cx="74.92" cy="475.76" r="0.95"/><circle cx="76.67" cy="475.23" r="0.95"/><circle cx="77.98" cy="475.27" r="0.95"/><circle cx="79.10" cy="475.37" r="0.95"/><circle cx="80.89" cy="475.80" r="0.95"/><circle cx="82.04" cy="475.40" r="0.95"/><circle cx="63.14" cy="474.03" r="0.95"/><circle cx="64.82" cy="473.92" r="0.95"/><circle cx="66.18" cy="474.18" r="0.95"/><circle cx="67.89" cy="473.87" r="0.95"/><circle cx="69.12" cy="474.07" r="0.95"/><circle cx="70.76" cy="474.29" r="0.95"/><circle cx="72.02" cy="474.12" r="0.95"/><circle cx="73.55" cy="474.18" r="0.95"/><circle cx="74.80" cy="473.81" r="0.95"/><circle cx="76.23" cy="474.26" r="0.95"/><circle cx="77.75" cy="473.99" r="0.95"/><circle cx="79.14" cy="473.89" r="0.95"/><circle cx="80.53" cy="474.04" r="0.95"/><circle cx="82.05" cy="474.08" r="0.95"/><circle cx="63.26" cy="472.34" r="0.95"/><circle cx="64.82" cy="472.42" r="0.95"/><circle cx="66.15" cy="472.23" r="0.95"/><circle cx="67.51" cy="472.74" r="0.95"/><circle cx="69.08" cy="472.25" r="0.95"/><circle cx="70.47" cy="472.49" r="0.95"/><circle cx="72.32" cy="472.32" r="0.95"/><circle cx="73.71" cy="472.49" r="0.95"/><circle cx="74.93" cy="472.68" r="0.95"/><circle cx="76.37" cy="472.23" r="0.95"/><circle cx="77.90" cy="472.59" r="0.95"/><circle cx="79.39" cy="472.37" r="0.95"/><circle cx="80.99" cy="472.72" r="0.95"/><circle cx="82.47" cy="472.47" r="0.95"/><circle cx="63.54" cy="471.13" r="0.95"/><circle cx="64.66" cy="470.72" r="0.95"/><circle cx="66.11" cy="470.77" r="0.95"/><circle cx="67.51" cy="470.92" r="0.95"/><circle cx="69.30" cy="470.89" r="0.95"/><circle cx="70.63" cy="470.71" r="0.95"/><circle cx="71.93" cy="471.28" r="0.95"/><circle cx="73.28" cy="471.02" r="0.95"/><circle cx="75.13" cy="471.18" r="0.95"/><circle cx="76.54" cy="470.94" r="0.95"/><circle cx="78.03" cy="471.20" r="0.95"/><circle cx="79.46" cy="471.29" r="0.95"/><circle cx="80.58" cy="471.27" r="0.95"/><circle cx="82.18" cy="471.12" r="0.95"/><circle cx="63.25" cy="469.75" r="0.95"/><circle cx="64.59" cy="469.55" r="0.95"/><circle cx="66.14" cy="469.43" r="0.95"/><circle cx="67.66" cy="469.59" r="0.95"/><circle cx="69.33" cy="469.42" r="0.95"/><circle cx="70.69" cy="469.41" r="0.95"/><circle cx="71.96" cy="469.74" r="0.95"/><circle cx="73.44" cy="469.26" r="0.95"/><circle cx="74.89" cy="469.64" r="0.95"/><circle cx="76.28" cy="469.65" r="0.95"/><circle cx="77.90" cy="469.61" r="0.95"/><circle cx="79.16" cy="469.26" r="0.95"/><circle cx="80.60" cy="469.41" r="0.95"/><circle cx="82.19" cy="469.21" r="0.95"/><circle cx="71.35" cy="467.94" r="0.95"/><circle cx="72.71" cy="468.02" r="0.95"/><circle cx="74.48" cy="467.82" r="0.95"/><circle cx="72.27" cy="466.39" r="0.95"/><circle cx="73.65" cy="466.27" r="0.95"/><circle cx="72.32" cy="463.46" r="0.95"/><circle cx="73.76" cy="463.33" r="0.95"/><circle cx="72.75" cy="457.62" r="0.95"/><circle cx="72.64" cy="455.86" r="0.95"/><circle cx="72.89" cy="454.77" r="0.95"/></g>
<line x1="72.80" y1="475.39" x2="72.80" y2="487.51" stroke="#111" stroke-width="0.8"/>
<line x1="63.30" y1="481.45" x2="82.30" y2="481.45" stroke="#111" stroke-width="0.9"/>
<line x1="68.30" y1="475.39" x2="77.30" y2="475.39" stroke="#111" stroke-width="0.8"/>
<line x1="68.30" y1="487.51" x2="77.30" y2="487.51" stroke="#111" stroke-width="0.8"/>
<g fill="#e5332e"><circle cx="102.01" cy="501.20" r="0.95"/><circle cx="102.28" cy="499.53" r="0.95"/><circle cx="100.56" cy="494.77" r="0.95"/><circle cx="102.11" cy="495.27" r="0.95"/><circle cx="103.68" cy="495.25" r="0.95"/><circle cx="101.33" cy="493.45" r="0.95"/><circle cx="102.94" cy="493.70" r="0.95"/><circle cx="96.94" cy="492.22" r="0.95"/><circle cx="98.56" cy="491.72" r="0.95"/><circle cx="99.99" cy="491.93" r="0.95"/><circle cx="101.56" cy="492.26" r="0.95"/><circle cx="102.92" cy="492.11" r="0.95"/><circle cx="104.32" cy="492.17" r="0.95"/><circle cx="105.63" cy="492.15" r="0.95"/><circle cx="107.11" cy="492.05" r="0.95"/><circle cx="101.33" cy="490.41" r="0.95"/><circle cx="102.76" cy="490.41" r="0.95"/><circle cx="101.52" cy="489.01" r="0.95"/><circle cx="102.87" cy="489.04" r="0.95"/><circle cx="99.47" cy="487.41" r="0.95"/><circle cx="100.79" cy="487.49" r="0.95"/><circle cx="102.44" cy="487.40" r="0.95"/><circle cx="103.75" cy="487.34" r="0.95"/><circle cx="104.98" cy="487.64" r="0.95"/><circle cx="93.54" cy="485.85" r="0.95"/><circle cx="94.73" cy="486.19" r="0.95"/><circle cx="96.34" cy="486.13" r="0.95"/><circle cx="97.82" cy="486.07" r="0.95"/><circle cx="99.33" cy="486.29" r="0.95"/><circle cx="100.95" cy="485.97" r="0.95"/><circle cx="102.19" cy="485.84" r="0.95"/><circle cx="103.78" cy="485.76" r="0.95"/><circle cx="105.00" cy="486.21" r="0.95"/><circle cx="106.32" cy="486.12" r="0.95"/><circle cx="108.03" cy="486.03" r="0.95"/><circle cx="109.37" cy="485.79" r="0.95"/><circle cx="111.13" cy="486.16" r="0.95"/><circle cx="93.65" cy="484.26" r="0.95"/><circle cx="95.09" cy="484.33" r="0.95"/><circle cx="96.25" cy="484.52" r="0.95"/><circle cx="97.90" cy="484.27" r="0.95"/><circle cx="99.43" cy="484.55" r="0.95"/><circle cx="100.95" cy="484.75" r="0.95"/><circle cx="102.29" cy="484.42" r="0.95"/><circle cx="103.88" cy="484.63" r="0.95"/><circle cx="105.00" cy="484.71" r="0.95"/><circle cx="106.66" cy="484.36" r="0.95"/><circle cx="107.87" cy="484.21" r="0.95"/><circle cx="109.47" cy="484.35" r="0.95"/><circle cx="110.80" cy="484.35" r="0.95"/><circle cx="93.32" cy="482.99" r="0.95"/><circle cx="94.84" cy="482.87" r="0.95"/><circle cx="96.29" cy="483.01" r="0.95"/><circle cx="98.04" cy="482.80" r="0.95"/><circle cx="99.48" cy="483.21" r="0.95"/><circle cx="100.80" cy="483.03" r="0.95"/><circle cx="102.32" cy="483.02" r="0.95"/><circle cx="103.73" cy="483.25" r="0.95"/><circle cx="105.24" cy="482.86" r="0.95"/><circle cx="106.33" cy="483.26" r="0.95"/><circle cx="107.93" cy="483.17" r="0.95"/><circle cx="109.32" cy="482.97" r="0.95"/><circle cx="110.84" cy="483.14" r="0.95"/><circle cx="93.72" cy="481.50" r="0.95"/><circle cx="94.98" cy="481.41" r="0.95"/><circle cx="96.27" cy="481.77" r="0.95"/><circle cx="97.66" cy="481.76" r="0.95"/><circle cx="99.38" cy="481.24" r="0.95"/><circle cx="100.95" cy="481.26" r="0.95"/><circle cx="102.23" cy="481.27" r="0.95"/><circle cx="103.89" cy="481.39" r="0.95"/><circle cx="105.29" cy="481.24" r="0.95"/><circle cx="106.63" cy="481.24" r="0.95"/><circle cx="107.76" cy="481.54" r="0.95"/><circle cx="109.69" cy="481.61" r="0.95"/><circle cx="111.08" cy="481.67" r="0.95"/><circle cx="93.51" cy="479.75" r="0.95"/><circle cx="94.96" cy="479.81" r="0.95"/><circle cx="96.41" cy="479.91" r="0.95"/><circle cx="97.85" cy="479.82" r="0.95"/><circle cx="99.40" cy="479.95" r="0.95"/><circle cx="100.74" cy="479.75" r="0.95"/><circle cx="102.19" cy="480.03" r="0.95"/><circle cx="103.89" cy="480.04" r="0.95"/><circle cx="104.92" cy="479.88" r="0.95"/><circle cx="106.47" cy="480.12" r="0.95"/><circle cx="108.22" cy="480.29" r="0.95"/><circle cx="109.67" cy="480.26" r="0.95"/><circle cx="111.08" cy="480.26" r="0.95"/><circle cx="93.26" cy="478.49" r="0.95"/><circle cx="95.00" cy="478.61" r="0.95"/><circle cx="96.46" cy="478.57" r="0.95"/><circle cx="98.07" cy="478.25" r="0.95"/><circle cx="99.31" cy="478.78" r="0.95"/><circle cx="100.52" cy="478.27" r="0.95"/><circle cx="102.38" cy="478.77" r="0.95"/><circle cx="103.41" cy="478.22" r="0.95"/><circle cx="105.26" cy="478.61" r="0.95"/><circle cx="106.56" cy="478.55" r="0.95"/><circle cx="108.13" cy="478.68" r="0.95"/><circle cx="109.20" cy="478.24" r="0.95"/><circle cx="111.05" cy="478.79" r="0.95"/><circle cx="93.67" cy="476.94" r="0.95"/><circle cx="94.87" cy="476.91" r="0.95"/><circle cx="96.16" cy="477.16" r="0.95"/><circle cx="97.73" cy="477.05" r="0.95"/><circle cx="99.31" cy="476.90" r="0.95"/><circle cx="100.84" cy="476.97" r="0.95"/><circle cx="102.07" cy="477.23" r="0.95"/><circle cx="103.49" cy="476.79" r="0.95"/><circle cx="104.98" cy="476.99" r="0.95"/><circle cx="106.69" cy="476.90" r="0.95"/><circle cx="107.87" cy="477.09" r="0.95"/><circle cx="109.33" cy="477.01" r="0.95"/><circle cx="110.78" cy="477.23" r="0.95"/><circle cx="93.34" cy="475.34" r="0.95"/><circle cx="94.85" cy="475.40" r="0.95"/><circle cx="96.51" cy="475.60" r="0.95"/><circle cx="98.00" cy="475.52" r="0.95"/><circle cx="99.09" cy="475.66" r="0.95"/><circle cx="100.62" cy="475.33" r="0.95"/><circle cx="102.16" cy="475.79" r="0.95"/><circle cx="103.59" cy="475.41" r="0.95"/><circle cx="105.31" cy="475.79" r="0.95"/><circle cx="106.49" cy="475.28" r="0.95"/><circle cx="108.14" cy="475.67" r="0.95"/><circle cx="109.37" cy="475.67" r="0.95"/><circle cx="110.84" cy="475.37" r="0.95"/><circle cx="93.55" cy="474.14" r="0.95"/><circle cx="94.94" cy="474.19" r="0.95"/><circle cx="96.16" cy="474.00" r="0.95"/><circle cx="97.79" cy="473.74" r="0.95"/><circle cx="99.51" cy="473.79" r="0.95"/><circle cx="100.60" cy="474.23" r="0.95"/><circle cx="102.43" cy="474.26" r="0.95"/><circle cx="103.57" cy="474.26" r="0.95"/><circle cx="104.92" cy="474.13" r="0.95"/><circle cx="106.77" cy="473.82" r="0.95"/><circle cx="107.82" cy="474.11" r="0.95"/><circle cx="109.64" cy="474.14" r="0.95"/><circle cx="111.12" cy="473.97" r="0.95"/><circle cx="93.44" cy="472.27" r="0.95"/><circle cx="94.84" cy="472.76" r="0.95"/><circle cx="96.19" cy="472.31" r="0.95"/><circle cx="97.77" cy="472.23" r="0.95"/><circle cx="99.20" cy="472.31" r="0.95"/><circle cx="100.56" cy="472.52" r="0.95"/><circle cx="102.22" cy="472.54" r="0.95"/><circle cx="103.78" cy="472.52" r="0.95"/><circle cx="105.32" cy="472.25" r="0.95"/><circle cx="106.41" cy="472.25" r="0.95"/><circle cx="107.90" cy="472.66" r="0.95"/><circle cx="109.66" cy="472.50" r="0.95"/><circle cx="110.73" cy="472.40" r="0.95"/><circle cx="93.53" cy="470.88" r="0.95"/><circle cx="95.10" cy="471.28" r="0.95"/><circle cx="96.38" cy="471.06" r="0.95"/><circle cx="98.02" cy="470.98" r="0.95"/><circle cx="99.15" cy="471.27" r="0.95"/><circle cx="100.99" cy="470.71" r="0.95"/><circle cx="102.33" cy="470.94" r="0.95"/><circle cx="103.43" cy="470.80" r="0.95"/><circle cx="104.94" cy="471.14" r="0.95"/><circle cx="106.41" cy="470.71" r="0.95"/><circle cx="107.86" cy="471.18" r="0.95"/><circle cx="109.45" cy="471.09" r="0.95"/><circle cx="110.88" cy="470.81" r="0.95"/><circle cx="93.26" cy="469.38" r="0.95"/><circle cx="94.72" cy="469.36" r="0.95"/><circle cx="96.46" cy="469.42" r="0.95"/><circle cx="97.84" cy="469.57" r="0.95"/><circle cx="99.21" cy="469.41" r="0.95"/><circle cx="100.94" cy="469.55" r="0.95"/><circle cx="102.16" cy="469.52" r="0.95"/><circle cx="103.63" cy="469.40" r="0.95"/><circle cx="105.31" cy="469.34" r="0.95"/><circle cx="106.77" cy="469.71" r="0.95"/><circle cx="108.19" cy="469.30" r="0.95"/><circle cx="109.45" cy="469.79" r="0.95"/><circle cx="110.79" cy="469.30" r="0.95"/><circle cx="93.61" cy="467.84" r="0.95"/><circle cx="94.99" cy="467.79" r="0.95"/><circle cx="96.62" cy="467.87" r="0.95"/><circle cx="97.65" cy="468.11" r="0.95"/><circle cx="99.22" cy="468.04" r="0.95"/><circle cx="100.75" cy="468.25" r="0.95"/><circle cx="102.21" cy="467.93" r="0.95"/><circle cx="103.40" cy="468.00" r="0.95"/><circle cx="104.98" cy="468.04" r="0.95"/><circle cx="106.62" cy="467.98" r="0.95"/><circle cx="107.79" cy="468.00" r="0.95"/><circle cx="109.44" cy="468.08" r="0.95"/><circle cx="111.14" cy="467.87" r="0.95"/><circle cx="93.47" cy="466.25" r="0.95"/><circle cx="95.10" cy="466.34" r="0.95"/><circle cx="96.56" cy="466.68" r="0.95"/><circle cx="97.73" cy="466.74" r="0.95"/><circle cx="99.30" cy="466.46" r="0.95"/><circle cx="100.78" cy="466.77" r="0.95"/><circle cx="102.19" cy="466.49" r="0.95"/><circle cx="103.55" cy="466.70" r="0.95"/><circle cx="105.10" cy="466.41" r="0.95"/><circle cx="106.40" cy="466.33" r="0.95"/><circle cx="108.17" cy="466.68" r="0.95"/><circle cx="109.69" cy="466.75" r="0.95"/><circle cx="110.99" cy="466.68" r="0.95"/><circle cx="93.61" cy="465.19" r="0.95"/><circle cx="95.10" cy="464.81" r="0.95"/><circle cx="96.56" cy="464.88" r="0.95"/><circle cx="97.72" cy="465.25" r="0.95"/><circle cx="99.06" cy="465.01" r="0.95"/><circle cx="100.67" cy="465.18" r="0.95"/><circle cx="102.26" cy="465.25" r="0.95"/><circle cx="103.87" cy="465.09" r="0.95"/><circle cx="104.88" cy="465.10" r="0.95"/><circle cx="106.35" cy="465.29" r="0.95"/><circle cx="108.19" cy="464.89" r="0.95"/><circle cx="109.29" cy="465.12" r="0.95"/><circle cx="111.03" cy="465.29" r="0.95"/><circle cx="93.56" cy="463.28" r="0.95"/><circle cx="95.06" cy="463.24" r="0.95"/><circle cx="96.58" cy="463.66" r="0.95"/><circle cx="97.99" cy="463.72" r="0.95"/><circle cx="99.33" cy="463.77" r="0.95"/><circle cx="100.82" cy="463.50" r="0.95"/><circle cx="102.14" cy="463.41" r="0.95"/><circle cx="103.41" cy="463.30" r="0.95"/><circle cx="105.25" cy="463.34" r="0.95"/><circle cx="106.63" cy="463.67" r="0.95"/><circle cx="108.10" cy="463.51" r="0.95"/><circle cx="109.36" cy="463.36" r="0.95"/><circle cx="110.74" cy="463.59" r="0.95"/><circle cx="93.59" cy="462.27" r="0.95"/><circle cx="94.87" cy="462.26" r="0.95"/><circle cx="96.61" cy="461.87" r="0.95"/><circle cx="98.08" cy="462.07" r="0.95"/><circle cx="99.53" cy="462.16" r="0.95"/><circle cx="100.67" cy="461.87" r="0.95"/><circle cx="102.21" cy="461.99" r="0.95"/><circle cx="103.42" cy="462.22" r="0.95"/><circle cx="105.12" cy="461.98" r="0.95"/><circle cx="106.67" cy="461.85" r="0.95"/><circle cx="107.85" cy="462.05" r="0.95"/><circle cx="109.32" cy="461.90" r="0.95"/><circle cx="110.68" cy="461.73" r="0.95"/><circle cx="99.23" cy="460.52" r="0.95"/><circle cx="100.97" cy="460.58" r="0.95"/><circle cx="102.16" cy="460.44" r="0.95"/><circle cx="103.52" cy="460.48" r="0.95"/><circle cx="105.33" cy="460.27" r="0.95"/><circle cx="102.17" cy="459.11" r="0.95"/></g>
<line x1="102.20" y1="466.02" x2="102.20" y2="479.30" stroke="#111" stroke-width="0.8"/>
<line x1="92.70" y1="472.66" x2="111.70" y2="472.66" stroke="#111" stroke-width="0.9"/>
<line x1="97.70" y1="466.02" x2="106.70" y2="466.02" stroke="#111" stroke-width="0.8"/>
<line x1="97.70" y1="479.30" x2="106.70" y2="479.30" stroke="#111" stroke-width="0.8"/>
<text x="123.00" y="440.20" font-size="10" font-weight="bold" stroke="#231f20" stroke-width="0.18">K</text>
<line x1="151.30" y1="446.48" x2="151.30" y2="503.10" stroke="#231f20" stroke-width="0.9"/>
<line x1="151.30" y1="503.10" x2="223.50" y2="503.10" stroke="#231f20" stroke-width="0.9"/>
<line x1="149.70" y1="446.98" x2="151.30" y2="446.98" stroke="#231f20" stroke-width="0.8"/>
<text x="148.70" y="449.38" font-size="6.8" text-anchor="end" stroke="#231f20" stroke-width="0.18">12</text>
<line x1="149.70" y1="463.42" x2="151.30" y2="463.42" stroke="#231f20" stroke-width="0.8"/>
<text x="148.70" y="465.82" font-size="6.8" text-anchor="end" stroke="#231f20" stroke-width="0.18">10</text>
<line x1="149.70" y1="479.86" x2="151.30" y2="479.86" stroke="#231f20" stroke-width="0.8"/>
<text x="148.70" y="482.26" font-size="6.8" text-anchor="end" stroke="#231f20" stroke-width="0.18">8</text>
<line x1="149.70" y1="496.30" x2="151.30" y2="496.30" stroke="#231f20" stroke-width="0.8"/>
<text x="148.70" y="498.70" font-size="6.8" text-anchor="end" stroke="#231f20" stroke-width="0.18">6</text>
<text x="128.40" y="473.00" font-size="6.6" text-anchor="middle" transform="rotate(-90 128.40 473.00)" stroke="#231f20" stroke-width="0.18"><tspan font-style="italic">BMAL1</tspan> mRNA</text>
<text x="136.90" y="473.00" font-size="6.6" text-anchor="middle" transform="rotate(-90 136.90 473.00)" stroke="#231f20" stroke-width="0.18">level (log<tspan font-size="4.6" dy="1.5">2</tspan><tspan dy="-1.5">)</tspan></text>
<line x1="160.60" y1="503.10" x2="160.60" y2="504.80" stroke="#231f20" stroke-width="0.8"/>
<text x="163.60" y="509.60" font-size="6.6" text-anchor="end" transform="rotate(-45 163.60 509.60)" stroke="#231f20" stroke-width="0.18">Oligodendroglioma</text>
<line x1="180.60" y1="503.10" x2="180.60" y2="504.80" stroke="#231f20" stroke-width="0.8"/>
<text x="183.60" y="509.60" font-size="6.6" text-anchor="end" transform="rotate(-45 183.60 509.60)" stroke="#231f20" stroke-width="0.18">OligoAstrocytoma</text>
<line x1="200.60" y1="503.10" x2="200.60" y2="504.80" stroke="#231f20" stroke-width="0.8"/>
<text x="203.60" y="509.60" font-size="6.6" text-anchor="end" transform="rotate(-45 203.60 509.60)" stroke="#231f20" stroke-width="0.18">Astrocytoma</text>
<line x1="220.40" y1="503.10" x2="220.40" y2="504.80" stroke="#231f20" stroke-width="0.8"/>
<text x="223.40" y="509.60" font-size="6.6" text-anchor="end" transform="rotate(-45 223.40 509.60)" stroke="#231f20" stroke-width="0.18">GBM</text>
<text x="190.30" y="548.60" font-size="6.6" text-anchor="middle" stroke="#231f20" stroke-width="0.18">Histology</text>
<path d="M160.6,451.7 L160.6,438 L220.4,438 L220.4,445.8" stroke="#444" stroke-width="0.7" fill="none"/>
<path d="M180.6,453.8 L180.6,445.8 L220.4,445.8 L220.4,452.8" stroke="#444" stroke-width="0.7" fill="none"/>
<path d="M200.6,457 L200.6,452.8 L220.4,452.8 L220.4,457" stroke="#444" stroke-width="0.7" fill="none"/>
<text x="171.80" y="432.90" font-size="5.9" textLength="36" lengthAdjust="spacingAndGlyphs" stroke="#231f20" stroke-width="0.1"><tspan font-size="4.43" dy="-1.2">***</tspan><tspan dy="1.2" font-style="italic">P</tspan> = 5.6e<tspan font-size="4.13" dy="-2">−31</tspan></text>
<text x="187.40" y="443.10" font-size="5.0" textLength="32" lengthAdjust="spacingAndGlyphs" stroke="#231f20" stroke-width="0.1"><tspan font-size="3.75" dy="-1.2">***</tspan><tspan dy="1.2" font-style="italic">P</tspan> = 1.7e<tspan font-size="3.50" dy="-2">−29</tspan></text>
<text x="187.40" y="450.50" font-size="5.0" textLength="32" lengthAdjust="spacingAndGlyphs" stroke="#231f20" stroke-width="0.1"><tspan font-size="3.75" dy="-1.2">***</tspan><tspan dy="1.2" font-style="italic">P</tspan> = 2.2e<tspan font-size="3.50" dy="-2">−25</tspan></text>
<g fill="#23397f"><circle cx="160.66" cy="493.66" r="0.9"/><circle cx="160.67" cy="492.13" r="0.9"/><circle cx="158.19" cy="485.80" r="0.9"/><circle cx="159.85" cy="486.09" r="0.9"/><circle cx="161.18" cy="486.11" r="0.9"/><circle cx="162.84" cy="485.73" r="0.9"/><circle cx="157.69" cy="484.34" r="0.9"/><circle cx="158.93" cy="484.28" r="0.9"/><circle cx="160.51" cy="484.31" r="0.9"/><circle cx="161.90" cy="484.22" r="0.9"/><circle cx="163.48" cy="484.43" r="0.9"/><circle cx="156.31" cy="483.05" r="0.9"/><circle cx="157.57" cy="483.24" r="0.9"/><circle cx="158.90" cy="482.94" r="0.9"/><circle cx="160.49" cy="482.95" r="0.9"/><circle cx="161.86" cy="483.20" r="0.9"/><circle cx="163.44" cy="482.72" r="0.9"/><circle cx="165.01" cy="482.76" r="0.9"/><circle cx="154.82" cy="481.40" r="0.9"/><circle cx="156.29" cy="481.77" r="0.9"/><circle cx="157.86" cy="481.45" r="0.9"/><circle cx="159.31" cy="481.59" r="0.9"/><circle cx="160.53" cy="481.29" r="0.9"/><circle cx="162.10" cy="481.54" r="0.9"/><circle cx="163.73" cy="481.78" r="0.9"/><circle cx="165.00" cy="481.41" r="0.9"/><circle cx="166.60" cy="481.20" r="0.9"/><circle cx="153.88" cy="480.04" r="0.9"/><circle cx="155.58" cy="479.78" r="0.9"/><circle cx="157.04" cy="480.23" r="0.9"/><circle cx="158.36" cy="479.96" r="0.9"/><circle cx="159.74" cy="479.87" r="0.9"/><circle cx="161.56" cy="479.93" r="0.9"/><circle cx="163.01" cy="480.25" r="0.9"/><circle cx="164.27" cy="479.86" r="0.9"/><circle cx="165.92" cy="480.00" r="0.9"/><circle cx="167.08" cy="479.89" r="0.9"/><circle cx="153.59" cy="478.50" r="0.9"/><circle cx="154.69" cy="478.49" r="0.9"/><circle cx="156.06" cy="478.57" r="0.9"/><circle cx="157.67" cy="478.38" r="0.9"/><circle cx="159.29" cy="478.70" r="0.9"/><circle cx="160.36" cy="478.52" r="0.9"/><circle cx="161.94" cy="478.76" r="0.9"/><circle cx="163.64" cy="478.35" r="0.9"/><circle cx="164.83" cy="478.29" r="0.9"/><circle cx="166.64" cy="478.38" r="0.9"/><circle cx="167.90" cy="478.48" r="0.9"/><circle cx="152.70" cy="477.06" r="0.9"/><circle cx="154.20" cy="476.77" r="0.9"/><circle cx="155.66" cy="476.88" r="0.9"/><circle cx="156.99" cy="476.90" r="0.9"/><circle cx="158.32" cy="477.02" r="0.9"/><circle cx="159.86" cy="476.92" r="0.9"/><circle cx="161.45" cy="477.05" r="0.9"/><circle cx="162.54" cy="476.85" r="0.9"/><circle cx="164.20" cy="477.25" r="0.9"/><circle cx="165.87" cy="477.03" r="0.9"/><circle cx="166.88" cy="477.17" r="0.9"/><circle cx="168.54" cy="477.05" r="0.9"/><circle cx="152.73" cy="475.58" r="0.9"/><circle cx="154.07" cy="475.75" r="0.9"/><circle cx="155.47" cy="475.44" r="0.9"/><circle cx="157.15" cy="475.32" r="0.9"/><circle cx="158.32" cy="475.70" r="0.9"/><circle cx="159.66" cy="475.70" r="0.9"/><circle cx="161.42" cy="475.46" r="0.9"/><circle cx="162.67" cy="475.67" r="0.9"/><circle cx="164.43" cy="475.29" r="0.9"/><circle cx="165.66" cy="475.53" r="0.9"/><circle cx="167.12" cy="475.40" r="0.9"/><circle cx="168.40" cy="475.55" r="0.9"/><circle cx="152.78" cy="473.74" r="0.9"/><circle cx="153.94" cy="474.19" r="0.9"/><circle cx="155.67" cy="474.10" r="0.9"/><circle cx="156.74" cy="474.13" r="0.9"/><circle cx="158.66" cy="474.30" r="0.9"/><circle cx="159.98" cy="473.73" r="0.9"/><circle cx="161.50" cy="473.83" r="0.9"/><circle cx="162.85" cy="474.27" r="0.9"/><circle cx="164.33" cy="473.78" r="0.9"/><circle cx="165.57" cy="474.25" r="0.9"/><circle cx="166.95" cy="474.07" r="0.9"/><circle cx="168.53" cy="473.80" r="0.9"/><circle cx="153.41" cy="472.23" r="0.9"/><circle cx="154.60" cy="472.43" r="0.9"/><circle cx="156.04" cy="472.23" r="0.9"/><circle cx="157.74" cy="472.65" r="0.9"/><circle cx="159.34" cy="472.28" r="0.9"/><circle cx="160.57" cy="472.39" r="0.9"/><circle cx="162.10" cy="472.49" r="0.9"/><circle cx="163.72" cy="472.42" r="0.9"/><circle cx="164.73" cy="472.62" r="0.9"/><circle cx="166.23" cy="472.58" r="0.9"/><circle cx="167.85" cy="472.75" r="0.9"/><circle cx="154.10" cy="471.07" r="0.9"/><circle cx="155.41" cy="471.03" r="0.9"/><circle cx="156.85" cy="471.15" r="0.9"/><circle cx="158.43" cy="470.78" r="0.9"/><circle cx="159.74" cy="470.92" r="0.9"/><circle cx="161.44" cy="470.81" r="0.9"/><circle cx="162.88" cy="471.09" r="0.9"/><circle cx="164.02" cy="471.10" r="0.9"/><circle cx="165.47" cy="470.77" r="0.9"/><circle cx="167.17" cy="470.84" r="0.9"/><circle cx="156.44" cy="469.49" r="0.9"/><circle cx="157.61" cy="469.68" r="0.9"/><circle cx="158.91" cy="469.64" r="0.9"/><circle cx="160.38" cy="469.29" r="0.9"/><circle cx="162.28" cy="469.61" r="0.9"/><circle cx="163.36" cy="469.27" r="0.9"/><circle cx="165.19" cy="469.60" r="0.9"/><circle cx="156.41" cy="467.78" r="0.9"/><circle cx="157.76" cy="467.91" r="0.9"/><circle cx="159.02" cy="467.90" r="0.9"/><circle cx="160.66" cy="467.91" r="0.9"/><circle cx="161.99" cy="467.78" r="0.9"/><circle cx="163.67" cy="468.09" r="0.9"/><circle cx="165.10" cy="467.96" r="0.9"/><circle cx="157.15" cy="466.51" r="0.9"/><circle cx="158.47" cy="466.54" r="0.9"/><circle cx="160.00" cy="466.44" r="0.9"/><circle cx="161.12" cy="466.22" r="0.9"/><circle cx="162.63" cy="466.22" r="0.9"/><circle cx="164.42" cy="466.49" r="0.9"/><circle cx="160.73" cy="455.70" r="0.9"/></g>
<line x1="160.60" y1="471.09" x2="160.60" y2="481.20" stroke="#111" stroke-width="0.8"/>
<line x1="155.10" y1="476.14" x2="166.10" y2="476.14" stroke="#111" stroke-width="0.9"/>
<line x1="157.60" y1="471.09" x2="163.60" y2="471.09" stroke="#111" stroke-width="0.8"/>
<line x1="157.60" y1="481.20" x2="163.60" y2="481.20" stroke="#111" stroke-width="0.8"/>
<g fill="#1f8445"><circle cx="180.51" cy="488.72" r="0.9"/><circle cx="179.06" cy="487.43" r="0.9"/><circle cx="180.59" cy="487.62" r="0.9"/><circle cx="182.00" cy="487.79" r="0.9"/><circle cx="179.31" cy="486.25" r="0.9"/><circle cx="180.70" cy="486.10" r="0.9"/><circle cx="182.07" cy="486.18" r="0.9"/><circle cx="176.91" cy="484.56" r="0.9"/><circle cx="178.51" cy="484.51" r="0.9"/><circle cx="179.77" cy="484.25" r="0.9"/><circle cx="181.12" cy="484.41" r="0.9"/><circle cx="182.82" cy="484.66" r="0.9"/><circle cx="184.33" cy="484.38" r="0.9"/><circle cx="176.46" cy="482.86" r="0.9"/><circle cx="177.81" cy="482.74" r="0.9"/><circle cx="179.28" cy="483.10" r="0.9"/><circle cx="180.83" cy="483.24" r="0.9"/><circle cx="182.14" cy="483.20" r="0.9"/><circle cx="183.62" cy="483.07" r="0.9"/><circle cx="184.80" cy="483.01" r="0.9"/><circle cx="175.00" cy="481.34" r="0.9"/><circle cx="176.49" cy="481.53" r="0.9"/><circle cx="177.65" cy="481.20" r="0.9"/><circle cx="179.10" cy="481.31" r="0.9"/><circle cx="180.68" cy="481.74" r="0.9"/><circle cx="182.26" cy="481.57" r="0.9"/><circle cx="183.44" cy="481.27" r="0.9"/><circle cx="185.04" cy="481.53" r="0.9"/><circle cx="186.51" cy="481.42" r="0.9"/><circle cx="174.27" cy="479.83" r="0.9"/><circle cx="175.43" cy="479.86" r="0.9"/><circle cx="177.04" cy="480.24" r="0.9"/><circle cx="178.26" cy="480.08" r="0.9"/><circle cx="180.01" cy="479.83" r="0.9"/><circle cx="181.11" cy="480.04" r="0.9"/><circle cx="182.94" cy="480.23" r="0.9"/><circle cx="184.34" cy="479.95" r="0.9"/><circle cx="185.64" cy="480.02" r="0.9"/><circle cx="187.33" cy="479.88" r="0.9"/><circle cx="173.24" cy="478.56" r="0.9"/><circle cx="175.03" cy="478.31" r="0.9"/><circle cx="176.02" cy="478.27" r="0.9"/><circle cx="177.73" cy="478.56" r="0.9"/><circle cx="178.99" cy="478.31" r="0.9"/><circle cx="180.65" cy="478.59" r="0.9"/><circle cx="182.15" cy="478.64" r="0.9"/><circle cx="183.28" cy="478.49" r="0.9"/><circle cx="185.12" cy="478.77" r="0.9"/><circle cx="186.31" cy="478.71" r="0.9"/><circle cx="187.92" cy="478.76" r="0.9"/><circle cx="172.49" cy="477.12" r="0.9"/><circle cx="174.25" cy="476.99" r="0.9"/><circle cx="175.33" cy="476.82" r="0.9"/><circle cx="176.80" cy="476.76" r="0.9"/><circle cx="178.25" cy="477.07" r="0.9"/><circle cx="179.68" cy="477.15" r="0.9"/><circle cx="181.44" cy="477.19" r="0.9"/><circle cx="182.93" cy="477.13" r="0.9"/><circle cx="184.44" cy="477.27" r="0.9"/><circle cx="185.74" cy="477.28" r="0.9"/><circle cx="186.93" cy="476.76" r="0.9"/><circle cx="188.36" cy="476.82" r="0.9"/><circle cx="172.56" cy="475.48" r="0.9"/><circle cx="174.17" cy="475.65" r="0.9"/><circle cx="175.32" cy="475.44" r="0.9"/><circle cx="177.00" cy="475.43" r="0.9"/><circle cx="178.23" cy="475.56" r="0.9"/><circle cx="179.81" cy="475.61" r="0.9"/><circle cx="181.32" cy="475.78" r="0.9"/><circle cx="183.00" cy="475.24" r="0.9"/><circle cx="184.35" cy="475.63" r="0.9"/><circle cx="185.57" cy="475.27" r="0.9"/><circle cx="187.11" cy="475.41" r="0.9"/><circle cx="188.69" cy="475.75" r="0.9"/><circle cx="172.57" cy="473.87" r="0.9"/><circle cx="174.07" cy="474.12" r="0.9"/><circle cx="175.67" cy="474.05" r="0.9"/><circle cx="176.87" cy="473.90" r="0.9"/><circle cx="178.60" cy="474.01" r="0.9"/><circle cx="179.65" cy="473.95" r="0.9"/><circle cx="181.19" cy="474.10" r="0.9"/><circle cx="182.56" cy="473.86" r="0.9"/><circle cx="184.02" cy="473.99" r="0.9"/><circle cx="185.92" cy="474.02" r="0.9"/><circle cx="187.07" cy="474.26" r="0.9"/><circle cx="188.37" cy="473.91" r="0.9"/><circle cx="173.51" cy="472.20" r="0.9"/><circle cx="174.93" cy="472.42" r="0.9"/><circle cx="176.01" cy="472.35" r="0.9"/><circle cx="177.68" cy="472.43" r="0.9"/><circle cx="179.16" cy="472.23" r="0.9"/><circle cx="180.46" cy="472.78" r="0.9"/><circle cx="182.02" cy="472.48" r="0.9"/><circle cx="183.29" cy="472.37" r="0.9"/><circle cx="185.18" cy="472.61" r="0.9"/><circle cx="186.40" cy="472.23" r="0.9"/><circle cx="187.80" cy="472.67" r="0.9"/><circle cx="174.77" cy="471.06" r="0.9"/><circle cx="176.45" cy="471.09" r="0.9"/><circle cx="177.77" cy="470.72" r="0.9"/><circle cx="178.91" cy="471.16" r="0.9"/><circle cx="180.56" cy="471.22" r="0.9"/><circle cx="182.21" cy="471.25" r="0.9"/><circle cx="183.44" cy="471.30" r="0.9"/><circle cx="185.08" cy="471.24" r="0.9"/><circle cx="186.22" cy="471.17" r="0.9"/><circle cx="177.66" cy="469.78" r="0.9"/><circle cx="179.40" cy="469.33" r="0.9"/><circle cx="180.56" cy="469.36" r="0.9"/><circle cx="182.03" cy="469.37" r="0.9"/><circle cx="183.58" cy="469.27" r="0.9"/><circle cx="176.08" cy="467.97" r="0.9"/><circle cx="177.49" cy="467.93" r="0.9"/><circle cx="179.35" cy="468.23" r="0.9"/><circle cx="180.45" cy="467.71" r="0.9"/><circle cx="182.21" cy="468.28" r="0.9"/><circle cx="183.55" cy="467.78" r="0.9"/><circle cx="184.82" cy="468.25" r="0.9"/><circle cx="180.09" cy="466.22" r="0.9"/><circle cx="181.17" cy="466.46" r="0.9"/><circle cx="180.48" cy="465.15" r="0.9"/><circle cx="179.81" cy="462.17" r="0.9"/><circle cx="181.15" cy="462.01" r="0.9"/><circle cx="180.84" cy="459.12" r="0.9"/></g>
<line x1="180.60" y1="471.61" x2="180.60" y2="481.41" stroke="#111" stroke-width="0.8"/>
<line x1="175.10" y1="476.51" x2="186.10" y2="476.51" stroke="#111" stroke-width="0.9"/>
<line x1="177.60" y1="471.61" x2="183.60" y2="471.61" stroke="#111" stroke-width="0.8"/>
<line x1="177.60" y1="481.41" x2="183.60" y2="481.41" stroke="#111" stroke-width="0.8"/>
<g fill="#5e2884"><circle cx="200.42" cy="488.73" r="0.9"/><circle cx="199.37" cy="487.48" r="0.9"/><circle cx="200.57" cy="487.75" r="0.9"/><circle cx="202.09" cy="487.50" r="0.9"/><circle cx="198.32" cy="486.15" r="0.9"/><circle cx="199.75" cy="485.98" r="0.9"/><circle cx="201.45" cy="486.06" r="0.9"/><circle cx="202.59" cy="485.82" r="0.9"/><circle cx="199.97" cy="484.64" r="0.9"/><circle cx="201.13" cy="484.80" r="0.9"/><circle cx="196.07" cy="482.80" r="0.9"/><circle cx="197.49" cy="482.97" r="0.9"/><circle cx="199.21" cy="483.21" r="0.9"/><circle cx="200.43" cy="483.12" r="0.9"/><circle cx="201.85" cy="483.05" r="0.9"/><circle cx="203.38" cy="482.91" r="0.9"/><circle cx="204.73" cy="483.13" r="0.9"/><circle cx="195.34" cy="481.66" r="0.9"/><circle cx="196.89" cy="481.56" r="0.9"/><circle cx="198.49" cy="481.49" r="0.9"/><circle cx="200.06" cy="481.75" r="0.9"/><circle cx="201.22" cy="481.40" r="0.9"/><circle cx="202.96" cy="481.28" r="0.9"/><circle cx="204.19" cy="481.45" r="0.9"/><circle cx="205.91" cy="481.28" r="0.9"/><circle cx="194.15" cy="480.15" r="0.9"/><circle cx="195.64" cy="479.70" r="0.9"/><circle cx="197.20" cy="479.89" r="0.9"/><circle cx="198.60" cy="480.10" r="0.9"/><circle cx="199.84" cy="480.20" r="0.9"/><circle cx="201.41" cy="479.90" r="0.9"/><circle cx="202.89" cy="480.00" r="0.9"/><circle cx="204.33" cy="480.07" r="0.9"/><circle cx="205.82" cy="479.80" r="0.9"/><circle cx="207.12" cy="479.70" r="0.9"/><circle cx="193.50" cy="478.66" r="0.9"/><circle cx="194.97" cy="478.23" r="0.9"/><circle cx="196.27" cy="478.49" r="0.9"/><circle cx="197.51" cy="478.32" r="0.9"/><circle cx="199.39" cy="478.71" r="0.9"/><circle cx="200.47" cy="478.70" r="0.9"/><circle cx="202.13" cy="478.43" r="0.9"/><circle cx="203.57" cy="478.34" r="0.9"/><circle cx="204.84" cy="478.21" r="0.9"/><circle cx="206.48" cy="478.55" r="0.9"/><circle cx="207.97" cy="478.50" r="0.9"/><circle cx="193.32" cy="476.88" r="0.9"/><circle cx="194.92" cy="476.92" r="0.9"/><circle cx="196.30" cy="477.15" r="0.9"/><circle cx="197.67" cy="477.11" r="0.9"/><circle cx="198.93" cy="476.86" r="0.9"/><circle cx="200.77" cy="476.79" r="0.9"/><circle cx="201.83" cy="476.71" r="0.9"/><circle cx="203.63" cy="476.76" r="0.9"/><circle cx="204.93" cy="476.96" r="0.9"/><circle cx="206.55" cy="476.99" r="0.9"/><circle cx="207.86" cy="476.71" r="0.9"/><circle cx="193.50" cy="475.66" r="0.9"/><circle cx="194.86" cy="475.70" r="0.9"/><circle cx="196.31" cy="475.63" r="0.9"/><circle cx="197.88" cy="475.57" r="0.9"/><circle cx="198.91" cy="475.73" r="0.9"/><circle cx="200.84" cy="475.32" r="0.9"/><circle cx="201.83" cy="475.40" r="0.9"/><circle cx="203.30" cy="475.42" r="0.9"/><circle cx="204.74" cy="475.33" r="0.9"/><circle cx="206.15" cy="475.46" r="0.9"/><circle cx="207.75" cy="475.64" r="0.9"/><circle cx="193.29" cy="473.80" r="0.9"/><circle cx="195.03" cy="474.24" r="0.9"/><circle cx="196.34" cy="473.83" r="0.9"/><circle cx="197.65" cy="473.97" r="0.9"/><circle cx="199.10" cy="473.72" r="0.9"/><circle cx="200.58" cy="474.16" r="0.9"/><circle cx="202.15" cy="474.22" r="0.9"/><circle cx="203.59" cy="474.16" r="0.9"/><circle cx="205.14" cy="474.25" r="0.9"/><circle cx="206.55" cy="473.95" r="0.9"/><circle cx="207.93" cy="474.09" r="0.9"/><circle cx="194.27" cy="472.63" r="0.9"/><circle cx="195.50" cy="472.31" r="0.9"/><circle cx="196.89" cy="472.35" r="0.9"/><circle cx="198.52" cy="472.66" r="0.9"/><circle cx="199.72" cy="472.52" r="0.9"/><circle cx="201.50" cy="472.42" r="0.9"/><circle cx="202.57" cy="472.56" r="0.9"/><circle cx="204.16" cy="472.29" r="0.9"/><circle cx="205.57" cy="472.20" r="0.9"/><circle cx="206.95" cy="472.46" r="0.9"/><circle cx="195.33" cy="470.70" r="0.9"/><circle cx="197.00" cy="471.27" r="0.9"/><circle cx="198.59" cy="470.90" r="0.9"/><circle cx="200.09" cy="470.75" r="0.9"/><circle cx="201.15" cy="470.70" r="0.9"/><circle cx="202.55" cy="471.06" r="0.9"/><circle cx="204.35" cy="470.99" r="0.9"/><circle cx="205.83" cy="470.97" r="0.9"/><circle cx="197.18" cy="469.56" r="0.9"/><circle cx="198.44" cy="469.30" r="0.9"/><circle cx="199.84" cy="469.46" r="0.9"/><circle cx="201.49" cy="469.34" r="0.9"/><circle cx="202.67" cy="469.69" r="0.9"/><circle cx="204.01" cy="469.52" r="0.9"/><circle cx="199.01" cy="468.10" r="0.9"/><circle cx="200.65" cy="467.76" r="0.9"/><circle cx="202.17" cy="467.94" r="0.9"/><circle cx="199.79" cy="465.21" r="0.9"/><circle cx="201.46" cy="464.89" r="0.9"/><circle cx="200.69" cy="463.27" r="0.9"/><circle cx="200.61" cy="461.75" r="0.9"/></g>
<line x1="200.60" y1="472.23" x2="200.60" y2="481.34" stroke="#111" stroke-width="0.8"/>
<line x1="195.10" y1="476.78" x2="206.10" y2="476.78" stroke="#111" stroke-width="0.9"/>
<line x1="197.60" y1="472.23" x2="203.60" y2="472.23" stroke="#111" stroke-width="0.8"/>
<line x1="197.60" y1="481.34" x2="203.60" y2="481.34" stroke="#111" stroke-width="0.8"/>
<g fill="#e5332e"><circle cx="220.23" cy="493.44" r="0.9"/><circle cx="220.60" cy="491.75" r="0.9"/><circle cx="219.60" cy="480.12" r="0.9"/><circle cx="221.19" cy="479.71" r="0.9"/><circle cx="218.09" cy="478.37" r="0.9"/><circle cx="219.87" cy="478.47" r="0.9"/><circle cx="221.00" cy="478.49" r="0.9"/><circle cx="222.57" cy="478.29" r="0.9"/><circle cx="213.96" cy="477.13" r="0.9"/><circle cx="215.31" cy="477.02" r="0.9"/><circle cx="216.91" cy="477.27" r="0.9"/><circle cx="218.28" cy="476.73" r="0.9"/><circle cx="219.68" cy="477.10" r="0.9"/><circle cx="221.04" cy="477.11" r="0.9"/><circle cx="222.51" cy="477.07" r="0.9"/><circle cx="224.08" cy="477.10" r="0.9"/><circle cx="225.69" cy="477.12" r="0.9"/><circle cx="227.03" cy="477.12" r="0.9"/><circle cx="212.29" cy="475.57" r="0.9"/><circle cx="213.94" cy="475.24" r="0.9"/><circle cx="215.45" cy="475.34" r="0.9"/><circle cx="216.77" cy="475.51" r="0.9"/><circle cx="218.34" cy="475.66" r="0.9"/><circle cx="219.66" cy="475.76" r="0.9"/><circle cx="221.10" cy="475.54" r="0.9"/><circle cx="222.82" cy="475.39" r="0.9"/><circle cx="224.13" cy="475.77" r="0.9"/><circle cx="225.27" cy="475.67" r="0.9"/><circle cx="227.00" cy="475.52" r="0.9"/><circle cx="228.52" cy="475.72" r="0.9"/><circle cx="212.97" cy="473.99" r="0.9"/><circle cx="214.66" cy="474.12" r="0.9"/><circle cx="216.28" cy="474.18" r="0.9"/><circle cx="217.66" cy="473.74" r="0.9"/><circle cx="218.91" cy="474.25" r="0.9"/><circle cx="220.62" cy="474.15" r="0.9"/><circle cx="221.77" cy="474.16" r="0.9"/><circle cx="223.32" cy="474.10" r="0.9"/><circle cx="224.82" cy="474.22" r="0.9"/><circle cx="226.31" cy="474.28" r="0.9"/><circle cx="227.65" cy="474.00" r="0.9"/><circle cx="212.50" cy="472.54" r="0.9"/><circle cx="213.65" cy="472.78" r="0.9"/><circle cx="215.23" cy="472.50" r="0.9"/><circle cx="216.55" cy="472.31" r="0.9"/><circle cx="218.44" cy="472.37" r="0.9"/><circle cx="219.57" cy="472.69" r="0.9"/><circle cx="221.00" cy="472.60" r="0.9"/><circle cx="222.61" cy="472.74" r="0.9"/><circle cx="224.01" cy="472.40" r="0.9"/><circle cx="225.35" cy="472.42" r="0.9"/><circle cx="226.68" cy="472.27" r="0.9"/><circle cx="228.20" cy="472.39" r="0.9"/><circle cx="212.56" cy="471.27" r="0.9"/><circle cx="213.80" cy="470.85" r="0.9"/><circle cx="215.22" cy="471.08" r="0.9"/><circle cx="216.76" cy="470.77" r="0.9"/><circle cx="218.24" cy="470.86" r="0.9"/><circle cx="219.50" cy="471.17" r="0.9"/><circle cx="220.93" cy="470.96" r="0.9"/><circle cx="222.71" cy="471.03" r="0.9"/><circle cx="224.21" cy="470.89" r="0.9"/><circle cx="225.70" cy="470.73" r="0.9"/><circle cx="227.12" cy="470.95" r="0.9"/><circle cx="228.13" cy="470.86" r="0.9"/><circle cx="212.67" cy="469.63" r="0.9"/><circle cx="213.99" cy="469.69" r="0.9"/><circle cx="215.08" cy="469.38" r="0.9"/><circle cx="216.76" cy="469.75" r="0.9"/><circle cx="218.43" cy="469.29" r="0.9"/><circle cx="219.92" cy="469.53" r="0.9"/><circle cx="221.03" cy="469.25" r="0.9"/><circle cx="222.54" cy="469.51" r="0.9"/><circle cx="224.00" cy="469.39" r="0.9"/><circle cx="225.70" cy="469.49" r="0.9"/><circle cx="226.83" cy="469.67" r="0.9"/><circle cx="228.25" cy="469.45" r="0.9"/><circle cx="212.23" cy="467.84" r="0.9"/><circle cx="214.12" cy="468.07" r="0.9"/><circle cx="215.34" cy="468.10" r="0.9"/><circle cx="216.86" cy="468.01" r="0.9"/><circle cx="218.16" cy="467.79" r="0.9"/><circle cx="219.44" cy="467.77" r="0.9"/><circle cx="221.08" cy="467.71" r="0.9"/><circle cx="222.66" cy="467.90" r="0.9"/><circle cx="223.89" cy="467.89" r="0.9"/><circle cx="225.47" cy="467.83" r="0.9"/><circle cx="227.10" cy="467.99" r="0.9"/><circle cx="228.16" cy="467.75" r="0.9"/><circle cx="212.62" cy="466.55" r="0.9"/><circle cx="213.77" cy="466.63" r="0.9"/><circle cx="215.10" cy="466.73" r="0.9"/><circle cx="216.99" cy="466.60" r="0.9"/><circle cx="218.00" cy="466.46" r="0.9"/><circle cx="219.84" cy="466.56" r="0.9"/><circle cx="220.98" cy="466.34" r="0.9"/><circle cx="222.36" cy="466.51" r="0.9"/><circle cx="223.87" cy="466.47" r="0.9"/><circle cx="225.67" cy="466.74" r="0.9"/><circle cx="226.92" cy="466.67" r="0.9"/><circle cx="228.19" cy="466.77" r="0.9"/><circle cx="212.61" cy="464.99" r="0.9"/><circle cx="214.07" cy="464.88" r="0.9"/><circle cx="215.57" cy="464.89" r="0.9"/><circle cx="216.99" cy="465.20" r="0.9"/><circle cx="218.44" cy="465.14" r="0.9"/><circle cx="219.46" cy="464.87" r="0.9"/><circle cx="221.20" cy="465.25" r="0.9"/><circle cx="222.67" cy="464.72" r="0.9"/><circle cx="223.95" cy="464.91" r="0.9"/><circle cx="225.31" cy="464.84" r="0.9"/><circle cx="226.93" cy="464.92" r="0.9"/><circle cx="228.26" cy="464.95" r="0.9"/><circle cx="212.65" cy="463.56" r="0.9"/><circle cx="214.00" cy="463.76" r="0.9"/><circle cx="215.09" cy="463.73" r="0.9"/><circle cx="216.57" cy="463.32" r="0.9"/><circle cx="218.34" cy="463.65" r="0.9"/><circle cx="219.73" cy="463.49" r="0.9"/><circle cx="221.24" cy="463.46" r="0.9"/><circle cx="222.42" cy="463.33" r="0.9"/><circle cx="223.83" cy="463.22" r="0.9"/><circle cx="225.70" cy="463.77" r="0.9"/><circle cx="226.85" cy="463.45" r="0.9"/><circle cx="228.26" cy="463.67" r="0.9"/><circle cx="212.42" cy="461.80" r="0.9"/><circle cx="214.07" cy="462.26" r="0.9"/><circle cx="215.10" cy="461.98" r="0.9"/><circle cx="216.64" cy="462.08" r="0.9"/><circle cx="218.15" cy="461.88" r="0.9"/><circle cx="219.58" cy="462.06" r="0.9"/><circle cx="221.13" cy="461.99" r="0.9"/><circle cx="222.67" cy="461.98" r="0.9"/><circle cx="224.25" cy="461.96" r="0.9"/><circle cx="225.62" cy="462.26" r="0.9"/><circle cx="226.99" cy="462.05" r="0.9"/><circle cx="228.52" cy="462.13" r="0.9"/><circle cx="216.62" cy="460.45" r="0.9"/><circle cx="218.05" cy="460.21" r="0.9"/><circle cx="219.77" cy="460.40" r="0.9"/><circle cx="221.00" cy="460.22" r="0.9"/><circle cx="222.34" cy="460.60" r="0.9"/><circle cx="223.95" cy="460.46" r="0.9"/><circle cx="219.76" cy="459.24" r="0.9"/><circle cx="221.23" cy="458.83" r="0.9"/><circle cx="219.19" cy="457.31" r="0.9"/><circle cx="220.44" cy="457.59" r="0.9"/><circle cx="221.74" cy="457.73" r="0.9"/></g>
<line x1="220.40" y1="463.28" x2="220.40" y2="474.01" stroke="#111" stroke-width="0.8"/>
<line x1="214.90" y1="468.64" x2="225.90" y2="468.64" stroke="#111" stroke-width="0.9"/>
<line x1="217.40" y1="463.28" x2="223.40" y2="463.28" stroke="#111" stroke-width="0.8"/>
<line x1="217.40" y1="474.01" x2="223.40" y2="474.01" stroke="#111" stroke-width="0.8"/>
<text x="236.80" y="440.30" font-size="10" font-weight="bold" stroke="#231f20" stroke-width="0.18">L</text>
<line x1="269.90" y1="438.80" x2="269.90" y2="509.40" stroke="#2a2a2a" stroke-width="0.9"/>
<line x1="269.90" y1="509.40" x2="343.70" y2="509.40" stroke="#2a2a2a" stroke-width="0.9"/>
<line x1="268.30" y1="440.50" x2="269.90" y2="440.50" stroke="#2a2a2a" stroke-width="0.8"/>
<text x="267.30" y="442.80" font-size="6.7" text-anchor="end" fill="#333" stroke="#333" stroke-width="0.18">100%</text>
<line x1="268.30" y1="456.90" x2="269.90" y2="456.90" stroke="#2a2a2a" stroke-width="0.8"/>
<text x="267.30" y="459.20" font-size="6.7" text-anchor="end" fill="#333" stroke="#333" stroke-width="0.18">75%</text>
<line x1="268.30" y1="473.30" x2="269.90" y2="473.30" stroke="#2a2a2a" stroke-width="0.8"/>
<text x="267.30" y="475.60" font-size="6.7" text-anchor="end" fill="#333" stroke="#333" stroke-width="0.18">50%</text>
<line x1="268.30" y1="489.70" x2="269.90" y2="489.70" stroke="#2a2a2a" stroke-width="0.8"/>
<text x="267.30" y="492.00" font-size="6.7" text-anchor="end" fill="#333" stroke="#333" stroke-width="0.18">25%</text>
<line x1="268.30" y1="506.10" x2="269.90" y2="506.10" stroke="#2a2a2a" stroke-width="0.8"/>
<text x="267.30" y="508.40" font-size="6.7" text-anchor="end" fill="#333" stroke="#333" stroke-width="0.18">0%</text>
<line x1="272.80" y1="509.40" x2="272.80" y2="511.00" stroke="#2a2a2a" stroke-width="0.8"/>
<text x="272.80" y="518.80" font-size="6.6" text-anchor="middle" fill="#333" stroke="#333" stroke-width="0.18">0</text>
<line x1="288.85" y1="509.40" x2="288.85" y2="511.00" stroke="#2a2a2a" stroke-width="0.8"/>
<text x="288.85" y="518.80" font-size="6.6" text-anchor="middle" fill="#333" stroke="#333" stroke-width="0.18">50</text>
<line x1="304.90" y1="509.40" x2="304.90" y2="511.00" stroke="#2a2a2a" stroke-width="0.8"/>
<text x="304.90" y="518.80" font-size="6.6" text-anchor="middle" fill="#333" stroke="#333" stroke-width="0.18">100</text>
<line x1="320.95" y1="509.40" x2="320.95" y2="511.00" stroke="#2a2a2a" stroke-width="0.8"/>
<text x="320.95" y="518.80" font-size="6.6" text-anchor="middle" fill="#333" stroke="#333" stroke-width="0.18">150</text>
<line x1="337.00" y1="509.40" x2="337.00" y2="511.00" stroke="#2a2a2a" stroke-width="0.8"/>
<text x="337.00" y="518.80" font-size="6.6" text-anchor="middle" fill="#333" stroke="#333" stroke-width="0.18">200</text>
<text x="246.90" y="473.30" font-size="6.6" text-anchor="middle" fill="#333" transform="rotate(-90 246.90 473.30)" stroke="#333" stroke-width="0.18">Surviving</text>
<text x="291.00" y="444.20" font-size="6.0" fill="#333" textLength="47.7" lengthAdjust="spacingAndGlyphs" stroke="#333" stroke-width="0.1"><tspan font-size="4.8" dy="-1">***</tspan><tspan dy="1"> </tspan>Log-rank <tspan font-style="italic">P</tspan> = 0</text>
<text x="291.00" y="452.70" font-size="6.0" fill="#333" textLength="47.7" lengthAdjust="spacingAndGlyphs" stroke="#333" stroke-width="0.1"><tspan font-size="4.8" dy="-1">***</tspan><tspan dy="1"> </tspan>Wilcoxon <tspan font-style="italic">P</tspan> = 0</text>
<path d="M273.10,440.50 L278.40,440.50 L278.40,441.20 L279.45,441.20 L279.45,442.75 L280.50,442.75 L280.50,444.30 L282.10,444.30 L282.10,445.90 L283.70,445.90 L283.70,447.50 L286.80,447.50 L286.80,449.60 L288.90,449.60 L288.90,451.70 L289.27,451.70 L289.27,453.83 L289.63,453.83 L289.63,455.97 L290.00,455.97 L290.00,458.10 L298.50,458.10 L298.50,458.10 L298.50,458.10 L298.50,459.10 L302.70,459.10 L302.70,461.30 L303.23,461.30 L303.23,463.68 L303.75,463.68 L303.75,466.05 L304.27,466.05 L304.27,468.43 L304.80,468.43 L304.80,470.80 L310.10,470.80 L310.10,470.80 L310.28,470.80 L310.28,473.08 L310.47,473.08 L310.47,475.37 L310.65,475.37 L310.65,477.65 L310.83,477.65 L310.83,479.93 L311.02,479.93 L311.02,482.22 L311.20,482.22 L311.20,484.50 L341.80,484.50 L341.80,484.50" stroke="#4b4f82" stroke-width="1.05" fill="none"/>
<path d="M273.10,440.50 L273.52,440.50 L273.52,442.74 L273.94,442.74 L273.94,444.98 L274.36,444.98 L274.36,447.22 L274.78,447.22 L274.78,449.46 L275.20,449.46 L275.20,451.70 L275.42,451.70 L275.42,453.82 L275.64,453.82 L275.64,455.94 L275.86,455.94 L275.86,458.06 L276.08,458.06 L276.08,460.18 L276.30,460.18 L276.30,462.30 L276.50,462.30 L276.50,464.42 L276.70,464.42 L276.70,466.54 L276.90,466.54 L276.90,468.66 L277.10,468.66 L277.10,470.78 L277.30,470.78 L277.30,472.90 L277.82,472.90 L277.82,475.00 L278.35,475.00 L278.35,477.10 L278.88,477.10 L278.88,479.20 L279.40,479.20 L279.40,481.30 L280.10,481.30 L280.10,483.43 L280.80,483.43 L280.80,485.57 L281.50,485.57 L281.50,487.70 L282.93,487.70 L282.93,489.47 L284.37,489.47 L284.37,491.23 L285.80,491.23 L285.80,493.00 L287.90,493.00 L287.90,495.10 L290.00,495.10 L290.00,497.20 L292.10,497.20 L292.10,498.80 L294.20,498.80 L294.20,500.40 L302.70,500.40 L302.70,502.50 L315.40,502.50 L315.40,504.20 L320.70,504.20 L320.70,505.30" stroke="#c8566a" stroke-width="1.05" fill="none"/>
<text x="250.20" y="527.40" font-size="6.7" fill="#333" textLength="115" lengthAdjust="spacingAndGlyphs" stroke="#333" stroke-width="0.18">TCGA-LGG GBM survival time (months)</text>
<line x1="250.20" y1="532.80" x2="252.60" y2="532.80" stroke="#c8566a" stroke-width="0.8"/>
<text x="253.50" y="535.00" font-size="5.5" fill="#444" textLength="122.5" lengthAdjust="spacingAndGlyphs" stroke="#444" stroke-width="0.1"><tspan font-style="italic">BMAL1</tspan> high (<tspan font-style="italic">n</tspan> = 165, events = 116, media = 15.8)</text>
<line x1="250.20" y1="538.70" x2="252.60" y2="538.70" stroke="#4b4f82" stroke-width="0.8"/>
<text x="253.50" y="540.90" font-size="5.5" fill="#444" textLength="122.5" lengthAdjust="spacingAndGlyphs" stroke="#444" stroke-width="0.1"><tspan font-style="italic">BMAL1</tspan> low (<tspan font-style="italic">n</tspan> = 163, events = 24, media = 114.1)</text>
<text x="366.60" y="440.40" font-size="10" font-weight="bold" stroke="#231f20" stroke-width="0.18">M</text>
<line x1="399.80" y1="438.80" x2="399.80" y2="509.40" stroke="#2a2a2a" stroke-width="0.9"/>
<line x1="399.80" y1="509.40" x2="468.80" y2="509.40" stroke="#2a2a2a" stroke-width="0.9"/>
<line x1="398.20" y1="440.90" x2="399.80" y2="440.90" stroke="#2a2a2a" stroke-width="0.8"/>
<text x="397.40" y="443.20" font-size="6.7" text-anchor="end" fill="#333" stroke="#333" stroke-width="0.18">100%</text>
<line x1="398.20" y1="457.17" x2="399.80" y2="457.17" stroke="#2a2a2a" stroke-width="0.8"/>
<text x="397.40" y="459.47" font-size="6.7" text-anchor="end" fill="#333" stroke="#333" stroke-width="0.18">75%</text>
<line x1="398.20" y1="473.45" x2="399.80" y2="473.45" stroke="#2a2a2a" stroke-width="0.8"/>
<text x="397.40" y="475.75" font-size="6.7" text-anchor="end" fill="#333" stroke="#333" stroke-width="0.18">50%</text>
<line x1="398.20" y1="489.73" x2="399.80" y2="489.73" stroke="#2a2a2a" stroke-width="0.8"/>
<text x="397.40" y="492.03" font-size="6.7" text-anchor="end" fill="#333" stroke="#333" stroke-width="0.18">25%</text>
<line x1="398.20" y1="506.00" x2="399.80" y2="506.00" stroke="#2a2a2a" stroke-width="0.8"/>
<text x="397.40" y="508.30" font-size="6.7" text-anchor="end" fill="#333" stroke="#333" stroke-width="0.18">0%</text>
<line x1="402.90" y1="509.40" x2="402.90" y2="511.00" stroke="#2a2a2a" stroke-width="0.8"/>
<text x="402.90" y="518.80" font-size="6.6" text-anchor="middle" fill="#333" stroke="#333" stroke-width="0.18">0</text>
<line x1="429.55" y1="509.40" x2="429.55" y2="511.00" stroke="#2a2a2a" stroke-width="0.8"/>
<text x="429.55" y="518.80" font-size="6.6" text-anchor="middle" fill="#333" stroke="#333" stroke-width="0.18">50</text>
<line x1="456.20" y1="509.40" x2="456.20" y2="511.00" stroke="#2a2a2a" stroke-width="0.8"/>
<text x="456.20" y="518.80" font-size="6.6" text-anchor="middle" fill="#333" stroke="#333" stroke-width="0.18">100</text>
<text x="379.60" y="473.45" font-size="6.6" text-anchor="middle" fill="#333" transform="rotate(-90 379.60 473.45)" stroke="#333" stroke-width="0.18">Surviving</text>
<text x="412.80" y="444.20" font-size="6.0" fill="#333" textLength="60.3" lengthAdjust="spacingAndGlyphs" stroke="#333" stroke-width="0.1"><tspan font-size="4.8" dy="-1">**</tspan><tspan dy="1"> </tspan>Log-rank <tspan font-style="italic">P</tspan> = 0.0042</text>
<text x="414.90" y="453.70" font-size="6.0" fill="#333" textLength="58.2" lengthAdjust="spacingAndGlyphs" stroke="#333" stroke-width="0.1"><tspan font-size="4.8" dy="-1">*</tspan><tspan dy="1"> </tspan>Wilcoxon <tspan font-style="italic">P</tspan> = 0.0185</text>
<path d="M402.20,440.50 L402.84,440.50 L402.84,442.74 L403.48,442.74 L403.48,444.98 L404.12,444.98 L404.12,447.22 L404.76,447.22 L404.76,449.46 L405.40,449.46 L405.40,451.70 L406.04,451.70 L406.04,453.82 L406.68,453.82 L406.68,455.94 L407.32,455.94 L407.32,458.06 L407.96,458.06 L407.96,460.18 L408.60,460.18 L408.60,462.30 L409.02,462.30 L409.02,464.42 L409.44,464.42 L409.44,466.54 L409.86,466.54 L409.86,468.66 L410.28,468.66 L410.28,470.78 L410.70,470.78 L410.70,472.90 L411.23,472.90 L411.23,475.00 L411.75,475.00 L411.75,477.10 L412.27,477.10 L412.27,479.20 L412.80,479.20 L412.80,481.30 L413.60,481.30 L413.60,483.18 L414.40,483.18 L414.40,485.05 L415.20,485.05 L415.20,486.93 L416.00,486.93 L416.00,488.80 L417.40,488.80 L417.40,490.53 L418.80,490.53 L418.80,492.27 L420.20,492.27 L420.20,494.00 L422.30,494.00 L422.30,495.60 L424.40,495.60 L424.40,497.20 L427.60,497.20 L427.60,498.60 L430.80,498.60 L430.80,500.00 L435.00,500.00 L435.00,501.25 L439.20,501.25 L439.20,502.50 L447.70,502.50 L447.70,504.20 L455.10,504.20 L455.10,505.30" stroke="#4b4f82" stroke-width="1.05" fill="none"/>
<path d="M402.20,440.50 L402.90,440.50 L402.90,442.77 L403.60,442.77 L403.60,445.05 L404.30,445.05 L404.30,447.33 L405.00,447.33 L405.00,449.60 L405.50,449.60 L405.50,451.72 L406.00,451.72 L406.00,453.84 L406.50,453.84 L406.50,455.96 L407.00,455.96 L407.00,458.08 L407.50,458.08 L407.50,460.20 L407.85,460.20 L407.85,462.32 L408.20,462.32 L408.20,464.43 L408.55,464.43 L408.55,466.55 L408.90,466.55 L408.90,468.67 L409.25,468.67 L409.25,470.78 L409.60,470.78 L409.60,472.90 L409.95,472.90 L409.95,475.02 L410.30,475.02 L410.30,477.13 L410.65,477.13 L410.65,479.25 L411.00,479.25 L411.00,481.37 L411.35,481.37 L411.35,483.48 L411.70,483.48 L411.70,485.60 L412.34,485.60 L412.34,487.72 L412.98,487.72 L412.98,489.84 L413.62,489.84 L413.62,491.96 L414.26,491.96 L414.26,494.08 L414.90,494.08 L414.90,496.20 L415.97,496.20 L415.97,497.93 L417.03,497.93 L417.03,499.67 L418.10,499.67 L418.10,501.40 L423.90,501.40 L423.90,503.00 L429.70,503.00 L429.70,504.60 L447.70,504.60 L447.70,504.60 L451.90,504.60 L451.90,505.30" stroke="#c8566a" stroke-width="1.05" fill="none"/>
<text x="386.70" y="527.40" font-size="6.7" fill="#333" textLength="101" lengthAdjust="spacingAndGlyphs" stroke="#333" stroke-width="0.18">TCGA-GBM survival time (months)</text>
<line x1="386.70" y1="532.80" x2="389.10" y2="532.80" stroke="#c8566a" stroke-width="0.8"/>
<text x="390.00" y="535.00" font-size="5.5" fill="#444" textLength="118.5" lengthAdjust="spacingAndGlyphs" stroke="#444" stroke-width="0.1"><tspan font-style="italic">BMAL1</tspan> high (<tspan font-style="italic">n</tspan> = 125, events = 105, media = 14)</text>
<line x1="386.70" y1="538.70" x2="389.10" y2="538.70" stroke="#4b4f82" stroke-width="0.8"/>
<text x="390.00" y="540.90" font-size="5.5" fill="#444" textLength="118.5" lengthAdjust="spacingAndGlyphs" stroke="#444" stroke-width="0.1"><tspan font-style="italic">BMAL1</tspan> low (<tspan font-style="italic">n</tspan> = 120, events = 98, media = 16.5)</text>
<text x="0.80" y="572.40" font-size="10" font-weight="bold" stroke="#231f20" stroke-width="0.18">N</text>
<line x1="31.80" y1="573.50" x2="31.80" y2="657.80" stroke="#2a2a2a" stroke-width="1.3"/>
<line x1="31.80" y1="657.80" x2="119.20" y2="657.80" stroke="#2a2a2a" stroke-width="1.3"/>
<text x="29.00" y="579.60" font-size="6.6" text-anchor="end" fill="#333" stroke="#333" stroke-width="0.18">100%</text>
<text x="29.00" y="598.65" font-size="6.6" text-anchor="end" fill="#333" stroke="#333" stroke-width="0.18">75%</text>
<text x="29.00" y="617.70" font-size="6.6" text-anchor="end" fill="#333" stroke="#333" stroke-width="0.18">50%</text>
<text x="29.00" y="636.75" font-size="6.6" text-anchor="end" fill="#333" stroke="#333" stroke-width="0.18">25%</text>
<text x="29.00" y="655.80" font-size="6.6" text-anchor="end" fill="#333" stroke="#333" stroke-width="0.18">0%</text>
<line x1="36.20" y1="657.80" x2="36.20" y2="659.40" stroke="#2a2a2a" stroke-width="0.8"/>
<text x="36.20" y="666.60" font-size="6.6" text-anchor="middle" fill="#333" stroke="#333" stroke-width="0.18">0</text>
<line x1="55.20" y1="657.80" x2="55.20" y2="659.40" stroke="#2a2a2a" stroke-width="0.8"/>
<text x="55.20" y="666.60" font-size="6.6" text-anchor="middle" fill="#333" stroke="#333" stroke-width="0.18">50</text>
<line x1="74.20" y1="657.80" x2="74.20" y2="659.40" stroke="#2a2a2a" stroke-width="0.8"/>
<text x="74.20" y="666.60" font-size="6.6" text-anchor="middle" fill="#333" stroke="#333" stroke-width="0.18">100</text>
<line x1="93.20" y1="657.80" x2="93.20" y2="659.40" stroke="#2a2a2a" stroke-width="0.8"/>
<text x="93.20" y="666.60" font-size="6.6" text-anchor="middle" fill="#333" stroke="#333" stroke-width="0.18">150</text>
<line x1="112.20" y1="657.80" x2="112.20" y2="659.40" stroke="#2a2a2a" stroke-width="0.8"/>
<text x="112.20" y="666.60" font-size="6.6" text-anchor="middle" fill="#333" stroke="#333" stroke-width="0.18">200</text>
<text x="8.40" y="615.40" font-size="6.6" text-anchor="middle" fill="#333" transform="rotate(-90 8.40 615.40)" stroke="#333" stroke-width="0.18">Surviving</text>
<text x="61.50" y="577.20" font-size="6.0" fill="#333" textLength="57.7" lengthAdjust="spacingAndGlyphs" stroke="#333" stroke-width="0.1"><tspan font-size="4.8" dy="-1">***</tspan><tspan dy="1"> </tspan>Log-rank <tspan font-style="italic">P</tspan> value = 0</text>
<text x="61.50" y="583.60" font-size="6.0" fill="#333" textLength="57.7" lengthAdjust="spacingAndGlyphs" stroke="#333" stroke-width="0.1"><tspan font-size="4.8" dy="-1">***</tspan><tspan dy="1"> </tspan>Wilcoxon <tspan font-style="italic">P</tspan> value = 0</text>
<path d="M36.20,577.50 L36.63,577.50 L36.63,579.73 L37.07,579.73 L37.07,581.97 L37.50,581.97 L37.50,584.20 L37.88,584.20 L37.88,586.52 L38.26,586.52 L38.26,588.84 L38.64,588.84 L38.64,591.16 L39.02,591.16 L39.02,593.48 L39.40,593.48 L39.40,595.80 L39.68,595.80 L39.68,597.72 L39.96,597.72 L39.96,599.64 L40.24,599.64 L40.24,601.56 L40.52,601.56 L40.52,603.48 L40.80,603.48 L40.80,605.40 L41.02,605.40 L41.02,607.32 L41.24,607.32 L41.24,609.24 L41.46,609.24 L41.46,611.16 L41.68,611.16 L41.68,613.08 L41.90,613.08 L41.90,615.00 L42.25,615.00 L42.25,616.92 L42.60,616.92 L42.60,618.85 L42.95,618.85 L42.95,620.78 L43.30,620.78 L43.30,622.70 L43.93,622.70 L43.93,624.63 L44.57,624.63 L44.57,626.57 L45.20,626.57 L45.20,628.50 L46.15,628.50 L46.15,630.90 L47.10,630.90 L47.10,633.30 L48.07,633.30 L48.07,634.90 L49.03,634.90 L49.03,636.50 L50.00,636.50 L50.00,638.10 L51.27,638.10 L51.27,640.00 L52.53,640.00 L52.53,641.90 L53.80,641.90 L53.80,643.80 L55.75,643.80 L55.75,645.25 L57.70,645.25 L57.70,646.70 L60.60,646.70 L60.60,648.15 L63.50,648.15 L63.50,649.60 L69.20,649.60 L69.20,651.90 L73.10,651.90 L73.10,652.70" stroke="#4b4f82" stroke-width="1.05" fill="none"/>
<path d="M36.20,577.50 L43.30,577.50 L43.30,578.10 L46.20,578.10 L46.20,580.40 L50.00,580.40 L50.00,582.30 L50.95,582.30 L50.95,583.75 L51.90,583.75 L51.90,585.20 L52.85,585.20 L52.85,587.10 L53.80,587.10 L53.80,589.00 L54.80,589.00 L54.80,591.25 L55.80,591.25 L55.80,593.50 L59.60,593.50 L59.60,593.80 L59.60,593.80 L59.60,595.80 L63.50,595.80 L63.50,596.20 L63.95,596.20 L63.95,597.90 L64.40,597.90 L64.40,599.60 L64.90,599.60 L64.90,601.55 L65.40,601.55 L65.40,603.50 L67.30,603.50 L67.30,605.40 L68.25,605.40 L68.25,607.50 L69.20,607.50 L69.20,609.60 L86.90,609.60 L86.90,609.60 L86.90,609.60 L86.90,611.83 L86.90,611.83 L86.90,614.05 L86.90,614.05 L86.90,616.27 L86.90,616.27 L86.90,618.50 L91.30,618.50 L91.30,618.50 L91.30,618.50 L91.30,620.75 L91.30,620.75 L91.30,623.00 L91.30,623.00 L91.30,625.25 L91.30,625.25 L91.30,627.50 L100.40,627.50 L100.40,627.50 L100.40,627.50 L100.40,629.75 L100.40,629.75 L100.40,632.00 L100.40,632.00 L100.40,634.25 L100.40,634.25 L100.40,636.50 L103.80,636.50 L103.80,636.50" stroke="#c8566a" stroke-width="1.05" fill="none"/>
<text x="13.80" y="674.40" font-size="6.7" fill="#333" textLength="117" lengthAdjust="spacingAndGlyphs" stroke="#333" stroke-width="0.18">TCGA-LGG GBM survival time (months)</text>
<line x1="15.00" y1="680.30" x2="17.40" y2="680.30" stroke="#c8566a" stroke-width="0.8"/>
<text x="18.30" y="682.50" font-size="5.5" fill="#444" textLength="119.5" lengthAdjust="spacingAndGlyphs" stroke="#444" stroke-width="0.1"><tspan font-style="italic">CRY2</tspan> high (<tspan font-style="italic">n</tspan> = 167, events = 19, median = 134.3))</text>
<line x1="15.00" y1="686.90" x2="17.40" y2="686.90" stroke="#4b4f82" stroke-width="0.8"/>
<text x="18.30" y="689.10" font-size="5.5" fill="#444" textLength="119.5" lengthAdjust="spacingAndGlyphs" stroke="#444" stroke-width="0.1"><tspan font-style="italic">CRY2</tspan> low (<tspan font-style="italic">n</tspan> = 168, events = 114, median = 16.2))</text>
<text x="119.20" y="590.3" font-size="6.0" fill="#333" text-anchor="end" textLength="56.7" lengthAdjust="spacingAndGlyphs" stroke="#333" stroke-width="0.1">HR = 13.28 (7.8–22.58)</text>
<text x="130.60" y="572.40" font-size="10" font-weight="bold" stroke="#231f20" stroke-width="0.18">O</text>
<line x1="161.30" y1="573.50" x2="161.30" y2="657.80" stroke="#2a2a2a" stroke-width="1.3"/>
<line x1="161.30" y1="657.80" x2="247.50" y2="657.80" stroke="#2a2a2a" stroke-width="1.3"/>
<text x="158.50" y="579.60" font-size="6.6" text-anchor="end" fill="#333" stroke="#333" stroke-width="0.18">100%</text>
<text x="158.50" y="598.65" font-size="6.6" text-anchor="end" fill="#333" stroke="#333" stroke-width="0.18">75%</text>
<text x="158.50" y="617.70" font-size="6.6" text-anchor="end" fill="#333" stroke="#333" stroke-width="0.18">50%</text>
<text x="158.50" y="636.75" font-size="6.6" text-anchor="end" fill="#333" stroke="#333" stroke-width="0.18">25%</text>
<text x="158.50" y="655.80" font-size="6.6" text-anchor="end" fill="#333" stroke="#333" stroke-width="0.18">0%</text>
<line x1="165.00" y1="657.80" x2="165.00" y2="659.40" stroke="#2a2a2a" stroke-width="0.8"/>
<text x="165.00" y="666.60" font-size="6.6" text-anchor="middle" fill="#333" stroke="#333" stroke-width="0.18">0</text>
<line x1="183.90" y1="657.80" x2="183.90" y2="659.40" stroke="#2a2a2a" stroke-width="0.8"/>
<text x="183.90" y="666.60" font-size="6.6" text-anchor="middle" fill="#333" stroke="#333" stroke-width="0.18">50</text>
<line x1="202.80" y1="657.80" x2="202.80" y2="659.40" stroke="#2a2a2a" stroke-width="0.8"/>
<text x="202.80" y="666.60" font-size="6.6" text-anchor="middle" fill="#333" stroke="#333" stroke-width="0.18">100</text>
<line x1="221.70" y1="657.80" x2="221.70" y2="659.40" stroke="#2a2a2a" stroke-width="0.8"/>
<text x="221.70" y="666.60" font-size="6.6" text-anchor="middle" fill="#333" stroke="#333" stroke-width="0.18">150</text>
<line x1="240.60" y1="657.80" x2="240.60" y2="659.40" stroke="#2a2a2a" stroke-width="0.8"/>
<text x="240.60" y="666.60" font-size="6.6" text-anchor="middle" fill="#333" stroke="#333" stroke-width="0.18">200</text>
<text x="137.70" y="615.40" font-size="6.6" text-anchor="middle" fill="#333" transform="rotate(-90 137.70 615.40)" stroke="#333" stroke-width="0.18">Surviving</text>
<text x="188.80" y="577.20" font-size="6.0" fill="#333" textLength="57.5" lengthAdjust="spacingAndGlyphs" stroke="#333" stroke-width="0.1"><tspan font-size="4.8" dy="-1">***</tspan><tspan dy="1"> </tspan>Log-rank <tspan font-style="italic">P</tspan> value = 0</text>
<text x="188.80" y="583.60" font-size="6.0" fill="#333" textLength="57.5" lengthAdjust="spacingAndGlyphs" stroke="#333" stroke-width="0.1"><tspan font-size="4.8" dy="-1">***</tspan><tspan dy="1"> </tspan>Wilcoxon <tspan font-style="italic">P</tspan> value = 0</text>
<path d="M164.90,576.90 L165.60,576.90 L165.60,579.03 L166.30,579.03 L166.30,581.17 L167.00,581.17 L167.00,583.30 L167.53,583.30 L167.53,585.40 L168.05,585.40 L168.05,587.50 L168.57,587.50 L168.57,589.60 L169.10,589.60 L169.10,591.70 L169.38,591.70 L169.38,593.83 L169.65,593.83 L169.65,595.95 L169.92,595.95 L169.92,598.08 L170.20,598.08 L170.20,600.20 L170.47,600.20 L170.47,602.33 L170.75,602.33 L170.75,604.45 L171.03,604.45 L171.03,606.58 L171.30,606.58 L171.30,608.70 L171.63,608.70 L171.63,610.47 L171.97,610.47 L171.97,612.23 L172.30,612.23 L172.30,614.00 L173.00,614.00 L173.00,615.73 L173.70,615.73 L173.70,617.47 L174.40,617.47 L174.40,619.20 L176.00,619.20 L176.00,621.35 L177.60,621.35 L177.60,623.50 L179.20,623.50 L179.20,625.60 L180.80,625.60 L180.80,627.70 L182.90,627.70 L182.90,629.80 L185.00,629.80 L185.00,631.90 L187.10,631.90 L187.10,634.05 L189.20,634.05 L189.20,636.20 L191.35,636.20 L191.35,637.75 L193.50,637.75 L193.50,639.30 L199.80,639.30 L199.80,641.40 L203.00,641.40 L203.00,643.00 L206.20,643.00 L206.20,644.60 L214.60,644.60 L214.60,644.60 L214.60,644.60 L214.60,646.70 L245.00,646.70 L245.00,646.70" stroke="#4b4f82" stroke-width="1.05" fill="none"/>
<path d="M164.90,576.90 L165.95,576.90 L165.95,578.50 L167.00,578.50 L167.00,580.10 L168.05,580.10 L168.05,582.20 L169.10,582.20 L169.10,584.30 L170.20,584.30 L170.20,586.45 L171.30,586.45 L171.30,588.60 L172.35,588.60 L172.35,590.70 L173.40,590.70 L173.40,592.80 L174.45,592.80 L174.45,594.40 L175.50,594.40 L175.50,596.00 L178.70,596.00 L178.70,598.10 L179.75,598.10 L179.75,600.20 L180.80,600.20 L180.80,602.30 L181.85,602.30 L181.85,604.40 L182.90,604.40 L182.90,606.50 L183.95,606.50 L183.95,608.10 L185.00,608.10 L185.00,609.70 L188.20,609.70 L188.20,610.80 L189.25,610.80 L189.25,612.35 L190.30,612.35 L190.30,613.90 L191.90,613.90 L191.90,615.50 L193.50,615.50 L193.50,617.10 L197.70,617.10 L197.70,619.20 L203.00,619.20 L203.00,620.30 L203.00,620.30 L203.00,622.40 L203.00,622.40 L203.00,624.50 L215.70,624.50 L215.70,624.50 L215.70,624.50 L215.70,626.63 L215.70,626.63 L215.70,628.77 L215.70,628.77 L215.70,630.90 L218.90,630.90 L218.90,630.90 L218.90,630.90 L218.90,633.16 L218.90,633.16 L218.90,635.41 L218.90,635.41 L218.90,637.67 L218.90,637.67 L218.90,639.93 L218.90,639.93 L218.90,642.19 L218.90,642.19 L218.90,644.44 L218.90,644.44 L218.90,646.70 L228.40,646.70 L228.40,646.70 L228.40,646.70 L228.40,648.83 L228.40,648.83 L228.40,650.97 L228.40,650.97 L228.40,653.10" stroke="#c8566a" stroke-width="1.05" fill="none"/>
<text x="144.40" y="674.40" font-size="6.7" fill="#333" textLength="115.6" lengthAdjust="spacingAndGlyphs" stroke="#333" stroke-width="0.18">TCGA-LGG GBM survival time (months)</text>
<line x1="143.60" y1="680.30" x2="146.00" y2="680.30" stroke="#c8566a" stroke-width="0.8"/>
<text x="146.90" y="682.50" font-size="5.5" fill="#444" textLength="120.5" lengthAdjust="spacingAndGlyphs" stroke="#444" stroke-width="0.1"><tspan font-style="italic">NR1D1</tspan> high (<tspan font-style="italic">n</tspan> = 166, events = 47, median = 75))</text>
<line x1="143.60" y1="686.90" x2="146.00" y2="686.90" stroke="#4b4f82" stroke-width="0.8"/>
<text x="146.90" y="689.10" font-size="5.5" fill="#444" textLength="120.5" lengthAdjust="spacingAndGlyphs" stroke="#444" stroke-width="0.1"><tspan font-style="italic">NR1D1</tspan> low (<tspan font-style="italic">n</tspan> = 168, events = 95, median = 22.2))</text>
<text x="246.30" y="590.3" font-size="6.0" fill="#333" text-anchor="end" textLength="53" lengthAdjust="spacingAndGlyphs" stroke="#333" stroke-width="0.1">HR = 2.44 (1.72–3.46)</text>
<text x="256.80" y="572.40" font-size="10" font-weight="bold" stroke="#231f20" stroke-width="0.18">P</text>
<line x1="286.30" y1="573.50" x2="286.30" y2="657.80" stroke="#2a2a2a" stroke-width="1.3"/>
<line x1="286.30" y1="657.80" x2="370.00" y2="657.80" stroke="#2a2a2a" stroke-width="1.3"/>
<text x="283.50" y="579.60" font-size="6.6" text-anchor="end" fill="#333" stroke="#333" stroke-width="0.18">100%</text>
<text x="283.50" y="598.65" font-size="6.6" text-anchor="end" fill="#333" stroke="#333" stroke-width="0.18">75%</text>
<text x="283.50" y="617.70" font-size="6.6" text-anchor="end" fill="#333" stroke="#333" stroke-width="0.18">50%</text>
<text x="283.50" y="636.75" font-size="6.6" text-anchor="end" fill="#333" stroke="#333" stroke-width="0.18">25%</text>
<text x="283.50" y="655.80" font-size="6.6" text-anchor="end" fill="#333" stroke="#333" stroke-width="0.18">0%</text>
<line x1="289.50" y1="657.80" x2="289.50" y2="659.40" stroke="#2a2a2a" stroke-width="0.8"/>
<text x="289.50" y="666.60" font-size="6.6" text-anchor="middle" fill="#333" stroke="#333" stroke-width="0.18">0</text>
<line x1="308.80" y1="657.80" x2="308.80" y2="659.40" stroke="#2a2a2a" stroke-width="0.8"/>
<text x="308.80" y="666.60" font-size="6.6" text-anchor="middle" fill="#333" stroke="#333" stroke-width="0.18">50</text>
<line x1="328.10" y1="657.80" x2="328.10" y2="659.40" stroke="#2a2a2a" stroke-width="0.8"/>
<text x="328.10" y="666.60" font-size="6.6" text-anchor="middle" fill="#333" stroke="#333" stroke-width="0.18">100</text>
<line x1="347.40" y1="657.80" x2="347.40" y2="659.40" stroke="#2a2a2a" stroke-width="0.8"/>
<text x="347.40" y="666.60" font-size="6.6" text-anchor="middle" fill="#333" stroke="#333" stroke-width="0.18">150</text>
<line x1="366.70" y1="657.80" x2="366.70" y2="659.40" stroke="#2a2a2a" stroke-width="0.8"/>
<text x="366.70" y="666.60" font-size="6.6" text-anchor="middle" fill="#333" stroke="#333" stroke-width="0.18">200</text>
<text x="263.30" y="615.40" font-size="6.6" text-anchor="middle" fill="#333" transform="rotate(-90 263.30 615.40)" stroke="#333" stroke-width="0.18">Surviving</text>
<text x="307.50" y="577.20" font-size="6.0" fill="#333" textLength="57.0" lengthAdjust="spacingAndGlyphs" stroke="#333" stroke-width="0.1"><tspan font-size="4.8" dy="-1">***</tspan><tspan dy="1"> </tspan>Log-rank <tspan font-style="italic">P</tspan> value = 0</text>
<text x="307.50" y="583.60" font-size="6.0" fill="#333" textLength="57.0" lengthAdjust="spacingAndGlyphs" stroke="#333" stroke-width="0.1"><tspan font-size="4.8" dy="-1">***</tspan><tspan dy="1"> </tspan>Wilcoxon <tspan font-style="italic">P</tspan> value = 0</text>
<path d="M289.30,576.90 L289.87,576.90 L289.87,579.03 L290.43,579.03 L290.43,581.17 L291.00,581.17 L291.00,583.30 L291.42,583.30 L291.42,585.40 L291.84,585.40 L291.84,587.50 L292.26,587.50 L292.26,589.60 L292.68,589.60 L292.68,591.70 L293.10,591.70 L293.10,593.80 L293.52,593.80 L293.52,595.92 L293.94,595.92 L293.94,598.04 L294.36,598.04 L294.36,600.16 L294.78,600.16 L294.78,602.28 L295.20,602.28 L295.20,604.40 L295.48,604.40 L295.48,606.77 L295.75,606.77 L295.75,609.15 L296.02,609.15 L296.02,611.52 L296.30,611.52 L296.30,613.90 L297.35,613.90 L297.35,615.50 L298.40,615.50 L298.40,617.10 L299.95,617.10 L299.95,619.20 L301.50,619.20 L301.50,621.30 L303.10,621.30 L303.10,623.45 L304.70,623.45 L304.70,625.60 L305.77,625.60 L305.77,627.37 L306.83,627.37 L306.83,629.13 L307.90,629.13 L307.90,630.90 L309.50,630.90 L309.50,633.00 L311.10,633.00 L311.10,635.10 L312.65,635.10 L312.65,637.20 L314.20,637.20 L314.20,639.30 L318.50,639.30 L318.50,641.40 L324.80,641.40 L324.80,643.60 L325.90,643.60 L325.90,645.70 L339.60,645.70 L339.60,645.70 L339.60,645.70 L339.60,647.80 L339.60,647.80 L339.60,649.90 L348.10,649.90 L348.10,649.90" stroke="#4b4f82" stroke-width="1.05" fill="none"/>
<path d="M289.30,576.90 L292.00,576.90 L292.00,579.00 L293.60,579.00 L293.60,581.15 L295.20,581.15 L295.20,583.30 L296.27,583.30 L296.27,585.40 L297.33,585.40 L297.33,587.50 L298.40,587.50 L298.40,589.60 L301.50,589.60 L301.50,590.70 L304.70,590.70 L304.70,592.80 L305.75,592.80 L305.75,594.40 L306.80,594.40 L306.80,596.00 L308.40,596.00 L308.40,597.55 L310.00,597.55 L310.00,599.10 L311.05,599.10 L311.05,600.70 L312.10,600.70 L312.10,602.30 L315.30,602.30 L315.30,604.40 L316.35,604.40 L316.35,606.00 L317.40,606.00 L317.40,607.60 L318.15,607.60 L318.15,609.70 L318.90,609.70 L318.90,611.80 L324.80,611.80 L324.80,611.80 L325.85,611.80 L325.85,613.40 L326.90,613.40 L326.90,615.00 L326.90,615.00 L326.90,616.77 L326.90,616.77 L326.90,618.53 L326.90,618.53 L326.90,620.30 L344.90,620.30 L344.90,620.30 L344.90,620.30 L344.90,622.52 L344.90,622.52 L344.90,624.74 L344.90,624.74 L344.90,626.96 L344.90,626.96 L344.90,629.18 L344.90,629.18 L344.90,631.40 L344.90,631.40 L344.90,633.62 L344.90,633.62 L344.90,635.84 L344.90,635.84 L344.90,638.06 L344.90,638.06 L344.90,640.28 L344.90,640.28 L344.90,642.50 L358.70,642.50 L358.70,642.50" stroke="#c8566a" stroke-width="1.05" fill="none"/>
<text x="272.50" y="674.40" font-size="6.7" fill="#333" textLength="114.2" lengthAdjust="spacingAndGlyphs" stroke="#333" stroke-width="0.18">TCGA-LGG GBM survival time (months)</text>
<line x1="270.00" y1="680.30" x2="272.40" y2="680.30" stroke="#c8566a" stroke-width="0.8"/>
<text x="273.30" y="682.50" font-size="5.5" fill="#444" textLength="119.5" lengthAdjust="spacingAndGlyphs" stroke="#444" stroke-width="0.1"><tspan font-style="italic">PER2</tspan> high (<tspan font-style="italic">n</tspan> = 167, events = 34, median = 98.2))</text>
<line x1="270.00" y1="686.90" x2="272.40" y2="686.90" stroke="#4b4f82" stroke-width="0.8"/>
<text x="273.30" y="689.10" font-size="5.5" fill="#444" textLength="119.5" lengthAdjust="spacingAndGlyphs" stroke="#444" stroke-width="0.1"><tspan font-style="italic">PER2</tspan> low (<tspan font-style="italic">n</tspan> = 167, events = 94, median = 22.2))</text>
<text x="364.50" y="590.3" font-size="6.0" fill="#333" text-anchor="end" textLength="53.2" lengthAdjust="spacingAndGlyphs" stroke="#333" stroke-width="0.1">HR = 3.72 (2.51–5.52)</text>
<text x="384.40" y="572.40" font-size="10" font-weight="bold" stroke="#231f20" stroke-width="0.18">Q</text>
<line x1="412.10" y1="573.50" x2="412.10" y2="657.80" stroke="#2a2a2a" stroke-width="1.3"/>
<line x1="412.10" y1="657.80" x2="498.80" y2="657.80" stroke="#2a2a2a" stroke-width="1.3"/>
<text x="409.30" y="579.60" font-size="6.6" text-anchor="end" fill="#333" stroke="#333" stroke-width="0.18">100%</text>
<text x="409.30" y="598.65" font-size="6.6" text-anchor="end" fill="#333" stroke="#333" stroke-width="0.18">75%</text>
<text x="409.30" y="617.70" font-size="6.6" text-anchor="end" fill="#333" stroke="#333" stroke-width="0.18">50%</text>
<text x="409.30" y="636.75" font-size="6.6" text-anchor="end" fill="#333" stroke="#333" stroke-width="0.18">25%</text>
<text x="409.30" y="655.80" font-size="6.6" text-anchor="end" fill="#333" stroke="#333" stroke-width="0.18">0%</text>
<line x1="416.30" y1="657.80" x2="416.30" y2="659.40" stroke="#2a2a2a" stroke-width="0.8"/>
<text x="416.30" y="666.60" font-size="6.6" text-anchor="middle" fill="#333" stroke="#333" stroke-width="0.18">0</text>
<line x1="435.00" y1="657.80" x2="435.00" y2="659.40" stroke="#2a2a2a" stroke-width="0.8"/>
<text x="435.00" y="666.60" font-size="6.6" text-anchor="middle" fill="#333" stroke="#333" stroke-width="0.18">50</text>
<line x1="453.70" y1="657.80" x2="453.70" y2="659.40" stroke="#2a2a2a" stroke-width="0.8"/>
<text x="453.70" y="666.60" font-size="6.6" text-anchor="middle" fill="#333" stroke="#333" stroke-width="0.18">100</text>
<line x1="472.40" y1="657.80" x2="472.40" y2="659.40" stroke="#2a2a2a" stroke-width="0.8"/>
<text x="472.40" y="666.60" font-size="6.6" text-anchor="middle" fill="#333" stroke="#333" stroke-width="0.18">150</text>
<line x1="491.10" y1="657.80" x2="491.10" y2="659.40" stroke="#2a2a2a" stroke-width="0.8"/>
<text x="491.10" y="666.60" font-size="6.6" text-anchor="middle" fill="#333" stroke="#333" stroke-width="0.18">200</text>
<text x="390.60" y="615.40" font-size="6.6" text-anchor="middle" fill="#333" transform="rotate(-90 390.60 615.40)" stroke="#333" stroke-width="0.18">Surviving</text>
<text x="438.80" y="577.20" font-size="6.0" fill="#333" textLength="57.5" lengthAdjust="spacingAndGlyphs" stroke="#333" stroke-width="0.1"><tspan font-size="4.8" dy="-1">***</tspan><tspan dy="1"> </tspan>Log-rank <tspan font-style="italic">P</tspan> value = 0</text>
<text x="438.80" y="583.60" font-size="6.0" fill="#333" textLength="57.5" lengthAdjust="spacingAndGlyphs" stroke="#333" stroke-width="0.1"><tspan font-size="4.8" dy="-1">***</tspan><tspan dy="1"> </tspan>Wilcoxon <tspan font-style="italic">P</tspan> value = 0</text>
<path d="M416.30,577.30 L416.80,577.30 L416.80,579.30 L417.30,579.30 L417.30,581.30 L417.80,581.30 L417.80,583.30 L418.15,583.30 L418.15,585.42 L418.50,585.42 L418.50,587.53 L418.85,587.53 L418.85,589.65 L419.20,589.65 L419.20,591.77 L419.55,591.77 L419.55,593.88 L419.90,593.88 L419.90,596.00 L420.15,596.00 L420.15,598.12 L420.40,598.12 L420.40,600.23 L420.65,600.23 L420.65,602.35 L420.90,602.35 L420.90,604.47 L421.15,604.47 L421.15,606.58 L421.40,606.58 L421.40,608.70 L421.74,608.70 L421.74,610.80 L422.08,610.80 L422.08,612.90 L422.42,612.90 L422.42,615.00 L422.76,615.00 L422.76,617.10 L423.10,617.10 L423.10,619.20 L423.62,619.20 L423.62,621.33 L424.15,621.33 L424.15,623.45 L424.68,623.45 L424.68,625.58 L425.20,625.58 L425.20,627.70 L425.90,627.70 L425.90,629.80 L426.60,629.80 L426.60,631.90 L427.30,631.90 L427.30,634.00 L428.90,634.00 L428.90,635.60 L430.50,635.60 L430.50,637.20 L433.70,637.20 L433.70,639.30 L437.90,639.30 L437.90,641.40 L441.05,641.40 L441.05,643.00 L444.20,643.00 L444.20,644.60 L447.40,644.60 L447.40,646.75 L450.60,646.75 L450.60,648.90 L454.80,648.90 L454.80,651.00 L467.50,651.00 L467.50,651.00" stroke="#4b4f82" stroke-width="1.05" fill="none"/>
<path d="M416.30,577.30 L418.80,577.30 L418.80,578.60 L420.40,578.60 L420.40,579.90 L422.00,579.90 L422.00,581.20 L423.60,581.20 L423.60,582.75 L425.20,582.75 L425.20,584.30 L428.40,584.30 L428.40,586.40 L430.50,586.40 L430.50,587.50 L430.83,587.50 L430.83,589.60 L431.17,589.60 L431.17,591.70 L431.50,591.70 L431.50,593.80 L434.70,593.80 L434.70,594.90 L436.80,594.90 L436.80,597.00 L438.90,597.00 L438.90,598.10 L440.00,598.10 L440.00,599.70 L441.10,599.70 L441.10,601.30 L448.50,601.30 L448.50,602.30 L449.00,602.30 L449.00,604.40 L449.50,604.40 L449.50,606.50 L450.55,606.50 L450.55,608.65 L451.60,608.65 L451.60,610.80 L451.97,610.80 L451.97,612.57 L452.33,612.57 L452.33,614.33 L452.70,614.33 L452.70,616.10 L453.07,616.10 L453.07,617.83 L453.43,617.83 L453.43,619.57 L453.80,619.57 L453.80,621.30 L454.50,621.30 L454.50,623.43 L455.20,623.43 L455.20,625.57 L455.90,625.57 L455.90,627.70 L467.50,627.70 L467.50,627.70 L467.77,627.70 L467.77,630.08 L468.05,630.08 L468.05,632.45 L468.33,632.45 L468.33,634.83 L468.60,634.83 L468.60,637.20 L470.70,637.20 L470.70,637.20 L470.70,637.20 L470.70,639.33 L470.70,639.33 L470.70,641.45 L470.70,641.45 L470.70,643.58 L470.70,643.58 L470.70,645.70 L481.30,645.70 L481.30,645.70" stroke="#c8566a" stroke-width="1.05" fill="none"/>
<text x="399.50" y="674.40" font-size="6.7" fill="#333" textLength="114.2" lengthAdjust="spacingAndGlyphs" stroke="#333" stroke-width="0.18">TCGA-LGG GBM survival time (months)</text>
<line x1="397.50" y1="680.30" x2="399.90" y2="680.30" stroke="#c8566a" stroke-width="0.8"/>
<text x="400.80" y="682.50" font-size="5.5" fill="#444" textLength="121.5" lengthAdjust="spacingAndGlyphs" stroke="#444" stroke-width="0.1"><tspan font-style="italic">PER3</tspan> high (<tspan font-style="italic">n</tspan> = 167, events = 27, median = 94.5))</text>
<line x1="397.50" y1="686.90" x2="399.90" y2="686.90" stroke="#4b4f82" stroke-width="0.8"/>
<text x="400.80" y="689.10" font-size="5.5" fill="#444" textLength="121.5" lengthAdjust="spacingAndGlyphs" stroke="#444" stroke-width="0.1"><tspan font-style="italic">PER3</tspan> low (<tspan font-style="italic">n</tspan> = 166, events = 112, median = 16.8))</text>
<text x="496.30" y="590.3" font-size="6.0" fill="#333" text-anchor="end" textLength="57.5" lengthAdjust="spacingAndGlyphs" stroke="#333" stroke-width="0.1">HR = 7.36 (4.75–11.41)</text></svg>
</body></html>
